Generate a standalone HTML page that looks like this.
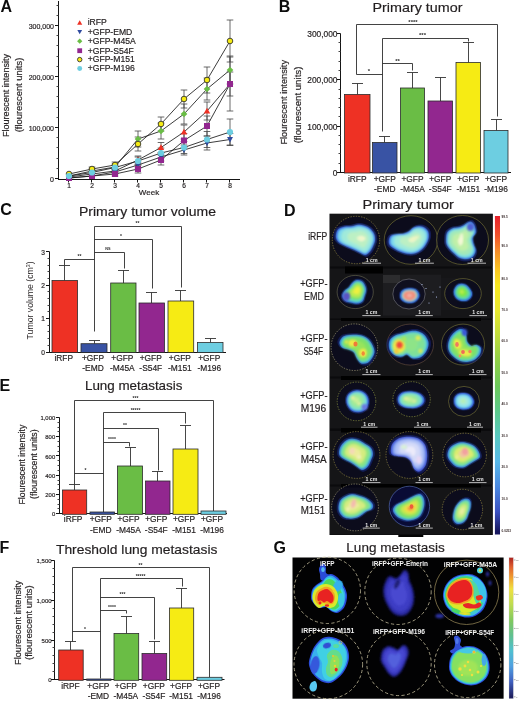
<!DOCTYPE html>
<html><head><meta charset="utf-8"><title>Figure</title>
<style>
html,body{margin:0;padding:0;background:#fff;}
body{width:520px;height:701px;overflow:hidden;font-family:"Liberation Sans",Arial,sans-serif;}
svg{display:block;position:absolute;left:0;top:0;}
svg text{font-family:"Liberation Sans",Arial,sans-serif;}
</style></head><body>
<svg width="520" height="701" viewBox="0 0 520 701">
<defs>
<filter id="b1" x="-30%" y="-30%" width="160%" height="160%"><feGaussianBlur stdDeviation="0.85"/></filter>
<filter id="b2" x="-30%" y="-30%" width="160%" height="160%"><feGaussianBlur stdDeviation="0.5"/></filter>
<filter id="b3" x="-30%" y="-30%" width="160%" height="160%"><feGaussianBlur stdDeviation="2.2"/></filter>
<linearGradient id="cbD" x1="0" y1="0" x2="0" y2="1">
<stop offset="0" stop-color="#e8202c"/><stop offset="0.06" stop-color="#f0502a"/><stop offset="0.108" stop-color="#f58a2a"/>
<stop offset="0.171" stop-color="#fcc820"/><stop offset="0.218" stop-color="#f8e820"/><stop offset="0.297" stop-color="#e8e830"/>
<stop offset="0.376" stop-color="#c0dc3c"/><stop offset="0.455" stop-color="#90d048"/><stop offset="0.534" stop-color="#6cc85a"/>
<stop offset="0.613" stop-color="#5cc88a"/><stop offset="0.692" stop-color="#58c8c0"/><stop offset="0.771" stop-color="#58b8e8"/>
<stop offset="0.85" stop-color="#4a88e0"/><stop offset="0.929" stop-color="#3a50c0"/><stop offset="0.99" stop-color="#181860"/>
</linearGradient>
<linearGradient id="cbG" x1="0" y1="0" x2="0" y2="1">
<stop offset="0.007" stop-color="#b02820"/><stop offset="0.066" stop-color="#e06030"/><stop offset="0.144" stop-color="#f0a030"/>
<stop offset="0.222" stop-color="#f0e040"/><stop offset="0.328" stop-color="#c0dc50"/><stop offset="0.448" stop-color="#80c860"/>
<stop offset="0.554" stop-color="#60c090"/><stop offset="0.66" stop-color="#50c0d0"/><stop offset="0.77" stop-color="#50a0e0"/>
<stop offset="0.878" stop-color="#4060c0"/><stop offset="0.985" stop-color="#202060"/>
</linearGradient>
</defs>
<rect width="520" height="701" fill="#ffffff"/>

<text x="0.4" y="11.9" font-size="16" text-anchor="start" font-weight="bold" fill="#0c0c0c">A</text>
<text x="278.8" y="11.9" font-size="16" text-anchor="start" font-weight="bold" fill="#0c0c0c">B</text>
<text x="0.2" y="215.3" font-size="16" text-anchor="start" font-weight="bold" fill="#0c0c0c">C</text>
<text x="284" y="215.5" font-size="16" text-anchor="start" font-weight="bold" fill="#0c0c0c">D</text>
<text x="-0.4" y="390.5" font-size="16" text-anchor="start" font-weight="bold" fill="#0c0c0c">E</text>
<text x="-0.4" y="552.8" font-size="16" text-anchor="start" font-weight="bold" fill="#0c0c0c">F</text>
<text x="273.5" y="552.5" font-size="16" text-anchor="start" font-weight="bold" fill="#0c0c0c">G</text>
<g id="panelA">
<line x1="58.5" y1="1" x2="58.5" y2="180" stroke="#151515" stroke-width="1.0"/>
<line x1="58" y1="179.5" x2="240" y2="179.5" stroke="#151515" stroke-width="1.0"/>
<line x1="55" y1="178.5" x2="58.5" y2="178.5" stroke="#151515" stroke-width="1.0"/>
<text x="54" y="181.7" font-size="7.0" text-anchor="end" font-weight="normal" fill="#231f20" stroke="#231f20" stroke-width="0.18">0</text>
<line x1="55" y1="127.5" x2="58.5" y2="127.5" stroke="#151515" stroke-width="1.0"/>
<text x="54" y="130.7" font-size="7.0" text-anchor="end" font-weight="normal" fill="#231f20" stroke="#231f20" stroke-width="0.18">100,000</text>
<line x1="55" y1="76.5" x2="58.5" y2="76.5" stroke="#151515" stroke-width="1.0"/>
<text x="54" y="79.7" font-size="7.0" text-anchor="end" font-weight="normal" fill="#231f20" stroke="#231f20" stroke-width="0.18">200,000</text>
<line x1="55" y1="25.5" x2="58.5" y2="25.5" stroke="#151515" stroke-width="1.0"/>
<text x="54" y="28.7" font-size="7.0" text-anchor="end" font-weight="normal" fill="#231f20" stroke="#231f20" stroke-width="0.18">300,000</text>
<line x1="56.5" y1="168.5" x2="58.5" y2="168.5" stroke="#444" stroke-width="1.0"/>
<line x1="56.5" y1="158.5" x2="58.5" y2="158.5" stroke="#444" stroke-width="1.0"/>
<line x1="56.5" y1="147.5" x2="58.5" y2="147.5" stroke="#444" stroke-width="1.0"/>
<line x1="56.5" y1="137.5" x2="58.5" y2="137.5" stroke="#444" stroke-width="1.0"/>
<line x1="56.5" y1="117.5" x2="58.5" y2="117.5" stroke="#444" stroke-width="1.0"/>
<line x1="56.5" y1="107.5" x2="58.5" y2="107.5" stroke="#444" stroke-width="1.0"/>
<line x1="56.5" y1="96.5" x2="58.5" y2="96.5" stroke="#444" stroke-width="1.0"/>
<line x1="56.5" y1="86.5" x2="58.5" y2="86.5" stroke="#444" stroke-width="1.0"/>
<line x1="56.5" y1="66.5" x2="58.5" y2="66.5" stroke="#444" stroke-width="1.0"/>
<line x1="56.5" y1="56.5" x2="58.5" y2="56.5" stroke="#444" stroke-width="1.0"/>
<line x1="56.5" y1="45.5" x2="58.5" y2="45.5" stroke="#444" stroke-width="1.0"/>
<line x1="56.5" y1="35.5" x2="58.5" y2="35.5" stroke="#444" stroke-width="1.0"/>
<line x1="56.5" y1="15.5" x2="58.5" y2="15.5" stroke="#444" stroke-width="1.0"/>
<line x1="56.5" y1="5.5" x2="58.5" y2="5.5" stroke="#444" stroke-width="1.0"/>
<line x1="68.5" y1="179.5" x2="68.5" y2="182.5" stroke="#151515" stroke-width="1.0"/>
<text x="69" y="187.5" font-size="6.6" text-anchor="middle" font-weight="normal" fill="#231f20" stroke="#231f20" stroke-width="0.18">1</text>
<line x1="91.5" y1="179.5" x2="91.5" y2="182.5" stroke="#151515" stroke-width="1.0"/>
<text x="92" y="187.5" font-size="6.6" text-anchor="middle" font-weight="normal" fill="#231f20" stroke="#231f20" stroke-width="0.18">2</text>
<line x1="114.5" y1="179.5" x2="114.5" y2="182.5" stroke="#151515" stroke-width="1.0"/>
<text x="115" y="187.5" font-size="6.6" text-anchor="middle" font-weight="normal" fill="#231f20" stroke="#231f20" stroke-width="0.18">3</text>
<line x1="137.5" y1="179.5" x2="137.5" y2="182.5" stroke="#151515" stroke-width="1.0"/>
<text x="138" y="187.5" font-size="6.6" text-anchor="middle" font-weight="normal" fill="#231f20" stroke="#231f20" stroke-width="0.18">4</text>
<line x1="160.5" y1="179.5" x2="160.5" y2="182.5" stroke="#151515" stroke-width="1.0"/>
<text x="161" y="187.5" font-size="6.6" text-anchor="middle" font-weight="normal" fill="#231f20" stroke="#231f20" stroke-width="0.18">5</text>
<line x1="183.5" y1="179.5" x2="183.5" y2="182.5" stroke="#151515" stroke-width="1.0"/>
<text x="184" y="187.5" font-size="6.6" text-anchor="middle" font-weight="normal" fill="#231f20" stroke="#231f20" stroke-width="0.18">6</text>
<line x1="206.5" y1="179.5" x2="206.5" y2="182.5" stroke="#151515" stroke-width="1.0"/>
<text x="207" y="187.5" font-size="6.6" text-anchor="middle" font-weight="normal" fill="#231f20" stroke="#231f20" stroke-width="0.18">7</text>
<line x1="229.5" y1="179.5" x2="229.5" y2="182.5" stroke="#151515" stroke-width="1.0"/>
<text x="230" y="187.5" font-size="6.6" text-anchor="middle" font-weight="normal" fill="#231f20" stroke="#231f20" stroke-width="0.18">8</text>
<text x="149" y="194.5" font-size="8" text-anchor="middle" font-weight="normal" fill="#231f20" stroke="#231f20" stroke-width="0.18">Week</text>
<text transform="translate(9,95.5) rotate(-90)" font-size="9" text-anchor="middle" fill="#231f20" stroke="#231f20" stroke-width="0.18" textLength="83" lengthAdjust="spacingAndGlyphs">Flourescent intensity</text>
<text transform="translate(21.5,95) rotate(-90)" font-size="9" text-anchor="middle" fill="#231f20" stroke="#231f20" stroke-width="0.18" textLength="74.5" lengthAdjust="spacingAndGlyphs">(flourescent units)</text>
<polyline points="69,177 92,174 115,171 138,160 161,147.5 184,132 207,111 230,84" fill="none" stroke="#1a1a1a" stroke-width="0.85"/>
<polyline points="69,178 92,176 115,172 138,165 161,157 184,150 207,143 230,139.5" fill="none" stroke="#1a1a1a" stroke-width="0.85"/>
<polyline points="69,176 92,171 115,167 138,139 161,131 184,114 207,89 230,70" fill="none" stroke="#1a1a1a" stroke-width="0.85"/>
<polyline points="69,178 92,176 115,174 138,169 161,160 184,140.5 207,126 230,84" fill="none" stroke="#1a1a1a" stroke-width="0.85"/>
<polyline points="69,174 92,169 115,165 138,144 161,124 184,99 207,80 230,41" fill="none" stroke="#1a1a1a" stroke-width="0.85"/>
<polyline points="69,176 92,172.5 115,167.5 138,161 161,153 184,147.5 207,139.5 230,132" fill="none" stroke="#1a1a1a" stroke-width="0.85"/>
<line x1="115" y1="169" x2="115" y2="173" stroke="#444" stroke-width="0.8"/>
<line x1="111.7" y1="169" x2="118.3" y2="169" stroke="#444" stroke-width="0.8"/>
<line x1="111.7" y1="173" x2="118.3" y2="173" stroke="#444" stroke-width="0.8"/>
<line x1="138" y1="156" x2="138" y2="164" stroke="#444" stroke-width="0.8"/>
<line x1="134.7" y1="156" x2="141.3" y2="156" stroke="#444" stroke-width="0.8"/>
<line x1="134.7" y1="164" x2="141.3" y2="164" stroke="#444" stroke-width="0.8"/>
<line x1="161" y1="142.5" x2="161" y2="152.5" stroke="#444" stroke-width="0.8"/>
<line x1="157.7" y1="142.5" x2="164.3" y2="142.5" stroke="#444" stroke-width="0.8"/>
<line x1="157.7" y1="152.5" x2="164.3" y2="152.5" stroke="#444" stroke-width="0.8"/>
<line x1="184" y1="125" x2="184" y2="139" stroke="#444" stroke-width="0.8"/>
<line x1="180.7" y1="125" x2="187.3" y2="125" stroke="#444" stroke-width="0.8"/>
<line x1="180.7" y1="139" x2="187.3" y2="139" stroke="#444" stroke-width="0.8"/>
<line x1="207" y1="102" x2="207" y2="120" stroke="#444" stroke-width="0.8"/>
<line x1="203.7" y1="102" x2="210.3" y2="102" stroke="#444" stroke-width="0.8"/>
<line x1="203.7" y1="120" x2="210.3" y2="120" stroke="#444" stroke-width="0.8"/>
<line x1="230" y1="72" x2="230" y2="96" stroke="#444" stroke-width="0.8"/>
<line x1="226.7" y1="72" x2="233.3" y2="72" stroke="#444" stroke-width="0.8"/>
<line x1="226.7" y1="96" x2="233.3" y2="96" stroke="#444" stroke-width="0.8"/>
<line x1="115" y1="170" x2="115" y2="174" stroke="#444" stroke-width="0.8"/>
<line x1="111.7" y1="170" x2="118.3" y2="170" stroke="#444" stroke-width="0.8"/>
<line x1="111.7" y1="174" x2="118.3" y2="174" stroke="#444" stroke-width="0.8"/>
<line x1="138" y1="162" x2="138" y2="168" stroke="#444" stroke-width="0.8"/>
<line x1="134.7" y1="162" x2="141.3" y2="162" stroke="#444" stroke-width="0.8"/>
<line x1="134.7" y1="168" x2="141.3" y2="168" stroke="#444" stroke-width="0.8"/>
<line x1="161" y1="153" x2="161" y2="161" stroke="#444" stroke-width="0.8"/>
<line x1="157.7" y1="153" x2="164.3" y2="153" stroke="#444" stroke-width="0.8"/>
<line x1="157.7" y1="161" x2="164.3" y2="161" stroke="#444" stroke-width="0.8"/>
<line x1="184" y1="145" x2="184" y2="155" stroke="#444" stroke-width="0.8"/>
<line x1="180.7" y1="145" x2="187.3" y2="145" stroke="#444" stroke-width="0.8"/>
<line x1="180.7" y1="155" x2="187.3" y2="155" stroke="#444" stroke-width="0.8"/>
<line x1="207" y1="136" x2="207" y2="150" stroke="#444" stroke-width="0.8"/>
<line x1="203.7" y1="136" x2="210.3" y2="136" stroke="#444" stroke-width="0.8"/>
<line x1="203.7" y1="150" x2="210.3" y2="150" stroke="#444" stroke-width="0.8"/>
<line x1="230" y1="133.5" x2="230" y2="145.5" stroke="#444" stroke-width="0.8"/>
<line x1="226.7" y1="133.5" x2="233.3" y2="133.5" stroke="#444" stroke-width="0.8"/>
<line x1="226.7" y1="145.5" x2="233.3" y2="145.5" stroke="#444" stroke-width="0.8"/>
<line x1="92" y1="169" x2="92" y2="173" stroke="#444" stroke-width="0.8"/>
<line x1="88.7" y1="169" x2="95.3" y2="169" stroke="#444" stroke-width="0.8"/>
<line x1="88.7" y1="173" x2="95.3" y2="173" stroke="#444" stroke-width="0.8"/>
<line x1="115" y1="164" x2="115" y2="170" stroke="#444" stroke-width="0.8"/>
<line x1="111.7" y1="164" x2="118.3" y2="164" stroke="#444" stroke-width="0.8"/>
<line x1="111.7" y1="170" x2="118.3" y2="170" stroke="#444" stroke-width="0.8"/>
<line x1="138" y1="131" x2="138" y2="147" stroke="#444" stroke-width="0.8"/>
<line x1="134.7" y1="131" x2="141.3" y2="131" stroke="#444" stroke-width="0.8"/>
<line x1="134.7" y1="147" x2="141.3" y2="147" stroke="#444" stroke-width="0.8"/>
<line x1="161" y1="123" x2="161" y2="139" stroke="#444" stroke-width="0.8"/>
<line x1="157.7" y1="123" x2="164.3" y2="123" stroke="#444" stroke-width="0.8"/>
<line x1="157.7" y1="139" x2="164.3" y2="139" stroke="#444" stroke-width="0.8"/>
<line x1="184" y1="104" x2="184" y2="124" stroke="#444" stroke-width="0.8"/>
<line x1="180.7" y1="104" x2="187.3" y2="104" stroke="#444" stroke-width="0.8"/>
<line x1="180.7" y1="124" x2="187.3" y2="124" stroke="#444" stroke-width="0.8"/>
<line x1="207" y1="78" x2="207" y2="100" stroke="#444" stroke-width="0.8"/>
<line x1="203.7" y1="78" x2="210.3" y2="78" stroke="#444" stroke-width="0.8"/>
<line x1="203.7" y1="100" x2="210.3" y2="100" stroke="#444" stroke-width="0.8"/>
<line x1="230" y1="56" x2="230" y2="84" stroke="#444" stroke-width="0.8"/>
<line x1="226.7" y1="56" x2="233.3" y2="56" stroke="#444" stroke-width="0.8"/>
<line x1="226.7" y1="84" x2="233.3" y2="84" stroke="#444" stroke-width="0.8"/>
<line x1="115" y1="172" x2="115" y2="176" stroke="#444" stroke-width="0.8"/>
<line x1="111.7" y1="172" x2="118.3" y2="172" stroke="#444" stroke-width="0.8"/>
<line x1="111.7" y1="176" x2="118.3" y2="176" stroke="#444" stroke-width="0.8"/>
<line x1="138" y1="165" x2="138" y2="173" stroke="#444" stroke-width="0.8"/>
<line x1="134.7" y1="165" x2="141.3" y2="165" stroke="#444" stroke-width="0.8"/>
<line x1="134.7" y1="173" x2="141.3" y2="173" stroke="#444" stroke-width="0.8"/>
<line x1="161" y1="155" x2="161" y2="165" stroke="#444" stroke-width="0.8"/>
<line x1="157.7" y1="155" x2="164.3" y2="155" stroke="#444" stroke-width="0.8"/>
<line x1="157.7" y1="165" x2="164.3" y2="165" stroke="#444" stroke-width="0.8"/>
<line x1="184" y1="133.5" x2="184" y2="147.5" stroke="#444" stroke-width="0.8"/>
<line x1="180.7" y1="133.5" x2="187.3" y2="133.5" stroke="#444" stroke-width="0.8"/>
<line x1="180.7" y1="147.5" x2="187.3" y2="147.5" stroke="#444" stroke-width="0.8"/>
<line x1="207" y1="116" x2="207" y2="136" stroke="#444" stroke-width="0.8"/>
<line x1="203.7" y1="116" x2="210.3" y2="116" stroke="#444" stroke-width="0.8"/>
<line x1="203.7" y1="136" x2="210.3" y2="136" stroke="#444" stroke-width="0.8"/>
<line x1="230" y1="57" x2="230" y2="111" stroke="#444" stroke-width="0.8"/>
<line x1="226.7" y1="57" x2="233.3" y2="57" stroke="#444" stroke-width="0.8"/>
<line x1="226.7" y1="111" x2="233.3" y2="111" stroke="#444" stroke-width="0.8"/>
<line x1="92" y1="167" x2="92" y2="171" stroke="#444" stroke-width="0.8"/>
<line x1="88.7" y1="167" x2="95.3" y2="167" stroke="#444" stroke-width="0.8"/>
<line x1="88.7" y1="171" x2="95.3" y2="171" stroke="#444" stroke-width="0.8"/>
<line x1="115" y1="162" x2="115" y2="168" stroke="#444" stroke-width="0.8"/>
<line x1="111.7" y1="162" x2="118.3" y2="162" stroke="#444" stroke-width="0.8"/>
<line x1="111.7" y1="168" x2="118.3" y2="168" stroke="#444" stroke-width="0.8"/>
<line x1="138" y1="137" x2="138" y2="151" stroke="#444" stroke-width="0.8"/>
<line x1="134.7" y1="137" x2="141.3" y2="137" stroke="#444" stroke-width="0.8"/>
<line x1="134.7" y1="151" x2="141.3" y2="151" stroke="#444" stroke-width="0.8"/>
<line x1="161" y1="117" x2="161" y2="131" stroke="#444" stroke-width="0.8"/>
<line x1="157.7" y1="117" x2="164.3" y2="117" stroke="#444" stroke-width="0.8"/>
<line x1="157.7" y1="131" x2="164.3" y2="131" stroke="#444" stroke-width="0.8"/>
<line x1="184" y1="90" x2="184" y2="108" stroke="#444" stroke-width="0.8"/>
<line x1="180.7" y1="90" x2="187.3" y2="90" stroke="#444" stroke-width="0.8"/>
<line x1="180.7" y1="108" x2="187.3" y2="108" stroke="#444" stroke-width="0.8"/>
<line x1="207" y1="67" x2="207" y2="93" stroke="#444" stroke-width="0.8"/>
<line x1="203.7" y1="67" x2="210.3" y2="67" stroke="#444" stroke-width="0.8"/>
<line x1="203.7" y1="93" x2="210.3" y2="93" stroke="#444" stroke-width="0.8"/>
<line x1="230" y1="20" x2="230" y2="62" stroke="#444" stroke-width="0.8"/>
<line x1="226.7" y1="20" x2="233.3" y2="20" stroke="#444" stroke-width="0.8"/>
<line x1="226.7" y1="62" x2="233.3" y2="62" stroke="#444" stroke-width="0.8"/>
<line x1="115" y1="165.5" x2="115" y2="169.5" stroke="#444" stroke-width="0.8"/>
<line x1="111.7" y1="165.5" x2="118.3" y2="165.5" stroke="#444" stroke-width="0.8"/>
<line x1="111.7" y1="169.5" x2="118.3" y2="169.5" stroke="#444" stroke-width="0.8"/>
<line x1="138" y1="157" x2="138" y2="165" stroke="#444" stroke-width="0.8"/>
<line x1="134.7" y1="157" x2="141.3" y2="157" stroke="#444" stroke-width="0.8"/>
<line x1="134.7" y1="165" x2="141.3" y2="165" stroke="#444" stroke-width="0.8"/>
<line x1="161" y1="148" x2="161" y2="158" stroke="#444" stroke-width="0.8"/>
<line x1="157.7" y1="148" x2="164.3" y2="148" stroke="#444" stroke-width="0.8"/>
<line x1="157.7" y1="158" x2="164.3" y2="158" stroke="#444" stroke-width="0.8"/>
<line x1="184" y1="141.5" x2="184" y2="153.5" stroke="#444" stroke-width="0.8"/>
<line x1="180.7" y1="141.5" x2="187.3" y2="141.5" stroke="#444" stroke-width="0.8"/>
<line x1="180.7" y1="153.5" x2="187.3" y2="153.5" stroke="#444" stroke-width="0.8"/>
<line x1="207" y1="131.5" x2="207" y2="147.5" stroke="#444" stroke-width="0.8"/>
<line x1="203.7" y1="131.5" x2="210.3" y2="131.5" stroke="#444" stroke-width="0.8"/>
<line x1="203.7" y1="147.5" x2="210.3" y2="147.5" stroke="#444" stroke-width="0.8"/>
<line x1="230" y1="119" x2="230" y2="145" stroke="#444" stroke-width="0.8"/>
<line x1="226.7" y1="119" x2="233.3" y2="119" stroke="#444" stroke-width="0.8"/>
<line x1="226.7" y1="145" x2="233.3" y2="145" stroke="#444" stroke-width="0.8"/>
<polygon points="69,173.8 72.2,179.56 65.8,179.56" fill="#ee3124"/>
<polygon points="92,170.8 95.2,176.56 88.8,176.56" fill="#ee3124"/>
<polygon points="115,167.8 118.2,173.56 111.8,173.56" fill="#ee3124"/>
<polygon points="138,156.8 141.2,162.56 134.8,162.56" fill="#ee3124"/>
<polygon points="161,144.3 164.2,150.06 157.8,150.06" fill="#ee3124"/>
<polygon points="184,128.8 187.2,134.56 180.8,134.56" fill="#ee3124"/>
<polygon points="207,107.8 210.2,113.56 203.8,113.56" fill="#ee3124"/>
<polygon points="230,80.8 233.2,86.56 226.8,86.56" fill="#ee3124"/>
<polygon points="66.0,175.6 72.0,175.6 69,181.0" fill="#2f4a9f"/>
<polygon points="89.0,173.6 95.0,173.6 92,179.0" fill="#2f4a9f"/>
<polygon points="112.0,169.6 118.0,169.6 115,175.0" fill="#2f4a9f"/>
<polygon points="135.0,162.6 141.0,162.6 138,168.0" fill="#2f4a9f"/>
<polygon points="158.0,154.6 164.0,154.6 161,160.0" fill="#2f4a9f"/>
<polygon points="181.0,147.6 187.0,147.6 184,153.0" fill="#2f4a9f"/>
<polygon points="204.0,140.6 210.0,140.6 207,146.0" fill="#2f4a9f"/>
<polygon points="227.0,137.1 233.0,137.1 230,142.5" fill="#2f4a9f"/>
<polygon points="69,172.7 72.3,176 69,179.3 65.7,176" fill="#6abd45"/>
<polygon points="92,167.7 95.3,171 92,174.3 88.7,171" fill="#6abd45"/>
<polygon points="115,163.7 118.3,167 115,170.3 111.7,167" fill="#6abd45"/>
<polygon points="138,135.7 141.3,139 138,142.3 134.7,139" fill="#6abd45"/>
<polygon points="161,127.7 164.3,131 161,134.3 157.7,131" fill="#6abd45"/>
<polygon points="184,110.7 187.3,114 184,117.3 180.7,114" fill="#6abd45"/>
<polygon points="207,85.7 210.3,89 207,92.3 203.7,89" fill="#6abd45"/>
<polygon points="230,66.7 233.3,70 230,73.3 226.7,70" fill="#6abd45"/>
<rect x="66.0" y="175.0" width="6.0" height="6.0" fill="#92278f"/>
<rect x="89.0" y="173.0" width="6.0" height="6.0" fill="#92278f"/>
<rect x="112.0" y="171.0" width="6.0" height="6.0" fill="#92278f"/>
<rect x="135.0" y="166.0" width="6.0" height="6.0" fill="#92278f"/>
<rect x="158.0" y="157.0" width="6.0" height="6.0" fill="#92278f"/>
<rect x="181.0" y="137.5" width="6.0" height="6.0" fill="#92278f"/>
<rect x="204.0" y="123.0" width="6.0" height="6.0" fill="#92278f"/>
<rect x="227.0" y="81.0" width="6.0" height="6.0" fill="#92278f"/>
<circle cx="69" cy="174" r="2.8" fill="#f6eb14" stroke="#222" stroke-width="0.8"/>
<circle cx="92" cy="169" r="2.8" fill="#f6eb14" stroke="#222" stroke-width="0.8"/>
<circle cx="115" cy="165" r="2.8" fill="#f6eb14" stroke="#222" stroke-width="0.8"/>
<circle cx="138" cy="144" r="2.8" fill="#f6eb14" stroke="#222" stroke-width="0.8"/>
<circle cx="161" cy="124" r="2.8" fill="#f6eb14" stroke="#222" stroke-width="0.8"/>
<circle cx="184" cy="99" r="2.8" fill="#f6eb14" stroke="#222" stroke-width="0.8"/>
<circle cx="207" cy="80" r="2.8" fill="#f6eb14" stroke="#222" stroke-width="0.8"/>
<circle cx="230" cy="41" r="2.8" fill="#f6eb14" stroke="#222" stroke-width="0.8"/>
<circle cx="69" cy="176" r="3.1" fill="#6dcee1"/>
<circle cx="92" cy="172.5" r="3.1" fill="#6dcee1"/>
<circle cx="115" cy="167.5" r="3.1" fill="#6dcee1"/>
<circle cx="138" cy="161" r="3.1" fill="#6dcee1"/>
<circle cx="161" cy="153" r="3.1" fill="#6dcee1"/>
<circle cx="184" cy="147.5" r="3.1" fill="#6dcee1"/>
<circle cx="207" cy="139.5" r="3.1" fill="#6dcee1"/>
<circle cx="230" cy="132" r="3.1" fill="#6dcee1"/>
<polygon points="79.7,20.14 82.26,24.748 77.14,24.748" fill="#ee3124"/>
<text x="87.7" y="25" font-size="8.6" text-anchor="start" font-weight="normal" fill="#231f20" stroke="#231f20" stroke-width="0.18">iRFP</text>
<polygon points="77.3,29.88 82.10000000000001,29.88 79.7,34.2" fill="#2f4a9f"/>
<text x="87.7" y="35" font-size="8.6" text-anchor="start" font-weight="normal" fill="#231f20" stroke="#231f20" stroke-width="0.18">+GFP-EMD</text>
<polygon points="79.7,38.56 82.34,41.2 79.7,43.84 77.06,41.2" fill="#6abd45"/>
<text x="87.7" y="43.5" font-size="8.6" text-anchor="start" font-weight="normal" fill="#231f20" stroke="#231f20" stroke-width="0.18">+GFP-M45A</text>
<rect x="77.3" y="48.300000000000004" width="4.800000000000001" height="4.800000000000001" fill="#92278f"/>
<text x="87.7" y="53.5" font-size="8.6" text-anchor="start" font-weight="normal" fill="#231f20" stroke="#231f20" stroke-width="0.18">+GFP-S54F</text>
<circle cx="79.7" cy="59.6" r="2.2399999999999998" fill="#f6eb14" stroke="#222" stroke-width="0.8"/>
<text x="87.7" y="62" font-size="8.6" text-anchor="start" font-weight="normal" fill="#231f20" stroke="#231f20" stroke-width="0.18">+GFP-M151</text>
<circle cx="79.7" cy="68.5" r="2.4800000000000004" fill="#6dcee1"/>
<text x="87.7" y="71.2" font-size="8.6" text-anchor="start" font-weight="normal" fill="#231f20" stroke="#231f20" stroke-width="0.18">+GFP-M196</text>
</g>
<g id="panelB">
<text x="417.5" y="12.3" font-size="13" text-anchor="middle" font-weight="normal" fill="#231f20" stroke="#231f20" stroke-width="0.18" textLength="90" lengthAdjust="spacingAndGlyphs">Primary tumor</text>
<polyline points="356.5,74.5 356.5,24.5 497.5,24.5 497.5,116.5" fill="none" stroke="#2e2e2e" stroke-width="0.9"/>
<polyline points="356.5,74.5 382.5,74.5" fill="none" stroke="#2e2e2e" stroke-width="0.9"/>
<polyline points="382.5,131.5 382.5,38.5 468.5,38.5 468.5,41.5" fill="none" stroke="#2e2e2e" stroke-width="0.9"/>
<polyline points="382.5,63.5 412.5,63.5 412.5,70.5" fill="none" stroke="#2e2e2e" stroke-width="0.9"/>
<line x1="340.5" y1="33.5" x2="340.5" y2="173.0" stroke="#151515" stroke-width="1.0"/>
<line x1="340.0" y1="172.5" x2="511" y2="172.5" stroke="#151515" stroke-width="1.0"/>
<line x1="337.0" y1="172.5" x2="340.5" y2="172.5" stroke="#151515" stroke-width="1.0"/>
<text x="337.5" y="176.024" font-size="8.4" text-anchor="end" font-weight="normal" fill="#231f20" stroke="#231f20" stroke-width="0.18">0</text>
<line x1="337.0" y1="126.5" x2="340.5" y2="126.5" stroke="#151515" stroke-width="1.0"/>
<text x="337.5" y="129.724" font-size="8.4" text-anchor="end" font-weight="normal" fill="#231f20" stroke="#231f20" stroke-width="0.18">100,000</text>
<line x1="337.0" y1="79.5" x2="340.5" y2="79.5" stroke="#151515" stroke-width="1.0"/>
<text x="337.5" y="83.424" font-size="8.4" text-anchor="end" font-weight="normal" fill="#231f20" stroke="#231f20" stroke-width="0.18">200,000</text>
<line x1="337.0" y1="33.5" x2="340.5" y2="33.5" stroke="#151515" stroke-width="1.0"/>
<text x="337.5" y="37.024" font-size="8.4" text-anchor="end" font-weight="normal" fill="#231f20" stroke="#231f20" stroke-width="0.18">300,000</text>
<line x1="338.5" y1="163.5" x2="340.5" y2="163.5" stroke="#444" stroke-width="1.0"/>
<line x1="338.5" y1="153.5" x2="340.5" y2="153.5" stroke="#444" stroke-width="1.0"/>
<line x1="338.5" y1="144.5" x2="340.5" y2="144.5" stroke="#444" stroke-width="1.0"/>
<line x1="338.5" y1="135.5" x2="340.5" y2="135.5" stroke="#444" stroke-width="1.0"/>
<line x1="338.5" y1="116.5" x2="340.5" y2="116.5" stroke="#444" stroke-width="1.0"/>
<line x1="338.5" y1="107.5" x2="340.5" y2="107.5" stroke="#444" stroke-width="1.0"/>
<line x1="338.5" y1="98.5" x2="340.5" y2="98.5" stroke="#444" stroke-width="1.0"/>
<line x1="338.5" y1="89.5" x2="340.5" y2="89.5" stroke="#444" stroke-width="1.0"/>
<line x1="338.5" y1="70.5" x2="340.5" y2="70.5" stroke="#444" stroke-width="1.0"/>
<line x1="338.5" y1="61.5" x2="340.5" y2="61.5" stroke="#444" stroke-width="1.0"/>
<line x1="338.5" y1="51.5" x2="340.5" y2="51.5" stroke="#444" stroke-width="1.0"/>
<line x1="338.5" y1="42.5" x2="340.5" y2="42.5" stroke="#444" stroke-width="1.0"/>
<line x1="357.5" y1="83.5" x2="357.5" y2="94.5" stroke="#333" stroke-width="0.9"/>
<line x1="352.0" y1="83.5" x2="363.0" y2="83.5" stroke="#333" stroke-width="0.9"/>
<rect x="344.5" y="94.5" width="25.5" height="78.5" fill="#ee3124" stroke="#2b2b2b" stroke-width="0.8"/>
<text x="357.25" y="182" font-size="8.4" text-anchor="middle" font-weight="normal" fill="#231f20" stroke="#231f20" stroke-width="0.18">iRFP</text>
<line x1="384.5" y1="136.5" x2="384.5" y2="142.5" stroke="#333" stroke-width="0.9"/>
<line x1="379.0" y1="136.5" x2="390.0" y2="136.5" stroke="#333" stroke-width="0.9"/>
<rect x="372.5" y="142.5" width="24.5" height="30.5" fill="#3953a4" stroke="#2b2b2b" stroke-width="0.8"/>
<text x="384.75" y="182" font-size="8.4" text-anchor="middle" font-weight="normal" fill="#231f20" stroke="#231f20" stroke-width="0.18">+GFP</text>
<text x="384.75" y="191.5" font-size="8.4" text-anchor="middle" font-weight="normal" fill="#231f20" stroke="#231f20" stroke-width="0.18">-EMD</text>
<line x1="412.5" y1="72.5" x2="412.5" y2="88" stroke="#333" stroke-width="0.9"/>
<line x1="407.0" y1="72.5" x2="418.0" y2="72.5" stroke="#333" stroke-width="0.9"/>
<rect x="400.5" y="88" width="24.0" height="85" fill="#6abd45" stroke="#2b2b2b" stroke-width="0.8"/>
<text x="412.5" y="182" font-size="8.4" text-anchor="middle" font-weight="normal" fill="#231f20" stroke="#231f20" stroke-width="0.18">+GFP</text>
<text x="412.5" y="191.5" font-size="8.4" text-anchor="middle" font-weight="normal" fill="#231f20" stroke="#231f20" stroke-width="0.18">-M45A</text>
<line x1="440.5" y1="77.5" x2="440.5" y2="101" stroke="#333" stroke-width="0.9"/>
<line x1="435.0" y1="77.5" x2="446.0" y2="77.5" stroke="#333" stroke-width="0.9"/>
<rect x="428" y="101" width="24.5" height="72" fill="#92278f" stroke="#2b2b2b" stroke-width="0.8"/>
<text x="440.25" y="182" font-size="8.4" text-anchor="middle" font-weight="normal" fill="#231f20" stroke="#231f20" stroke-width="0.18">+GFP</text>
<text x="440.25" y="191.5" font-size="8.4" text-anchor="middle" font-weight="normal" fill="#231f20" stroke="#231f20" stroke-width="0.18">-S54F</text>
<line x1="468.5" y1="42.5" x2="468.5" y2="62.5" stroke="#333" stroke-width="0.9"/>
<line x1="463.0" y1="42.5" x2="474.0" y2="42.5" stroke="#333" stroke-width="0.9"/>
<rect x="456" y="62.5" width="24.5" height="110.5" fill="#f6eb14" stroke="#2b2b2b" stroke-width="0.8"/>
<text x="468.25" y="182" font-size="8.4" text-anchor="middle" font-weight="normal" fill="#231f20" stroke="#231f20" stroke-width="0.18">+GFP</text>
<text x="468.25" y="191.5" font-size="8.4" text-anchor="middle" font-weight="normal" fill="#231f20" stroke="#231f20" stroke-width="0.18">-M151</text>
<line x1="496.5" y1="119.5" x2="496.5" y2="130.5" stroke="#333" stroke-width="0.9"/>
<line x1="491.0" y1="119.5" x2="502.0" y2="119.5" stroke="#333" stroke-width="0.9"/>
<rect x="484" y="130.5" width="24" height="42.5" fill="#6dcee1" stroke="#2b2b2b" stroke-width="0.8"/>
<text x="496.0" y="182" font-size="8.4" text-anchor="middle" font-weight="normal" fill="#231f20" stroke="#231f20" stroke-width="0.18">+GFP</text>
<text x="496.0" y="191.5" font-size="8.4" text-anchor="middle" font-weight="normal" fill="#231f20" stroke="#231f20" stroke-width="0.18">-M196</text>
<text x="413" y="24" font-size="6" text-anchor="middle" font-weight="bold" fill="#2a2a2a">****</text>
<text x="422.5" y="37" font-size="6" text-anchor="middle" font-weight="bold" fill="#2a2a2a">***</text>
<text x="397.5" y="62.5" font-size="6" text-anchor="middle" font-weight="bold" fill="#2a2a2a">**</text>
<text x="369" y="73" font-size="6" text-anchor="middle" font-weight="bold" fill="#2a2a2a">*</text>
<text transform="translate(287.1,102.3) rotate(-90)" font-size="9.2" text-anchor="middle" fill="#231f20" stroke="#231f20" stroke-width="0.18" textLength="84.6" lengthAdjust="spacingAndGlyphs">Flourescent intensity</text>
<text transform="translate(300.6,105) rotate(-90)" font-size="9.2" text-anchor="middle" fill="#231f20" stroke="#231f20" stroke-width="0.18" textLength="76.7" lengthAdjust="spacingAndGlyphs">(flourescent units)</text>
</g>
<g id="panelC">
<text x="147.5" y="215.5" font-size="13" text-anchor="middle" font-weight="normal" fill="#231f20" stroke="#231f20" stroke-width="0.18" textLength="137" lengthAdjust="spacingAndGlyphs">Primary tumor volume</text>
<polyline points="94.5,331.5 94.5,226.5 181.5,226.5 181.5,287.5" fill="none" stroke="#2e2e2e" stroke-width="0.9"/>
<polyline points="94.5,239.5 152.5,239.5 152.5,288.5" fill="none" stroke="#2e2e2e" stroke-width="0.9"/>
<polyline points="94.5,252.5 124.5,252.5 124.5,268.5" fill="none" stroke="#2e2e2e" stroke-width="0.9"/>
<polyline points="64.5,265.5 64.5,259.5 94.5,259.5" fill="none" stroke="#2e2e2e" stroke-width="0.9"/>
<line x1="49.5" y1="251.7" x2="49.5" y2="353.0" stroke="#151515" stroke-width="1.0"/>
<line x1="49.0" y1="352.5" x2="226" y2="352.5" stroke="#151515" stroke-width="1.0"/>
<line x1="46.0" y1="352.5" x2="49.5" y2="352.5" stroke="#151515" stroke-width="1.0"/>
<text x="45" y="354.876" font-size="6.6" text-anchor="end" font-weight="normal" fill="#231f20" stroke="#231f20" stroke-width="0.18">0</text>
<line x1="46.0" y1="318.5" x2="49.5" y2="318.5" stroke="#151515" stroke-width="1.0"/>
<text x="45" y="321.476" font-size="6.6" text-anchor="end" font-weight="normal" fill="#231f20" stroke="#231f20" stroke-width="0.18">1</text>
<line x1="46.0" y1="285.5" x2="49.5" y2="285.5" stroke="#151515" stroke-width="1.0"/>
<text x="45" y="287.976" font-size="6.6" text-anchor="end" font-weight="normal" fill="#231f20" stroke="#231f20" stroke-width="0.18">2</text>
<line x1="46.0" y1="251.5" x2="49.5" y2="251.5" stroke="#151515" stroke-width="1.0"/>
<text x="45" y="254.576" font-size="6.6" text-anchor="end" font-weight="normal" fill="#231f20" stroke="#231f20" stroke-width="0.18">3</text>
<line x1="47.5" y1="345.5" x2="49.5" y2="345.5" stroke="#444" stroke-width="1.0"/>
<line x1="47.5" y1="338.5" x2="49.5" y2="338.5" stroke="#444" stroke-width="1.0"/>
<line x1="47.5" y1="331.5" x2="49.5" y2="331.5" stroke="#444" stroke-width="1.0"/>
<line x1="47.5" y1="325.5" x2="49.5" y2="325.5" stroke="#444" stroke-width="1.0"/>
<line x1="47.5" y1="311.5" x2="49.5" y2="311.5" stroke="#444" stroke-width="1.0"/>
<line x1="47.5" y1="305.5" x2="49.5" y2="305.5" stroke="#444" stroke-width="1.0"/>
<line x1="47.5" y1="298.5" x2="49.5" y2="298.5" stroke="#444" stroke-width="1.0"/>
<line x1="47.5" y1="291.5" x2="49.5" y2="291.5" stroke="#444" stroke-width="1.0"/>
<line x1="47.5" y1="278.5" x2="49.5" y2="278.5" stroke="#444" stroke-width="1.0"/>
<line x1="47.5" y1="271.5" x2="49.5" y2="271.5" stroke="#444" stroke-width="1.0"/>
<line x1="47.5" y1="265.5" x2="49.5" y2="265.5" stroke="#444" stroke-width="1.0"/>
<line x1="47.5" y1="258.5" x2="49.5" y2="258.5" stroke="#444" stroke-width="1.0"/>
<line x1="64.5" y1="265.5" x2="64.5" y2="280.5" stroke="#333" stroke-width="0.9"/>
<line x1="59.0" y1="265.5" x2="70.0" y2="265.5" stroke="#333" stroke-width="0.9"/>
<rect x="52" y="280.5" width="25.5" height="72.0" fill="#ee3124" stroke="#2b2b2b" stroke-width="0.8"/>
<text x="63.75" y="360.5" font-size="8.4" text-anchor="middle" font-weight="normal" fill="#231f20" stroke="#231f20" stroke-width="0.18">iRFP</text>
<line x1="94.5" y1="340.5" x2="94.5" y2="343.7" stroke="#333" stroke-width="0.9"/>
<line x1="89.0" y1="340.5" x2="100.0" y2="340.5" stroke="#333" stroke-width="0.9"/>
<rect x="81" y="343.7" width="26" height="8.800000000000011" fill="#3953a4" stroke="#2b2b2b" stroke-width="0.8"/>
<text x="93.0" y="360.5" font-size="8.4" text-anchor="middle" font-weight="normal" fill="#231f20" stroke="#231f20" stroke-width="0.18">+GFP</text>
<text x="93.0" y="371" font-size="8.4" text-anchor="middle" font-weight="normal" fill="#231f20" stroke="#231f20" stroke-width="0.18">-EMD</text>
<line x1="123.5" y1="270.5" x2="123.5" y2="283" stroke="#333" stroke-width="0.9"/>
<line x1="118.0" y1="270.5" x2="129.0" y2="270.5" stroke="#333" stroke-width="0.9"/>
<rect x="110.7" y="283" width="25.299999999999997" height="69.5" fill="#6abd45" stroke="#2b2b2b" stroke-width="0.8"/>
<text x="122.35" y="360.5" font-size="8.4" text-anchor="middle" font-weight="normal" fill="#231f20" stroke="#231f20" stroke-width="0.18">+GFP</text>
<text x="122.35" y="371" font-size="8.4" text-anchor="middle" font-weight="normal" fill="#231f20" stroke="#231f20" stroke-width="0.18">-M45A</text>
<line x1="151.5" y1="292.5" x2="151.5" y2="303" stroke="#333" stroke-width="0.9"/>
<line x1="146.0" y1="292.5" x2="157.0" y2="292.5" stroke="#333" stroke-width="0.9"/>
<rect x="139" y="303" width="25.5" height="49.5" fill="#92278f" stroke="#2b2b2b" stroke-width="0.8"/>
<text x="150.75" y="360.5" font-size="8.4" text-anchor="middle" font-weight="normal" fill="#231f20" stroke="#231f20" stroke-width="0.18">+GFP</text>
<text x="150.75" y="371" font-size="8.4" text-anchor="middle" font-weight="normal" fill="#231f20" stroke="#231f20" stroke-width="0.18">-S54F</text>
<line x1="180.5" y1="290.5" x2="180.5" y2="301" stroke="#333" stroke-width="0.9"/>
<line x1="175.0" y1="290.5" x2="186.0" y2="290.5" stroke="#333" stroke-width="0.9"/>
<rect x="168" y="301" width="25.69999999999999" height="51.5" fill="#f6eb14" stroke="#2b2b2b" stroke-width="0.8"/>
<text x="179.85" y="360.5" font-size="8.4" text-anchor="middle" font-weight="normal" fill="#231f20" stroke="#231f20" stroke-width="0.18">+GFP</text>
<text x="179.85" y="371" font-size="8.4" text-anchor="middle" font-weight="normal" fill="#231f20" stroke="#231f20" stroke-width="0.18">-M151</text>
<line x1="210.5" y1="338.5" x2="210.5" y2="342.5" stroke="#333" stroke-width="0.9"/>
<line x1="205.0" y1="338.5" x2="216.0" y2="338.5" stroke="#333" stroke-width="0.9"/>
<rect x="197.5" y="342.5" width="25.5" height="10.0" fill="#6dcee1" stroke="#2b2b2b" stroke-width="0.8"/>
<text x="209.25" y="360.5" font-size="8.4" text-anchor="middle" font-weight="normal" fill="#231f20" stroke="#231f20" stroke-width="0.18">+GFP</text>
<text x="209.25" y="371" font-size="8.4" text-anchor="middle" font-weight="normal" fill="#231f20" stroke="#231f20" stroke-width="0.18">-M196</text>
<text x="137.5" y="225" font-size="5" text-anchor="middle" font-weight="bold" fill="#2a2a2a">**</text>
<text x="121" y="238" font-size="5" text-anchor="middle" font-weight="bold" fill="#2a2a2a">*</text>
<text x="108" y="250" font-size="3.8" text-anchor="middle" font-weight="bold" fill="#2a2a2a">NS</text>
<text x="79.5" y="258" font-size="5" text-anchor="middle" font-weight="bold" fill="#2a2a2a">**</text>
<text transform="translate(32.9,300.4) rotate(-90)" font-size="9.4" text-anchor="middle" fill="#231f20" textLength="78" lengthAdjust="spacingAndGlyphs">Tumor volume (cm<tspan font-size="5.6" dy="-3.2">3</tspan><tspan dy="3.2">)</tspan></text>
</g>
<g id="panelE">
<text x="133.7" y="390" font-size="13" text-anchor="middle" font-weight="normal" fill="#231f20" stroke="#231f20" stroke-width="0.18" textLength="97.5" lengthAdjust="spacingAndGlyphs">Lung metastasis</text>
<polyline points="74.5,484.5 74.5,400.5 213.5,400.5 213.5,511.5" fill="none" stroke="#2e2e2e" stroke-width="0.9"/>
<polyline points="103.5,512.5 103.5,412.5 185.5,412.5 185.5,423.5" fill="none" stroke="#2e2e2e" stroke-width="0.9"/>
<polyline points="103.5,428.5 158.5,428.5 158.5,470.5" fill="none" stroke="#2e2e2e" stroke-width="0.9"/>
<polyline points="103.5,442.5 129.5,442.5 129.5,446.5" fill="none" stroke="#2e2e2e" stroke-width="0.9"/>
<polyline points="74.5,473.5 103.5,473.5" fill="none" stroke="#2e2e2e" stroke-width="0.9"/>
<line x1="59.5" y1="417.4" x2="59.5" y2="514.0" stroke="#151515" stroke-width="1.0"/>
<line x1="59.0" y1="513.5" x2="227" y2="513.5" stroke="#151515" stroke-width="1.0"/>
<line x1="56.0" y1="513.5" x2="59.5" y2="513.5" stroke="#151515" stroke-width="1.0"/>
<text x="55.2" y="516.424" font-size="5.9" text-anchor="end" font-weight="normal" fill="#231f20" stroke="#231f20" stroke-width="0.18">0</text>
<line x1="56.0" y1="494.5" x2="59.5" y2="494.5" stroke="#151515" stroke-width="1.0"/>
<text x="55.2" y="497.144" font-size="5.9" text-anchor="end" font-weight="normal" fill="#231f20" stroke="#231f20" stroke-width="0.18">200</text>
<line x1="56.0" y1="475.5" x2="59.5" y2="475.5" stroke="#151515" stroke-width="1.0"/>
<text x="55.2" y="477.864" font-size="5.9" text-anchor="end" font-weight="normal" fill="#231f20" stroke="#231f20" stroke-width="0.18">400</text>
<line x1="56.0" y1="455.5" x2="59.5" y2="455.5" stroke="#151515" stroke-width="1.0"/>
<text x="55.2" y="458.58399999999995" font-size="5.9" text-anchor="end" font-weight="normal" fill="#231f20" stroke="#231f20" stroke-width="0.18">600</text>
<line x1="56.0" y1="436.5" x2="59.5" y2="436.5" stroke="#151515" stroke-width="1.0"/>
<text x="55.2" y="439.304" font-size="5.9" text-anchor="end" font-weight="normal" fill="#231f20" stroke="#231f20" stroke-width="0.18">800</text>
<line x1="56.0" y1="417.5" x2="59.5" y2="417.5" stroke="#151515" stroke-width="1.0"/>
<text x="55.2" y="420.024" font-size="5.9" text-anchor="end" font-weight="normal" fill="#231f20" stroke="#231f20" stroke-width="0.18">1,000</text>
<line x1="57.5" y1="508.5" x2="59.5" y2="508.5" stroke="#444" stroke-width="1.0"/>
<line x1="57.5" y1="504.5" x2="59.5" y2="504.5" stroke="#444" stroke-width="1.0"/>
<line x1="57.5" y1="499.5" x2="59.5" y2="499.5" stroke="#444" stroke-width="1.0"/>
<line x1="57.5" y1="489.5" x2="59.5" y2="489.5" stroke="#444" stroke-width="1.0"/>
<line x1="57.5" y1="484.5" x2="59.5" y2="484.5" stroke="#444" stroke-width="1.0"/>
<line x1="57.5" y1="480.5" x2="59.5" y2="480.5" stroke="#444" stroke-width="1.0"/>
<line x1="57.5" y1="470.5" x2="59.5" y2="470.5" stroke="#444" stroke-width="1.0"/>
<line x1="57.5" y1="465.5" x2="59.5" y2="465.5" stroke="#444" stroke-width="1.0"/>
<line x1="57.5" y1="460.5" x2="59.5" y2="460.5" stroke="#444" stroke-width="1.0"/>
<line x1="57.5" y1="451.5" x2="59.5" y2="451.5" stroke="#444" stroke-width="1.0"/>
<line x1="57.5" y1="446.5" x2="59.5" y2="446.5" stroke="#444" stroke-width="1.0"/>
<line x1="57.5" y1="441.5" x2="59.5" y2="441.5" stroke="#444" stroke-width="1.0"/>
<line x1="57.5" y1="431.5" x2="59.5" y2="431.5" stroke="#444" stroke-width="1.0"/>
<line x1="57.5" y1="427.5" x2="59.5" y2="427.5" stroke="#444" stroke-width="1.0"/>
<line x1="57.5" y1="422.5" x2="59.5" y2="422.5" stroke="#444" stroke-width="1.0"/>
<line x1="74.5" y1="484.5" x2="74.5" y2="490" stroke="#333" stroke-width="0.9"/>
<line x1="69.0" y1="484.5" x2="80.0" y2="484.5" stroke="#333" stroke-width="0.9"/>
<rect x="62.5" y="490" width="24.200000000000003" height="24.299999999999955" fill="#ee3124" stroke="#2b2b2b" stroke-width="0.8"/>
<text x="73.1" y="521.5" font-size="8.4" text-anchor="middle" font-weight="normal" fill="#231f20" stroke="#231f20" stroke-width="0.18">iRFP</text>
<rect x="90" y="512" width="24.5" height="2.2999999999999545" fill="#3953a4" stroke="#2b2b2b" stroke-width="0.8"/>
<text x="100.75" y="521.5" font-size="8.4" text-anchor="middle" font-weight="normal" fill="#231f20" stroke="#231f20" stroke-width="0.18">+GFP</text>
<text x="100.75" y="532.5" font-size="8.4" text-anchor="middle" font-weight="normal" fill="#231f20" stroke="#231f20" stroke-width="0.18">-EMD</text>
<line x1="130.5" y1="447.5" x2="130.5" y2="466" stroke="#333" stroke-width="0.9"/>
<line x1="125.0" y1="447.5" x2="136.0" y2="447.5" stroke="#333" stroke-width="0.9"/>
<rect x="117.5" y="466" width="25.0" height="48.299999999999955" fill="#6abd45" stroke="#2b2b2b" stroke-width="0.8"/>
<text x="128.5" y="521.5" font-size="8.4" text-anchor="middle" font-weight="normal" fill="#231f20" stroke="#231f20" stroke-width="0.18">+GFP</text>
<text x="128.5" y="532.5" font-size="8.4" text-anchor="middle" font-weight="normal" fill="#231f20" stroke="#231f20" stroke-width="0.18">-M45A</text>
<line x1="157.5" y1="471.5" x2="157.5" y2="481" stroke="#333" stroke-width="0.9"/>
<line x1="152.0" y1="471.5" x2="163.0" y2="471.5" stroke="#333" stroke-width="0.9"/>
<rect x="145.5" y="481" width="24.5" height="33.299999999999955" fill="#92278f" stroke="#2b2b2b" stroke-width="0.8"/>
<text x="156.25" y="521.5" font-size="8.4" text-anchor="middle" font-weight="normal" fill="#231f20" stroke="#231f20" stroke-width="0.18">+GFP</text>
<text x="156.25" y="532.5" font-size="8.4" text-anchor="middle" font-weight="normal" fill="#231f20" stroke="#231f20" stroke-width="0.18">-S54F</text>
<line x1="185.5" y1="425.5" x2="185.5" y2="449" stroke="#333" stroke-width="0.9"/>
<line x1="180.0" y1="425.5" x2="191.0" y2="425.5" stroke="#333" stroke-width="0.9"/>
<rect x="173" y="449" width="25" height="65.29999999999995" fill="#f6eb14" stroke="#2b2b2b" stroke-width="0.8"/>
<text x="184.0" y="521.5" font-size="8.4" text-anchor="middle" font-weight="normal" fill="#231f20" stroke="#231f20" stroke-width="0.18">+GFP</text>
<text x="184.0" y="532.5" font-size="8.4" text-anchor="middle" font-weight="normal" fill="#231f20" stroke="#231f20" stroke-width="0.18">-M151</text>
<rect x="201" y="511" width="25" height="3.2999999999999545" fill="#6dcee1" stroke="#2b2b2b" stroke-width="0.8"/>
<text x="212.0" y="521.5" font-size="8.4" text-anchor="middle" font-weight="normal" fill="#231f20" stroke="#231f20" stroke-width="0.18">+GFP</text>
<text x="212.0" y="532.5" font-size="8.4" text-anchor="middle" font-weight="normal" fill="#231f20" stroke="#231f20" stroke-width="0.18">-M196</text>
<text x="135.5" y="400" font-size="5" text-anchor="middle" font-weight="bold" fill="#2a2a2a">***</text>
<text x="135.5" y="411.5" font-size="5" text-anchor="middle" font-weight="bold" fill="#2a2a2a">*****</text>
<text x="125" y="427" font-size="5" text-anchor="middle" font-weight="bold" fill="#2a2a2a">**</text>
<text x="112" y="441" font-size="5" text-anchor="middle" font-weight="bold" fill="#2a2a2a">****</text>
<text x="85.5" y="472" font-size="5" text-anchor="middle" font-weight="bold" fill="#2a2a2a">*</text>
<text transform="translate(25.1,464.6) rotate(-90)" font-size="8.7" text-anchor="middle" fill="#231f20" stroke="#231f20" stroke-width="0.18" textLength="79.7" lengthAdjust="spacingAndGlyphs">Flourescent intensity</text>
<text transform="translate(36.6,464.2) rotate(-90)" font-size="8.7" text-anchor="middle" fill="#231f20" stroke="#231f20" stroke-width="0.18" textLength="69.5" lengthAdjust="spacingAndGlyphs">(flourescent units)</text>
</g>
<g id="panelF">
<text x="136.7" y="553.7" font-size="13" text-anchor="middle" font-weight="normal" fill="#231f20" stroke="#231f20" stroke-width="0.18" textLength="161.5" lengthAdjust="spacingAndGlyphs">Threshold lung metastasis</text>
<polyline points="72.5,641.5 72.5,567.5 209.5,567.5 209.5,677.5" fill="none" stroke="#2e2e2e" stroke-width="0.9"/>
<polyline points="100.5,678.5 100.5,578.5 182.5,578.5 182.5,586.5" fill="none" stroke="#2e2e2e" stroke-width="0.9"/>
<polyline points="100.5,597.5 154.5,597.5 154.5,639.5" fill="none" stroke="#2e2e2e" stroke-width="0.9"/>
<polyline points="100.5,610.5 126.5,610.5 126.5,613.5" fill="none" stroke="#2e2e2e" stroke-width="0.9"/>
<polyline points="72.5,631.5 100.5,631.5" fill="none" stroke="#2e2e2e" stroke-width="0.9"/>
<line x1="54.5" y1="560.4" x2="54.5" y2="680.0" stroke="#151515" stroke-width="1.0"/>
<line x1="54.0" y1="679.5" x2="224.5" y2="679.5" stroke="#151515" stroke-width="1.0"/>
<line x1="51.0" y1="679.5" x2="54.5" y2="679.5" stroke="#151515" stroke-width="1.0"/>
<text x="51.6" y="682.4599999999999" font-size="6.0" text-anchor="end" font-weight="normal" fill="#231f20" stroke="#231f20" stroke-width="0.18">0</text>
<line x1="51.0" y1="640.5" x2="54.5" y2="640.5" stroke="#151515" stroke-width="1.0"/>
<text x="51.6" y="642.66" font-size="6.0" text-anchor="end" font-weight="normal" fill="#231f20" stroke="#231f20" stroke-width="0.18">500</text>
<line x1="51.0" y1="600.5" x2="54.5" y2="600.5" stroke="#151515" stroke-width="1.0"/>
<text x="51.6" y="602.8599999999999" font-size="6.0" text-anchor="end" font-weight="normal" fill="#231f20" stroke="#231f20" stroke-width="0.18">1,000</text>
<line x1="51.0" y1="560.5" x2="54.5" y2="560.5" stroke="#151515" stroke-width="1.0"/>
<text x="51.6" y="563.06" font-size="6.0" text-anchor="end" font-weight="normal" fill="#231f20" stroke="#231f20" stroke-width="0.18">1,500</text>
<line x1="52.5" y1="671.5" x2="54.5" y2="671.5" stroke="#444" stroke-width="1.0"/>
<line x1="52.5" y1="663.5" x2="54.5" y2="663.5" stroke="#444" stroke-width="1.0"/>
<line x1="52.5" y1="655.5" x2="54.5" y2="655.5" stroke="#444" stroke-width="1.0"/>
<line x1="52.5" y1="647.5" x2="54.5" y2="647.5" stroke="#444" stroke-width="1.0"/>
<line x1="52.5" y1="632.5" x2="54.5" y2="632.5" stroke="#444" stroke-width="1.0"/>
<line x1="52.5" y1="624.5" x2="54.5" y2="624.5" stroke="#444" stroke-width="1.0"/>
<line x1="52.5" y1="616.5" x2="54.5" y2="616.5" stroke="#444" stroke-width="1.0"/>
<line x1="52.5" y1="608.5" x2="54.5" y2="608.5" stroke="#444" stroke-width="1.0"/>
<line x1="52.5" y1="592.5" x2="54.5" y2="592.5" stroke="#444" stroke-width="1.0"/>
<line x1="52.5" y1="584.5" x2="54.5" y2="584.5" stroke="#444" stroke-width="1.0"/>
<line x1="52.5" y1="576.5" x2="54.5" y2="576.5" stroke="#444" stroke-width="1.0"/>
<line x1="52.5" y1="568.5" x2="54.5" y2="568.5" stroke="#444" stroke-width="1.0"/>
<line x1="70.5" y1="641.5" x2="70.5" y2="650" stroke="#333" stroke-width="0.9"/>
<line x1="65.0" y1="641.5" x2="76.0" y2="641.5" stroke="#333" stroke-width="0.9"/>
<rect x="58.7" y="650" width="24.5" height="30.299999999999955" fill="#ee3124" stroke="#2b2b2b" stroke-width="0.8"/>
<text x="70.45" y="688.7" font-size="8.4" text-anchor="middle" font-weight="normal" fill="#231f20" stroke="#231f20" stroke-width="0.18">iRPF</text>
<rect x="86.7" y="679" width="24.299999999999997" height="1.2999999999999545" fill="#3953a4" stroke="#2b2b2b" stroke-width="0.8"/>
<text x="98.35" y="688.7" font-size="8.4" text-anchor="middle" font-weight="normal" fill="#231f20" stroke="#231f20" stroke-width="0.18">+GFP</text>
<text x="98.35" y="698.7" font-size="8.4" text-anchor="middle" font-weight="normal" fill="#231f20" stroke="#231f20" stroke-width="0.18">-EMD</text>
<line x1="126.5" y1="616.5" x2="126.5" y2="633.5" stroke="#333" stroke-width="0.9"/>
<line x1="121.0" y1="616.5" x2="132.0" y2="616.5" stroke="#333" stroke-width="0.9"/>
<rect x="114" y="633.5" width="24.69999999999999" height="46.799999999999955" fill="#6abd45" stroke="#2b2b2b" stroke-width="0.8"/>
<text x="125.85" y="688.7" font-size="8.4" text-anchor="middle" font-weight="normal" fill="#231f20" stroke="#231f20" stroke-width="0.18">+GFP</text>
<text x="125.85" y="698.7" font-size="8.4" text-anchor="middle" font-weight="normal" fill="#231f20" stroke="#231f20" stroke-width="0.18">-M45A</text>
<line x1="154.5" y1="641.5" x2="154.5" y2="653.5" stroke="#333" stroke-width="0.9"/>
<line x1="149.0" y1="641.5" x2="160.0" y2="641.5" stroke="#333" stroke-width="0.9"/>
<rect x="142" y="653.5" width="24.69999999999999" height="26.799999999999955" fill="#92278f" stroke="#2b2b2b" stroke-width="0.8"/>
<text x="153.85" y="688.7" font-size="8.4" text-anchor="middle" font-weight="normal" fill="#231f20" stroke="#231f20" stroke-width="0.18">+GFP</text>
<text x="153.85" y="698.7" font-size="8.4" text-anchor="middle" font-weight="normal" fill="#231f20" stroke="#231f20" stroke-width="0.18">-S54F</text>
<line x1="181.5" y1="588.5" x2="181.5" y2="608" stroke="#333" stroke-width="0.9"/>
<line x1="176.0" y1="588.5" x2="187.0" y2="588.5" stroke="#333" stroke-width="0.9"/>
<rect x="169.5" y="608" width="24.19999999999999" height="72.29999999999995" fill="#f6eb14" stroke="#2b2b2b" stroke-width="0.8"/>
<text x="181.1" y="688.7" font-size="8.4" text-anchor="middle" font-weight="normal" fill="#231f20" stroke="#231f20" stroke-width="0.18">+GFP</text>
<text x="181.1" y="698.7" font-size="8.4" text-anchor="middle" font-weight="normal" fill="#231f20" stroke="#231f20" stroke-width="0.18">-M151</text>
<rect x="197" y="677.3" width="25" height="3.0" fill="#6dcee1" stroke="#2b2b2b" stroke-width="0.8"/>
<text x="209.0" y="688.7" font-size="8.4" text-anchor="middle" font-weight="normal" fill="#231f20" stroke="#231f20" stroke-width="0.18">+GFP</text>
<text x="209.0" y="698.7" font-size="8.4" text-anchor="middle" font-weight="normal" fill="#231f20" stroke="#231f20" stroke-width="0.18">-M196</text>
<text x="140.5" y="567" font-size="5" text-anchor="middle" font-weight="bold" fill="#2a2a2a">**</text>
<text x="140.5" y="578" font-size="5" text-anchor="middle" font-weight="bold" fill="#2a2a2a">*****</text>
<text x="122.5" y="596.3" font-size="5" text-anchor="middle" font-weight="bold" fill="#2a2a2a">***</text>
<text x="112" y="609.3" font-size="5" text-anchor="middle" font-weight="bold" fill="#2a2a2a">****</text>
<text x="85" y="630.5" font-size="5" text-anchor="middle" font-weight="bold" fill="#2a2a2a">*</text>
<text transform="translate(20.6,622.8) rotate(-90)" font-size="9.2" text-anchor="middle" fill="#231f20" stroke="#231f20" stroke-width="0.18" textLength="84.4" lengthAdjust="spacingAndGlyphs">Flourescent intensity</text>
<text transform="translate(32,622.7) rotate(-90)" font-size="9.2" text-anchor="middle" fill="#231f20" stroke="#231f20" stroke-width="0.18" textLength="74.6" lengthAdjust="spacingAndGlyphs">(flourescent units)</text>
</g>
<g id="panelD">
<text x="408.2" y="209" font-size="13" text-anchor="middle" font-weight="normal" fill="#231f20" stroke="#231f20" stroke-width="0.18" textLength="91.5" lengthAdjust="spacingAndGlyphs">Primary tumor</text>
<text x="317.7" y="239.9" font-size="10" text-anchor="middle" font-weight="normal" fill="#231f20" stroke="#231f20" stroke-width="0.18" textLength="19" lengthAdjust="spacingAndGlyphs">iRFP</text>
<text x="313.9" y="287.3" font-size="10" text-anchor="middle" font-weight="normal" fill="#231f20" stroke="#231f20" stroke-width="0.18" textLength="27.3" lengthAdjust="spacingAndGlyphs">+GFP-</text>
<text x="314" y="300.4" font-size="10" text-anchor="middle" font-weight="normal" fill="#231f20" stroke="#231f20" stroke-width="0.18" textLength="20" lengthAdjust="spacingAndGlyphs">EMD</text>
<text x="313.9" y="342.3" font-size="10" text-anchor="middle" font-weight="normal" fill="#231f20" stroke="#231f20" stroke-width="0.18" textLength="27.3" lengthAdjust="spacingAndGlyphs">+GFP-</text>
<text x="313.2" y="354.6" font-size="10" text-anchor="middle" font-weight="normal" fill="#231f20" stroke="#231f20" stroke-width="0.18" textLength="19.6" lengthAdjust="spacingAndGlyphs">S54F</text>
<text x="313.9" y="399" font-size="10" text-anchor="middle" font-weight="normal" fill="#231f20" stroke="#231f20" stroke-width="0.18" textLength="27.3" lengthAdjust="spacingAndGlyphs">+GFP-</text>
<text x="313.4" y="412" font-size="10" text-anchor="middle" font-weight="normal" fill="#231f20" stroke="#231f20" stroke-width="0.18" textLength="25.4" lengthAdjust="spacingAndGlyphs">M196</text>
<text x="313.9" y="450.2" font-size="10" text-anchor="middle" font-weight="normal" fill="#231f20" stroke="#231f20" stroke-width="0.18" textLength="27.3" lengthAdjust="spacingAndGlyphs">+GFP-</text>
<text x="313.7" y="462.6" font-size="10" text-anchor="middle" font-weight="normal" fill="#231f20" stroke="#231f20" stroke-width="0.18" textLength="26" lengthAdjust="spacingAndGlyphs">M45A</text>
<text x="313.9" y="501.8" font-size="10" text-anchor="middle" font-weight="normal" fill="#231f20" stroke="#231f20" stroke-width="0.18" textLength="27.3" lengthAdjust="spacingAndGlyphs">+GFP-</text>
<text x="312.9" y="514.2" font-size="10" text-anchor="middle" font-weight="normal" fill="#231f20" stroke="#231f20" stroke-width="0.18" textLength="24.4" lengthAdjust="spacingAndGlyphs">M151</text>
<rect x="329.5" y="213.7" width="163.3" height="321.3" fill="#0b0b0d"/>
<rect x="398.3" y="530" width="25" height="7" fill="#050505"/>
<rect x="330.0" y="214" width="162.3" height="52.5" fill="#151517"/>
<rect x="330.0" y="268.5" width="162.3" height="50.0" fill="#151517"/>
<rect x="330.0" y="320" width="162.3" height="56.5" fill="#151517"/>
<rect x="330.0" y="378.5" width="162.3" height="50.0" fill="#151517"/>
<rect x="330.0" y="431" width="162.3" height="53.5" fill="#151517"/>
<rect x="330.0" y="486.5" width="162.3" height="48.0" fill="#151517"/>
<rect x="383" y="274.6" width="58" height="41" fill="#1d1d20"/>
<rect x="383" y="275" width="17" height="8" fill="#2c2c2e"/>
<rect x="441" y="278" width="16" height="32" fill="#17171a"/>
<rect x="345" y="266.5" width="38" height="7" fill="#010101"/>
<rect x="341" y="376" width="140" height="4" fill="#010101"/>
<rect x="341" y="428" width="140" height="4.5" fill="#010101"/>
<rect x="341" y="484" width="140" height="3.5" fill="#010101"/>
<rect x="341" y="318" width="140" height="3" fill="#010101"/>
<ellipse cx="356" cy="240" rx="23.7" ry="23.7" fill="#07081f" fill-opacity="0.65" stroke="#a89a4c" stroke-width="0.6" stroke-dasharray="1.4 1.3"/>
<ellipse cx="411" cy="240" rx="26.8" ry="24.3" fill="#07081f" fill-opacity="0.65" stroke="#7c7838" stroke-width="0.6"/>
<ellipse cx="462.5" cy="240" rx="26" ry="24.5" fill="#07081f" fill-opacity="0.65" stroke="#7c7838" stroke-width="0.6"/>
<g filter="url(#b2)">
<path d="M333.4,235.5C333.6,233.5 334.2,230.1 335.8,228.4C337.3,226.7 340.3,226.0 342.9,225.4C345.5,224.8 348.6,225.2 351.2,224.8C353.8,224.4 355.9,223.1 358.3,223.0C360.7,222.9 363.3,223.5 365.4,224.2C367.6,224.9 369.6,225.7 371.4,227.2C373.2,228.7 375.1,231.0 376.1,233.1C377.1,235.3 377.5,237.9 377.3,240.3C377.1,242.6 375.9,245.2 374.9,247.4C374.0,249.6 372.8,251.7 371.4,253.3C370.0,254.9 368.4,256.7 366.6,256.9C364.8,257.1 362.9,255.5 360.7,254.5C358.5,253.5 356.1,252.1 353.6,250.9C351.0,249.8 347.8,248.6 345.3,247.4C342.7,246.2 339.9,245.0 338.1,243.8C336.4,242.6 335.4,241.6 334.6,240.3C333.8,238.9 333.2,237.5 333.4,235.5Z" fill="#14207a" opacity="0.55"/>
<path d="M335.8,235.8C336.0,234.1 336.5,231.0 338.0,229.5C339.4,228.0 342.0,227.4 344.3,226.8C346.6,226.3 349.4,226.7 351.7,226.3C354.0,225.9 356.0,224.8 358.1,224.7C360.2,224.6 362.5,225.2 364.5,225.8C366.4,226.4 368.2,227.1 369.8,228.4C371.4,229.7 373.1,231.8 374.0,233.7C374.9,235.7 375.2,238.0 375.1,240.1C374.9,242.2 373.8,244.5 372.9,246.4C372.1,248.4 371.0,250.3 369.8,251.7C368.5,253.2 367.1,254.7 365.5,254.9C363.9,255.1 362.2,253.7 360.2,252.8C358.3,251.9 356.2,250.7 353.9,249.6C351.6,248.6 348.7,247.5 346.4,246.4C344.1,245.4 341.7,244.3 340.1,243.3C338.5,242.2 337.6,241.3 336.9,240.1C336.2,238.8 335.7,237.6 335.8,235.8Z" fill="#2238c0"/>
</g>
<g filter="url(#b1)">
<path d="M336.2,235.9C336.3,234.1 336.9,231.1 338.3,229.6C339.6,228.1 342.3,227.5 344.5,227.0C346.8,226.5 349.6,226.8 351.9,226.5C354.1,226.1 356.0,225.0 358.1,224.9C360.2,224.8 362.5,225.3 364.4,225.9C366.3,226.5 368.1,227.2 369.7,228.5C371.2,229.9 373.0,231.9 373.8,233.8C374.7,235.7 375.1,238.0 374.9,240.1C374.7,242.2 373.7,244.4 372.8,246.3C371.9,248.3 370.9,250.2 369.7,251.6C368.4,253.0 367.0,254.5 365.5,254.7C363.9,254.9 362.2,253.5 360.2,252.6C358.3,251.8 356.2,250.5 354.0,249.5C351.7,248.4 348.9,247.4 346.6,246.3C344.4,245.3 341.9,244.3 340.3,243.2C338.8,242.2 337.9,241.3 337.2,240.1C336.5,238.8 336.0,237.6 336.2,235.9Z" fill="#4a8eea"/>
<path d="M337.7,236.0C337.9,234.4 338.4,231.6 339.7,230.2C341.0,228.8 343.5,228.2 345.6,227.7C347.7,227.2 350.3,227.6 352.4,227.2C354.6,226.9 356.4,225.8 358.3,225.8C360.3,225.7 362.4,226.2 364.2,226.7C366.0,227.3 367.6,228.0 369.1,229.2C370.6,230.4 372.2,232.3 373.0,234.1C373.8,235.9 374.2,238.0 374.0,240.0C373.8,241.9 372.9,244.0 372.0,245.8C371.2,247.6 370.2,249.4 369.1,250.7C368.0,252.0 366.6,253.5 365.2,253.7C363.7,253.8 362.1,252.5 360.3,251.7C358.5,250.9 356.5,249.8 354.4,248.8C352.3,247.8 349.7,246.8 347.5,245.8C345.4,244.9 343.1,243.9 341.7,242.9C340.2,241.9 339.4,241.1 338.7,240.0C338.1,238.8 337.6,237.7 337.7,236.0Z" fill="#7cd8ee"/>
<path d="M341.3,236.4C341.4,235.0 341.9,232.6 343.0,231.4C344.1,230.3 346.1,229.8 347.9,229.4C349.7,229.0 352.0,229.2 353.8,229.0C355.6,228.7 357.1,227.8 358.7,227.7C360.4,227.6 362.2,228.1 363.7,228.5C365.2,229.0 366.6,229.6 367.9,230.6C369.1,231.6 370.5,233.2 371.2,234.8C371.9,236.3 372.1,238.1 372.0,239.7C371.9,241.4 371.0,243.2 370.3,244.7C369.7,246.2 368.8,247.8 367.9,248.9C366.9,250.0 365.8,251.2 364.5,251.4C363.3,251.5 361.9,250.4 360.4,249.7C358.9,249.0 357.2,248.0 355.4,247.2C353.6,246.4 351.4,245.5 349.6,244.7C347.8,243.9 345.9,243.1 344.6,242.2C343.4,241.4 342.7,240.7 342.1,239.7C341.6,238.8 341.2,237.8 341.3,236.4Z" fill="#a0eada"/>
<path d="M347.4,237.1C347.5,236.1 347.8,234.4 348.5,233.6C349.3,232.8 350.7,232.5 352.0,232.2C353.2,231.9 354.7,232.1 356.0,231.9C357.2,231.7 358.3,231.1 359.4,231.0C360.6,231.0 361.8,231.3 362.9,231.6C363.9,231.9 364.9,232.3 365.7,233.0C366.6,233.8 367.6,234.9 368.0,235.9C368.5,237.0 368.7,238.2 368.6,239.4C368.5,240.5 367.9,241.7 367.5,242.8C367.0,243.8 366.4,244.9 365.7,245.7C365.1,246.4 364.3,247.3 363.4,247.4C362.6,247.5 361.6,246.7 360.6,246.2C359.5,245.8 358.4,245.1 357.1,244.5C355.9,243.9 354.4,243.4 353.1,242.8C351.9,242.2 350.5,241.6 349.7,241.1C348.8,240.5 348.3,240.0 348.0,239.4C347.6,238.7 347.3,238.0 347.4,237.1Z" fill="#bcf0c4"/>
<path d="M356.5,238.0C356.5,237.7 356.6,237.1 356.9,236.9C357.1,236.6 357.6,236.5 358.0,236.4C358.4,236.3 358.9,236.4 359.3,236.3C359.7,236.2 360.1,236.0 360.5,236.0C360.9,236.0 361.3,236.1 361.6,236.2C362.0,236.3 362.3,236.4 362.6,236.7C362.9,236.9 363.2,237.3 363.3,237.6C363.5,238.0 363.6,238.4 363.5,238.8C363.5,239.2 363.3,239.6 363.1,239.9C363.0,240.3 362.8,240.6 362.6,240.9C362.4,241.1 362.1,241.4 361.8,241.5C361.5,241.5 361.2,241.2 360.9,241.1C360.5,240.9 360.1,240.7 359.7,240.5C359.3,240.3 358.8,240.1 358.4,239.9C358.0,239.7 357.5,239.5 357.2,239.4C356.9,239.2 356.8,239.0 356.7,238.8C356.5,238.6 356.4,238.3 356.5,238.0Z" fill="#e4f5cc"/>
</g>
<ellipse cx="362" cy="238.5" rx="3.5" ry="2.2" fill="#f0f6cc" filter="url(#b1)" transform="rotate(0 362 238.5)"/>
<g filter="url(#b2)">
<path d="M386.4,241.3C386.6,239.5 387.2,236.6 388.8,235.3C390.4,234.0 393.5,233.9 395.9,233.5C398.3,233.1 400.8,233.4 403.0,232.9C405.2,232.5 407.2,231.7 409.0,230.6C410.7,229.5 411.9,227.4 413.7,226.4C415.5,225.4 417.7,224.7 419.6,224.6C421.6,224.5 423.8,224.8 425.6,225.8C427.4,226.8 429.4,228.6 430.3,230.6C431.2,232.6 431.3,235.3 430.9,237.7C430.5,240.1 429.2,242.6 427.9,244.8C426.7,247.0 425.2,249.1 423.2,250.8C421.2,252.4 418.6,254.1 416.1,254.9C413.5,255.7 410.5,255.8 407.8,255.5C405.0,255.2 402.0,254.1 399.5,253.1C396.9,252.1 394.3,250.8 392.3,249.6C390.4,248.4 388.6,247.4 387.6,246.0C386.6,244.6 386.2,243.0 386.4,241.3Z" fill="#14207a" opacity="0.55"/>
<path d="M388.8,241.1C389.0,239.5 389.6,236.9 391.0,235.8C392.4,234.6 395.2,234.5 397.3,234.2C399.4,233.8 401.7,234.1 403.7,233.7C405.6,233.2 407.4,232.5 409.0,231.5C410.6,230.6 411.6,228.7 413.2,227.8C414.8,226.9 416.8,226.3 418.5,226.2C420.3,226.2 422.2,226.4 423.8,227.3C425.4,228.2 427.3,229.8 428.1,231.5C428.9,233.3 428.9,235.8 428.6,237.9C428.2,240.0 427.1,242.3 425.9,244.3C424.8,246.2 423.5,248.1 421.7,249.6C419.9,251.1 417.6,252.6 415.3,253.3C413.0,254.0 410.4,254.1 407.9,253.8C405.5,253.5 402.8,252.6 400.5,251.7C398.2,250.8 395.9,249.6 394.1,248.5C392.4,247.4 390.8,246.6 389.9,245.3C389.0,244.1 388.7,242.7 388.8,241.1Z" fill="#2238c0"/>
</g>
<g filter="url(#b1)">
<path d="M389.1,241.1C389.3,239.5 389.8,237.0 391.2,235.8C392.6,234.7 395.4,234.6 397.5,234.3C399.6,233.9 401.9,234.2 403.8,233.7C405.7,233.3 407.5,232.6 409.0,231.6C410.6,230.7 411.7,228.9 413.2,228.0C414.8,227.1 416.7,226.5 418.5,226.4C420.2,226.3 422.1,226.6 423.7,227.5C425.3,228.3 427.1,229.9 427.9,231.6C428.7,233.4 428.7,235.8 428.4,237.9C428.1,240.0 426.9,242.3 425.8,244.2C424.6,246.1 423.3,248.0 421.6,249.4C419.9,250.9 417.6,252.4 415.3,253.1C413.0,253.8 410.4,253.9 408.0,253.6C405.5,253.4 402.9,252.4 400.7,251.5C398.4,250.7 396.1,249.4 394.4,248.4C392.6,247.3 391.1,246.5 390.2,245.3C389.3,244.0 389.0,242.6 389.1,241.1Z" fill="#4a8eea"/>
<path d="M390.7,241.0C390.8,239.5 391.3,237.2 392.6,236.1C393.9,235.0 396.6,235.0 398.5,234.6C400.5,234.3 402.6,234.6 404.4,234.1C406.2,233.7 407.8,233.1 409.3,232.2C410.8,231.3 411.7,229.6 413.2,228.8C414.7,227.9 416.5,227.4 418.1,227.3C419.7,227.2 421.5,227.4 423.0,228.3C424.5,229.1 426.2,230.6 426.9,232.2C427.7,233.8 427.7,236.1 427.4,238.1C427.1,240.0 426.0,242.1 425.0,243.9C423.9,245.7 422.7,247.5 421.0,248.8C419.4,250.2 417.3,251.6 415.2,252.3C413.0,252.9 410.6,253.0 408.3,252.8C406.0,252.5 403.6,251.6 401.5,250.8C399.3,250.0 397.2,248.8 395.6,247.9C393.9,246.9 392.5,246.1 391.7,244.9C390.8,243.8 390.5,242.5 390.7,241.0Z" fill="#7cd8ee"/>
<path d="M394.1,240.8C394.2,239.6 394.6,237.6 395.8,236.7C396.9,235.8 399.1,235.7 400.7,235.5C402.4,235.2 404.2,235.4 405.7,235.0C407.2,234.7 408.6,234.1 409.9,233.4C411.1,232.6 411.9,231.2 413.2,230.5C414.4,229.8 415.9,229.3 417.3,229.2C418.7,229.2 420.2,229.4 421.5,230.1C422.7,230.8 424.2,232.0 424.8,233.4C425.4,234.8 425.5,236.7 425.2,238.4C424.9,240.0 424.0,241.8 423.1,243.3C422.2,244.9 421.2,246.3 419.8,247.5C418.4,248.7 416.6,249.8 414.8,250.4C413.0,250.9 411.0,251.0 409.0,250.8C407.1,250.6 405.0,249.8 403.2,249.1C401.4,248.5 399.6,247.5 398.2,246.7C396.9,245.8 395.6,245.1 394.9,244.2C394.2,243.2 394.0,242.1 394.1,240.8Z" fill="#a0eada"/>
<path d="M399.9,240.6C400.0,239.7 400.3,238.3 401.1,237.7C401.8,237.1 403.4,237.0 404.5,236.9C405.7,236.7 406.9,236.8 408.0,236.6C409.0,236.3 410.0,236.0 410.8,235.4C411.7,234.9 412.3,233.9 413.1,233.4C414.0,232.9 415.0,232.6 416.0,232.6C416.9,232.5 418.0,232.7 418.9,233.1C419.7,233.6 420.7,234.5 421.1,235.4C421.6,236.4 421.6,237.7 421.4,238.9C421.2,240.0 420.6,241.3 420.0,242.3C419.4,243.4 418.7,244.4 417.7,245.2C416.8,246.0 415.5,246.8 414.3,247.2C413.0,247.6 411.6,247.6 410.3,247.5C408.9,247.3 407.5,246.8 406.2,246.3C405.0,245.8 403.8,245.2 402.8,244.6C401.8,244.0 401.0,243.5 400.5,242.9C400.0,242.2 399.8,241.4 399.9,240.6Z" fill="#bcf0c4"/>
<path d="M408.7,240.2C408.7,239.9 408.8,239.4 409.0,239.2C409.3,239.0 409.8,239.0 410.2,239.0C410.6,238.9 411.0,238.9 411.3,238.9C411.7,238.8 412.0,238.7 412.3,238.5C412.6,238.3 412.8,238.0 413.0,237.8C413.3,237.7 413.7,237.5 414.0,237.5C414.3,237.5 414.7,237.6 414.9,237.7C415.2,237.9 415.6,238.2 415.7,238.5C415.9,238.8 415.9,239.2 415.8,239.6C415.7,240.0 415.5,240.4 415.3,240.8C415.1,241.1 414.9,241.5 414.6,241.7C414.2,242.0 413.8,242.3 413.4,242.4C413.0,242.5 412.5,242.5 412.1,242.5C411.6,242.4 411.2,242.3 410.8,242.1C410.3,241.9 409.9,241.7 409.6,241.5C409.3,241.3 409.0,241.2 408.8,241.0C408.7,240.7 408.6,240.5 408.7,240.2Z" fill="#e4f5cc"/>
</g>
<ellipse cx="414" cy="238.5" rx="5.5" ry="1.8" fill="#eef5c2" filter="url(#b1)" transform="rotate(-22 414 238.5)"/>
<g filter="url(#b2)">
<path d="M444.1,240.1C444.2,237.9 444.1,234.0 445.2,231.8C446.4,229.6 449.0,228.0 451.2,227.0C453.4,226.0 456.1,226.4 458.3,225.8C460.5,225.3 462.7,224.3 464.2,223.5C465.8,222.7 466.4,221.7 467.8,221.1C469.2,220.5 471.2,219.3 472.6,219.9C473.9,220.5 475.3,222.7 476.1,224.7C476.9,226.6 477.7,229.6 477.3,231.8C476.9,234.0 474.1,235.5 473.7,237.7C473.3,239.9 474.3,242.5 474.9,244.8C475.5,247.2 477.5,249.6 477.3,252.0C477.1,254.3 475.5,257.5 473.7,259.1C472.0,260.7 469.0,261.3 466.6,261.5C464.2,261.7 461.7,261.3 459.5,260.3C457.3,259.3 455.5,257.3 453.6,255.5C451.6,253.7 449.1,251.4 447.6,249.6C446.1,247.8 445.2,246.4 444.7,244.8C444.1,243.3 444.0,242.3 444.1,240.1Z" fill="#14207a" opacity="0.55"/>
<path d="M446.1,240.0C446.1,238.1 446.1,234.6 447.1,232.6C448.2,230.7 450.5,229.3 452.4,228.4C454.4,227.5 456.8,227.8 458.8,227.3C460.7,226.8 462.7,225.9 464.1,225.2C465.5,224.5 466.0,223.6 467.3,223.1C468.5,222.5 470.3,221.5 471.5,222.0C472.7,222.5 474.0,224.5 474.7,226.2C475.4,228.0 476.1,230.7 475.7,232.6C475.4,234.6 472.9,236.0 472.6,237.9C472.2,239.9 473.1,242.2 473.6,244.3C474.1,246.4 475.9,248.5 475.7,250.6C475.6,252.8 474.1,255.6 472.6,257.0C471.0,258.4 468.3,258.9 466.2,259.1C464.1,259.3 461.8,258.9 459.8,258.1C457.9,257.2 456.3,255.4 454.5,253.8C452.8,252.2 450.6,250.1 449.2,248.5C447.9,246.9 447.1,245.7 446.6,244.3C446.1,242.9 446.0,242.0 446.1,240.0Z" fill="#2238c0"/>
</g>
<g filter="url(#b1)">
<path d="M446.2,240.0C446.3,238.1 446.2,234.6 447.3,232.7C448.3,230.8 450.6,229.4 452.5,228.5C454.4,227.7 456.9,228.0 458.8,227.5C460.7,227.0 462.6,226.1 464.0,225.4C465.4,224.7 465.9,223.8 467.2,223.3C468.4,222.8 470.1,221.7 471.4,222.2C472.6,222.8 473.8,224.7 474.5,226.4C475.2,228.2 475.9,230.8 475.5,232.7C475.2,234.6 472.8,236.0 472.4,237.9C472.1,239.9 472.9,242.1 473.4,244.2C474.0,246.3 475.7,248.4 475.5,250.5C475.4,252.6 474.0,255.4 472.4,256.8C470.8,258.2 468.2,258.7 466.1,258.9C464.0,259.1 461.8,258.7 459.8,257.8C457.9,257.0 456.4,255.2 454.6,253.7C452.9,252.1 450.7,250.0 449.4,248.4C448.1,246.8 447.3,245.6 446.8,244.2C446.2,242.8 446.1,242.0 446.2,240.0Z" fill="#4a9eea"/>
<path d="M447.1,240.1C447.2,238.3 447.1,235.0 448.1,233.2C449.1,231.4 451.2,230.1 453.0,229.3C454.8,228.5 457.1,228.8 458.9,228.3C460.7,227.9 462.5,227.0 463.8,226.4C465.1,225.7 465.6,224.9 466.7,224.4C467.9,223.9 469.5,223.0 470.6,223.4C471.8,223.9 472.9,225.7 473.6,227.4C474.2,229.0 474.9,231.4 474.5,233.2C474.2,235.0 471.9,236.3 471.6,238.1C471.3,239.9 472.1,242.1 472.6,244.0C473.1,246.0 474.7,247.9 474.5,249.9C474.4,251.9 473.1,254.5 471.6,255.8C470.1,257.1 467.7,257.6 465.7,257.7C463.8,257.9 461.6,257.6 459.9,256.8C458.1,255.9 456.6,254.3 455.0,252.8C453.3,251.4 451.3,249.4 450.1,247.9C448.8,246.5 448.1,245.3 447.6,244.0C447.1,242.7 447.0,241.9 447.1,240.1Z" fill="#7ce0e4"/>
<path d="M449.1,240.2C449.2,238.7 449.1,236.0 449.9,234.4C450.7,232.9 452.5,231.8 454.1,231.1C455.6,230.4 457.5,230.7 459.0,230.3C460.6,229.9 462.1,229.2 463.2,228.6C464.3,228.1 464.7,227.4 465.7,227.0C466.6,226.6 468.0,225.7 469.0,226.1C470.0,226.6 470.9,228.1 471.5,229.5C472.0,230.8 472.6,232.9 472.3,234.4C472.0,236.0 470.1,237.1 469.8,238.6C469.6,240.1 470.2,241.9 470.7,243.6C471.1,245.2 472.5,246.9 472.3,248.5C472.2,250.2 471.1,252.4 469.8,253.5C468.6,254.6 466.5,255.0 464.9,255.2C463.2,255.3 461.4,255.0 459.9,254.3C458.4,253.7 457.1,252.3 455.7,251.0C454.3,249.8 452.6,248.1 451.6,246.9C450.5,245.6 449.9,244.7 449.5,243.6C449.1,242.5 449.0,241.8 449.1,240.2Z" fill="#a4eab8"/>
<path d="M452.5,240.5C452.5,239.4 452.5,237.5 453.0,236.5C453.6,235.4 454.8,234.6 455.9,234.2C456.9,233.7 458.3,233.9 459.3,233.6C460.4,233.3 461.4,232.8 462.2,232.4C463.0,232.1 463.3,231.6 463.9,231.3C464.6,231.0 465.6,230.4 466.2,230.7C466.9,231.0 467.6,232.1 467.9,233.0C468.3,234.0 468.7,235.4 468.5,236.5C468.3,237.5 467.0,238.3 466.8,239.3C466.6,240.4 467.1,241.6 467.4,242.8C467.7,243.9 468.6,245.1 468.5,246.2C468.4,247.4 467.7,248.9 466.8,249.6C465.9,250.4 464.5,250.7 463.4,250.8C462.2,250.9 461.0,250.7 459.9,250.2C458.9,249.7 458.0,248.8 457.0,247.9C456.1,247.1 454.9,245.9 454.2,245.1C453.5,244.2 453.0,243.5 452.7,242.8C452.5,242.0 452.4,241.5 452.5,240.5Z" fill="#c0f0a8"/>
<path d="M457.5,240.8C457.5,240.5 457.5,239.8 457.7,239.5C457.9,239.1 458.3,238.9 458.6,238.7C459.0,238.6 459.4,238.6 459.8,238.5C460.1,238.4 460.5,238.3 460.7,238.2C461.0,238.0 461.1,237.9 461.3,237.8C461.5,237.7 461.8,237.5 462.1,237.6C462.3,237.7 462.5,238.0 462.6,238.3C462.8,238.7 462.9,239.1 462.8,239.5C462.8,239.8 462.3,240.1 462.3,240.4C462.2,240.8 462.4,241.2 462.5,241.6C462.5,242.0 462.9,242.4 462.8,242.7C462.8,243.1 462.5,243.6 462.3,243.9C462.0,244.1 461.5,244.2 461.1,244.3C460.7,244.3 460.3,244.2 460.0,244.1C459.6,243.9 459.3,243.6 459.0,243.3C458.7,243.0 458.3,242.6 458.1,242.4C457.8,242.1 457.7,241.8 457.6,241.6C457.5,241.3 457.5,241.2 457.5,240.8Z" fill="#e4f5c0"/>
</g>
<ellipse cx="461" cy="239.5" rx="1.8" ry="6.5" fill="#f6f8dc" filter="url(#b1)" transform="rotate(8 461 239.5)"/>
<ellipse cx="470.5" cy="227" rx="3.6" ry="4" fill="#5060d4" filter="url(#b1)" transform="rotate(0 470.5 227)"/>
<line x1="362.3" y1="263.2" x2="381" y2="263.2" stroke="#e0e0e0" stroke-width="0.8"/>
<text x="371.65" y="261.8" font-size="5.2" text-anchor="middle" font-weight="bold" fill="#e6e6e6">1 cm</text>
<line x1="415" y1="263.2" x2="433.9" y2="263.2" stroke="#e0e0e0" stroke-width="0.8"/>
<text x="424.45" y="261.8" font-size="5.2" text-anchor="middle" font-weight="bold" fill="#e6e6e6">1 cm</text>
<line x1="467.5" y1="263.2" x2="486" y2="263.2" stroke="#e0e0e0" stroke-width="0.8"/>
<text x="476.75" y="261.8" font-size="5.2" text-anchor="middle" font-weight="bold" fill="#e6e6e6">1 cm</text>
<ellipse cx="355.2" cy="292" rx="18.1" ry="16.6" fill="#07081f" fill-opacity="0.65" stroke="#6c6c50" stroke-width="0.6"/>
<ellipse cx="409" cy="294" rx="16.2" ry="15" fill="#07081f" fill-opacity="0.65" stroke="#7a7a80" stroke-width="0.6"/>
<ellipse cx="463" cy="293.6" rx="18.3" ry="15" fill="#07081f" fill-opacity="0.65" stroke="#7c7838" stroke-width="0.6"/>
<g filter="url(#b2)">
<path d="M340.7,296.7C340.5,294.8 341.9,292.4 343.1,290.8C344.3,289.2 346.5,288.6 347.9,287.2C349.3,285.8 350.0,283.8 351.4,282.5C352.8,281.1 354.4,279.4 356.2,278.9C358.0,278.4 360.5,278.7 362.1,279.5C363.7,280.3 364.8,282.0 365.7,283.6C366.6,285.3 367.5,287.4 367.5,289.6C367.5,291.8 366.4,294.5 365.7,296.7C365.0,298.9 364.7,301.3 363.3,302.6C361.9,304.0 359.5,304.8 357.4,305.0C355.2,305.2 352.4,304.3 350.2,303.8C348.1,303.3 345.9,303.2 344.3,302.0C342.7,300.9 340.9,298.6 340.7,296.7Z" fill="#14207a" opacity="0.55"/>
<path d="M342.3,296.2C342.1,294.5 343.3,292.3 344.4,290.9C345.5,289.5 347.4,289.0 348.6,287.7C349.9,286.5 350.6,284.7 351.8,283.5C353.1,282.3 354.5,280.8 356.1,280.3C357.6,279.9 359.9,280.1 361.4,280.9C362.8,281.6 363.7,283.1 364.5,284.6C365.3,286.1 366.1,287.9 366.1,289.9C366.1,291.8 365.2,294.3 364.5,296.2C363.9,298.2 363.7,300.3 362.4,301.5C361.2,302.8 359.1,303.5 357.1,303.6C355.2,303.8 352.7,303.0 350.8,302.6C348.8,302.1 346.9,302.1 345.5,301.0C344.0,299.9 342.5,297.9 342.3,296.2Z" fill="#2a3cc0"/>
</g>
<g filter="url(#b1)">
<path d="M342.7,296.1C342.5,294.4 343.7,292.3 344.8,290.9C345.8,289.5 347.7,289.0 348.9,287.8C350.1,286.6 350.8,284.9 352.0,283.7C353.2,282.5 354.6,281.0 356.1,280.6C357.6,280.2 359.9,280.4 361.2,281.1C362.6,281.8 363.6,283.3 364.3,284.7C365.1,286.2 365.9,288.0 365.9,289.9C365.9,291.8 364.9,294.2 364.3,296.1C363.7,297.9 363.5,300.0 362.3,301.2C361.1,302.4 359.0,303.1 357.1,303.3C355.2,303.4 352.8,302.7 350.9,302.2C349.1,301.8 347.2,301.7 345.8,300.7C344.4,299.7 342.9,297.7 342.7,296.1Z" fill="#3fa8e6"/>
<path d="M344.0,295.5C343.8,294.0 344.9,292.1 345.9,290.8C346.8,289.6 348.5,289.1 349.6,288.0C350.7,286.9 351.4,285.3 352.5,284.2C353.6,283.1 354.8,281.8 356.2,281.4C357.6,281.0 359.7,281.3 360.9,281.9C362.2,282.5 363.0,283.8 363.7,285.2C364.5,286.5 365.2,288.2 365.2,289.9C365.2,291.6 364.3,293.8 363.7,295.5C363.2,297.3 363.0,299.1 361.9,300.2C360.8,301.3 358.9,302.0 357.2,302.1C355.4,302.3 353.2,301.6 351.5,301.2C349.8,300.8 348.1,300.7 346.8,299.8C345.6,298.8 344.1,297.0 344.0,295.5Z" fill="#5cd8c8"/>
<path d="M346.1,294.7C346.0,293.4 346.9,291.7 347.7,290.7C348.5,289.6 349.9,289.2 350.9,288.3C351.8,287.4 352.3,286.1 353.2,285.1C354.2,284.2 355.2,283.1 356.4,282.8C357.6,282.4 359.3,282.6 360.4,283.2C361.4,283.7 362.2,284.8 362.8,285.9C363.4,287.1 364.0,288.4 364.0,289.9C364.0,291.4 363.2,293.2 362.8,294.7C362.3,296.1 362.1,297.7 361.2,298.6C360.3,299.5 358.7,300.1 357.2,300.2C355.8,300.3 353.9,299.7 352.5,299.4C351.0,299.1 349.5,299.0 348.5,298.2C347.4,297.4 346.2,295.9 346.1,294.7Z" fill="#76e070"/>
<path d="M349.1,293.4C349.0,292.5 349.7,291.3 350.3,290.5C350.9,289.7 351.9,289.4 352.6,288.8C353.3,288.1 353.7,287.1 354.4,286.4C355.0,285.7 355.8,284.9 356.7,284.7C357.6,284.4 358.8,284.6 359.6,285.0C360.4,285.3 360.9,286.2 361.4,287.0C361.8,287.8 362.3,288.9 362.3,289.9C362.3,291.0 361.7,292.4 361.4,293.4C361.0,294.5 360.9,295.7 360.2,296.4C359.5,297.0 358.4,297.4 357.3,297.5C356.2,297.6 354.9,297.2 353.8,296.9C352.7,296.7 351.6,296.7 350.9,296.1C350.1,295.5 349.2,294.4 349.1,293.4Z" fill="#b8ea50"/>
<path d="M352.9,291.9C352.9,291.4 353.3,290.7 353.6,290.3C353.9,289.9 354.5,289.7 354.8,289.3C355.2,289.0 355.4,288.4 355.8,288.1C356.2,287.7 356.6,287.2 357.1,287.1C357.5,287.0 358.2,287.0 358.7,287.3C359.1,287.5 359.4,287.9 359.6,288.4C359.8,288.8 360.1,289.4 360.1,290.0C360.1,290.5 359.8,291.3 359.6,291.9C359.4,292.5 359.3,293.1 359.0,293.5C358.6,293.8 358.0,294.0 357.4,294.1C356.8,294.1 356.1,293.9 355.5,293.8C354.9,293.6 354.3,293.6 353.9,293.3C353.5,293.0 353.0,292.4 352.9,291.9Z" fill="#eef040"/>
</g>
<ellipse cx="346.5" cy="296.5" rx="3.6" ry="4.2" fill="#5a52c6" filter="url(#b1)" transform="rotate(0 346.5 296.5)"/>
<g filter="url(#b2)">
<path d="M398.8,296.1C398.8,294.7 399.1,292.6 400.0,291.3C400.9,290.0 402.5,289.0 404.2,288.3C405.8,287.7 408.1,287.3 410.1,287.3C412.1,287.3 414.4,287.6 416.0,288.3C417.6,289.1 418.8,290.6 419.6,291.9C420.3,293.2 420.7,294.7 420.5,296.1C420.3,297.4 419.4,299.0 418.4,300.2C417.4,301.4 415.8,302.6 414.2,303.2C412.7,303.8 410.7,304.0 408.9,303.9C407.1,303.8 405.0,303.3 403.6,302.6C402.1,301.9 400.8,300.7 400.0,299.6C399.2,298.5 398.8,297.4 398.8,296.1Z" fill="#14207a" opacity="0.55"/>
<path d="M400.0,296.0C400.0,294.8 400.2,292.9 401.0,291.8C401.8,290.6 403.2,289.7 404.7,289.1C406.2,288.5 408.3,288.2 410.0,288.2C411.8,288.2 413.9,288.4 415.3,289.1C416.7,289.8 417.8,291.2 418.5,292.3C419.2,293.5 419.5,294.8 419.4,296.0C419.2,297.3 418.4,298.7 417.4,299.7C416.5,300.8 415.2,301.8 413.7,302.4C412.3,302.9 410.6,303.1 409.0,303.0C407.4,302.9 405.5,302.5 404.2,301.8C402.9,301.2 401.7,300.2 401.0,299.2C400.3,298.2 400.0,297.3 400.0,296.0Z" fill="#2238b8"/>
</g>
<g filter="url(#b1)">
<path d="M400.6,296.0C400.6,294.8 400.9,293.1 401.6,292.0C402.4,291.0 403.7,290.1 405.1,289.6C406.5,289.0 408.3,288.7 410.0,288.7C411.6,288.7 413.6,288.9 414.9,289.6C416.2,290.2 417.3,291.5 417.9,292.5C418.5,293.6 418.8,294.8 418.7,296.0C418.5,297.1 417.8,298.4 416.9,299.4C416.0,300.4 414.8,301.4 413.4,301.9C412.1,302.4 410.5,302.6 409.0,302.5C407.5,302.4 405.8,302.0 404.6,301.4C403.3,300.8 402.3,299.8 401.6,298.9C401.0,298.0 400.6,297.1 400.6,296.0Z" fill="#3f9ee6"/>
<path d="M401.5,295.9C401.5,294.9 401.7,293.3 402.4,292.4C403.0,291.4 404.2,290.7 405.5,290.1C406.8,289.6 408.5,289.3 409.9,289.3C411.4,289.3 413.2,289.6 414.4,290.1C415.6,290.7 416.5,291.9 417.1,292.8C417.6,293.8 417.9,294.9 417.8,295.9C417.6,297.0 417.0,298.2 416.2,299.1C415.4,299.9 414.2,300.8 413.1,301.3C411.9,301.7 410.4,301.9 409.1,301.8C407.7,301.7 406.2,301.4 405.0,300.8C403.9,300.3 403.0,299.4 402.4,298.6C401.8,297.8 401.5,297.0 401.5,295.9Z" fill="#6cd8d0"/>
<path d="M402.8,295.9C402.8,295.0 403.0,293.7 403.6,292.9C404.1,292.1 405.1,291.5 406.2,291.0C407.2,290.6 408.6,290.4 409.9,290.4C411.1,290.4 412.6,290.6 413.6,291.0C414.6,291.5 415.3,292.5 415.8,293.3C416.3,294.1 416.5,295.0 416.4,295.9C416.3,296.7 415.7,297.7 415.1,298.5C414.4,299.2 413.5,299.9 412.5,300.3C411.5,300.7 410.2,300.8 409.1,300.8C408.0,300.7 406.7,300.4 405.8,299.9C404.9,299.5 404.1,298.8 403.6,298.1C403.1,297.4 402.8,296.7 402.8,295.9Z" fill="#f0a088"/>
<path d="M404.5,295.8C404.5,295.1 404.7,294.2 405.1,293.6C405.5,293.0 406.2,292.5 407.0,292.2C407.8,291.9 408.9,291.7 409.8,291.7C410.7,291.7 411.8,291.8 412.5,292.2C413.3,292.5 413.8,293.2 414.2,293.8C414.5,294.4 414.7,295.1 414.6,295.8C414.5,296.4 414.1,297.1 413.6,297.7C413.1,298.2 412.4,298.8 411.7,299.1C411.0,299.4 410.1,299.5 409.2,299.4C408.4,299.4 407.4,299.1 406.7,298.8C406.1,298.5 405.5,297.9 405.1,297.4C404.7,296.9 404.5,296.4 404.5,295.8Z" fill="#f08a78"/>
<path d="M406.8,295.6C406.8,295.3 406.9,294.8 407.1,294.5C407.3,294.1 407.7,293.9 408.2,293.7C408.6,293.5 409.2,293.4 409.6,293.4C410.1,293.4 410.7,293.5 411.1,293.7C411.5,293.9 411.8,294.3 412.0,294.6C412.2,294.9 412.3,295.3 412.3,295.6C412.2,296.0 412.0,296.4 411.7,296.7C411.5,297.0 411.1,297.3 410.7,297.4C410.3,297.6 409.8,297.6 409.4,297.6C408.9,297.6 408.4,297.5 408.0,297.3C407.6,297.1 407.3,296.8 407.1,296.5C406.9,296.3 406.8,296.0 406.8,295.6Z" fill="#f4aca0"/>
</g>
<g filter="url(#b2)">
<path d="M452.8,291.9C452.8,290.3 453.4,288.6 454.2,287.2C455.0,285.8 456.5,284.3 457.7,283.6C459.0,282.9 460.4,282.7 461.9,282.8C463.4,282.9 465.3,283.4 466.7,284.2C468.0,285.0 469.1,286.3 470.2,287.8C471.3,289.3 472.9,291.4 473.2,293.1C473.5,294.8 472.9,296.5 472.0,297.9C471.1,299.2 469.4,300.7 467.8,301.4C466.3,302.1 464.3,302.2 462.5,302.0C460.7,301.8 458.6,301.1 457.2,300.2C455.7,299.3 454.7,298.1 454.0,296.7C453.2,295.3 452.7,293.5 452.8,291.9Z" fill="#14207a" opacity="0.55"/>
<path d="M453.8,292.0C453.8,290.6 454.3,289.0 455.1,287.7C455.8,286.5 457.1,285.2 458.3,284.6C459.4,283.9 460.6,283.7 462.0,283.8C463.3,283.9 465.0,284.3 466.2,285.1C467.4,285.8 468.4,286.9 469.4,288.3C470.4,289.6 471.8,291.5 472.0,293.0C472.3,294.5 471.8,296.0 471.0,297.3C470.2,298.5 468.7,299.8 467.3,300.5C465.9,301.1 464.1,301.2 462.5,301.0C460.9,300.8 459.0,300.2 457.7,299.4C456.5,298.6 455.5,297.5 454.9,296.2C454.2,295.0 453.8,293.4 453.8,292.0Z" fill="#2a44c8"/>
</g>
<g filter="url(#b1)">
<path d="M454.2,292.0C454.2,290.6 454.7,289.1 455.4,287.9C456.1,286.7 457.3,285.5 458.4,284.9C459.5,284.3 460.7,284.1 461.9,284.2C463.2,284.3 464.8,284.7 466.0,285.4C467.2,286.1 468.1,287.2 469.0,288.4C469.9,289.7 471.3,291.5 471.5,293.0C471.8,294.4 471.3,295.8 470.5,297.0C469.8,298.2 468.3,299.4 467.0,300.0C465.7,300.6 464.0,300.7 462.5,300.5C460.9,300.4 459.1,299.8 457.9,299.0C456.7,298.3 455.8,297.2 455.2,296.0C454.6,294.8 454.1,293.3 454.2,292.0Z" fill="#3fa8e6"/>
<path d="M455.2,291.9C455.3,290.7 455.7,289.4 456.3,288.4C456.9,287.4 457.9,286.4 458.9,285.9C459.8,285.3 460.8,285.2 461.9,285.3C463.0,285.3 464.3,285.7 465.3,286.3C466.3,286.9 467.1,287.8 467.9,288.9C468.7,289.9 469.8,291.5 470.1,292.7C470.3,294.0 469.8,295.2 469.2,296.2C468.6,297.2 467.3,298.3 466.2,298.8C465.0,299.3 463.6,299.4 462.3,299.2C461.0,299.1 459.5,298.6 458.4,297.9C457.4,297.3 456.6,296.3 456.1,295.3C455.6,294.3 455.2,293.0 455.2,291.9Z" fill="#5cd8a0"/>
<path d="M457.1,291.8C457.1,291.0 457.4,290.0 457.8,289.3C458.2,288.6 459.0,287.9 459.6,287.5C460.3,287.1 461.0,287.0 461.8,287.1C462.5,287.1 463.5,287.4 464.2,287.8C464.9,288.2 465.5,288.9 466.1,289.6C466.6,290.4 467.4,291.5 467.6,292.4C467.7,293.3 467.4,294.1 467.0,294.8C466.5,295.6 465.7,296.3 464.8,296.7C464.0,297.0 463.0,297.1 462.1,297.0C461.2,296.9 460.1,296.5 459.3,296.1C458.6,295.6 458.0,294.9 457.7,294.2C457.3,293.5 457.0,292.6 457.1,291.8Z" fill="#7ee64a"/>
<path d="M459.6,291.6C459.6,291.3 459.7,290.9 459.9,290.6C460.1,290.2 460.4,289.9 460.7,289.8C461.0,289.6 461.3,289.6 461.6,289.6C461.9,289.6 462.4,289.7 462.7,289.9C463.0,290.1 463.2,290.4 463.5,290.7C463.7,291.0 464.1,291.5 464.1,291.9C464.2,292.3 464.1,292.6 463.9,292.9C463.7,293.3 463.3,293.6 462.9,293.7C462.6,293.9 462.1,293.9 461.7,293.9C461.4,293.8 460.9,293.7 460.6,293.5C460.2,293.3 460.0,293.0 459.8,292.7C459.7,292.4 459.6,292.0 459.6,291.6Z" fill="#b8ec48"/>
</g>
<circle cx="422" cy="284.5" r="0.55" fill="#c0d0ff"/>
<circle cx="426" cy="288.5" r="0.55" fill="#c0d0ff"/>
<circle cx="433" cy="292" r="0.55" fill="#c0d0ff"/>
<circle cx="436.5" cy="297" r="0.55" fill="#c0d0ff"/>
<circle cx="429" cy="303" r="0.55" fill="#c0d0ff"/>
<circle cx="440" cy="287" r="0.55" fill="#c0d0ff"/>
<line x1="362.3" y1="315.6" x2="380.5" y2="315.6" stroke="#e0e0e0" stroke-width="0.8"/>
<text x="371.4" y="314.20000000000005" font-size="5.2" text-anchor="middle" font-weight="bold" fill="#e6e6e6">1 cm</text>
<line x1="415.5" y1="315.6" x2="432.8" y2="315.6" stroke="#e0e0e0" stroke-width="0.8"/>
<text x="424.15" y="314.20000000000005" font-size="5.2" text-anchor="middle" font-weight="bold" fill="#e6e6e6">1 cm</text>
<line x1="469.4" y1="315.6" x2="487" y2="315.6" stroke="#e0e0e0" stroke-width="0.8"/>
<text x="478.2" y="314.20000000000005" font-size="5.2" text-anchor="middle" font-weight="bold" fill="#e6e6e6">1 cm</text>
<ellipse cx="354.4" cy="347.2" rx="23.3" ry="23.3" fill="#07081f" fill-opacity="0.65" stroke="#b8b088" stroke-width="0.6" stroke-dasharray="1.4 1.3"/>
<ellipse cx="410.2" cy="344.6" rx="23.3" ry="20.5" fill="#07081f" fill-opacity="0.65" stroke="#6a5040" stroke-width="0.6"/>
<ellipse cx="463" cy="344.6" rx="21.5" ry="20.5" fill="#07081f" fill-opacity="0.65" stroke="#7c7838" stroke-width="0.6"/>
<g filter="url(#b2)">
<path d="M337.3,342.1C337.3,340.2 338.8,337.6 340.3,336.2C341.8,334.8 343.8,334.3 346.2,333.8C348.6,333.3 351.7,333.1 354.5,333.2C357.3,333.3 360.3,333.5 362.8,334.4C365.4,335.3 368.0,336.7 369.9,338.5C371.9,340.4 373.6,343.3 374.7,345.7C375.8,348.0 376.7,350.4 376.5,352.8C376.3,355.2 374.8,357.9 373.5,359.9C372.2,361.9 370.7,363.8 368.8,364.7C366.8,365.6 363.6,366.0 361.6,365.3C359.7,364.5 358.3,362.0 356.9,359.9C355.5,357.8 354.9,354.5 353.3,352.8C351.7,351.1 349.6,350.7 347.4,349.8C345.2,348.9 341.9,348.7 340.3,347.5C338.6,346.2 337.3,344.0 337.3,342.1Z" fill="#14207a" opacity="0.55"/>
<path d="M339.5,342.7C339.5,341.0 340.8,338.7 342.1,337.4C343.4,336.2 345.3,335.7 347.4,335.3C349.5,334.9 352.4,334.7 354.8,334.8C357.3,334.9 360.0,335.0 362.3,335.8C364.6,336.6 366.9,337.9 368.6,339.5C370.4,341.2 371.9,343.8 372.9,345.9C373.8,348.0 374.6,350.1 374.5,352.3C374.3,354.4 373.0,356.8 371.8,358.6C370.7,360.4 369.3,362.1 367.6,362.9C365.8,363.6 363.0,364.1 361.2,363.4C359.4,362.7 358.2,360.5 357.0,358.6C355.7,356.8 355.2,353.8 353.8,352.3C352.4,350.8 350.4,350.4 348.5,349.6C346.5,348.8 343.6,348.6 342.1,347.5C340.6,346.3 339.5,344.4 339.5,342.7Z" fill="#2a58d0"/>
</g>
<g filter="url(#b1)">
<path d="M340.2,342.9C340.2,341.3 341.5,339.0 342.8,337.8C344.0,336.6 345.8,336.2 347.8,335.8C349.9,335.3 352.6,335.2 355.0,335.3C357.3,335.3 359.9,335.5 362.1,336.3C364.3,337.0 366.5,338.2 368.2,339.8C369.9,341.4 371.3,343.9 372.3,345.9C373.2,348.0 374.0,350.0 373.8,352.0C373.6,354.1 372.4,356.5 371.3,358.1C370.1,359.8 368.9,361.5 367.2,362.2C365.5,363.0 362.8,363.4 361.1,362.7C359.4,362.1 358.2,359.9 357.0,358.1C355.8,356.4 355.3,353.5 354.0,352.0C352.6,350.6 350.7,350.3 348.9,349.5C347.0,348.7 344.2,348.6 342.8,347.5C341.3,346.4 340.2,344.5 340.2,342.9Z" fill="#4cc8e6"/>
<path d="M341.3,343.1C341.3,341.6 342.5,339.5 343.7,338.4C344.9,337.3 346.6,336.9 348.5,336.5C350.4,336.1 352.9,335.9 355.2,336.0C357.4,336.1 359.8,336.2 361.8,336.9C363.9,337.7 366.0,338.8 367.6,340.3C369.2,341.8 370.5,344.1 371.4,346.0C372.3,347.9 373.0,349.8 372.8,351.7C372.6,353.6 371.5,355.9 370.4,357.5C369.4,359.0 368.2,360.6 366.6,361.3C365.0,362.0 362.5,362.4 360.9,361.7C359.3,361.1 358.2,359.1 357.1,357.5C356.0,355.8 355.5,353.1 354.2,351.7C352.9,350.4 351.2,350.1 349.4,349.3C347.7,348.6 345.1,348.5 343.7,347.4C342.4,346.4 341.3,344.7 341.3,343.1Z" fill="#66dca0"/>
<path d="M343.2,343.6C343.2,342.2 344.2,340.3 345.3,339.3C346.4,338.3 347.8,338.0 349.5,337.6C351.2,337.3 353.5,337.1 355.5,337.2C357.5,337.3 359.6,337.4 361.4,338.1C363.2,338.7 365.1,339.7 366.5,341.0C367.9,342.4 369.1,344.4 369.9,346.1C370.7,347.8 371.3,349.5 371.2,351.2C371.0,352.9 370.0,354.9 369.0,356.3C368.1,357.7 367.1,359.0 365.7,359.7C364.2,360.3 362.0,360.7 360.6,360.1C359.1,359.5 358.2,357.8 357.2,356.3C356.2,354.8 355.8,352.4 354.6,351.2C353.5,350.0 351.9,349.7 350.4,349.1C348.8,348.4 346.5,348.3 345.3,347.4C344.1,346.5 343.2,344.9 343.2,343.6Z" fill="#7ee068"/>
<path d="M348.7,344.9C348.7,344.0 349.4,342.8 350.1,342.2C350.7,341.6 351.7,341.4 352.7,341.1C353.8,340.9 355.2,340.8 356.4,340.9C357.7,340.9 359.0,341.0 360.1,341.4C361.3,341.8 362.4,342.4 363.3,343.3C364.2,344.1 364.9,345.4 365.4,346.4C365.9,347.5 366.3,348.6 366.2,349.6C366.1,350.7 365.5,351.9 364.9,352.8C364.3,353.7 363.7,354.5 362.8,354.9C361.9,355.3 360.5,355.5 359.6,355.2C358.7,354.8 358.1,353.7 357.5,352.8C356.9,351.9 356.6,350.4 355.9,349.6C355.2,348.9 354.2,348.7 353.2,348.3C352.3,347.9 350.8,347.8 350.1,347.2C349.3,346.7 348.7,345.7 348.7,344.9Z" fill="#98e45c"/>
</g>
<ellipse cx="352.5" cy="343" rx="4.2" ry="3.4" fill="#eeea48" filter="url(#b1)" transform="rotate(0 352.5 343)"/>
<ellipse cx="363" cy="353" rx="3.8" ry="4.2" fill="#eeea48" filter="url(#b1)" transform="rotate(0 363 353)"/>
<ellipse cx="355.5" cy="344" rx="2.1" ry="2.6" fill="#f07a38" filter="url(#b2)" transform="rotate(0 355.5 344)"/>
<ellipse cx="363.2" cy="353.5" rx="1.7" ry="2.2" fill="#f08a38" filter="url(#b2)" transform="rotate(0 363.2 353.5)"/>
<ellipse cx="346.5" cy="342" rx="2" ry="2" fill="#d8e850" filter="url(#b1)" transform="rotate(0 346.5 342)"/>
<g filter="url(#b2)">
<path d="M386.5,346.1C386.4,343.9 386.5,341.0 387.7,339.0C388.9,337.0 391.3,335.4 393.7,334.2C396.0,333.1 399.2,332.7 402.0,331.9C404.7,331.1 407.5,329.9 410.3,329.5C413.1,329.1 416.0,328.9 418.6,329.5C421.2,330.1 423.7,331.3 425.7,333.1C427.7,334.8 429.7,337.8 430.5,340.2C431.3,342.5 431.1,344.9 430.5,347.3C429.9,349.7 428.5,352.4 426.9,354.4C425.3,356.4 423.3,358.3 421.0,359.2C418.6,360.1 415.0,360.4 412.7,359.8C410.3,359.2 408.7,355.9 406.7,355.6C404.7,355.3 403.0,357.8 400.8,358.0C398.6,358.2 395.7,357.8 393.7,356.8C391.6,355.8 389.5,353.8 388.3,352.0C387.1,350.3 386.6,348.3 386.5,346.1Z" fill="#14207a" opacity="0.55"/>
<path d="M388.9,346.0C388.8,344.1 388.9,341.4 390.0,339.7C391.0,337.9 393.1,336.5 395.3,335.4C397.4,334.4 400.2,334.0 402.7,333.3C405.1,332.6 407.6,331.5 410.1,331.2C412.6,330.8 415.2,330.7 417.5,331.2C419.8,331.7 422.1,332.8 423.9,334.4C425.6,336.0 427.4,338.6 428.1,340.7C428.8,342.9 428.6,345.0 428.1,347.1C427.6,349.2 426.3,351.7 424.9,353.5C423.5,355.2 421.8,356.9 419.6,357.7C417.5,358.5 414.3,358.8 412.2,358.2C410.1,357.7 408.7,354.8 406.9,354.5C405.1,354.3 403.6,356.5 401.6,356.6C399.7,356.8 397.1,356.5 395.3,355.6C393.4,354.7 391.5,352.9 390.5,351.3C389.4,349.7 389.0,348.0 388.9,346.0Z" fill="#2a58d0"/>
</g>
<g filter="url(#b1)">
<path d="M389.7,346.0C389.6,344.1 389.7,341.6 390.7,339.9C391.7,338.2 393.8,336.8 395.8,335.8C397.8,334.8 400.6,334.5 402.9,333.8C405.3,333.1 407.7,332.1 410.0,331.7C412.4,331.4 415.0,331.2 417.2,331.7C419.4,332.3 421.6,333.3 423.3,334.8C425.0,336.3 426.7,338.9 427.3,340.9C428.0,342.9 427.9,345.0 427.3,347.0C426.8,349.0 425.7,351.4 424.3,353.1C422.9,354.8 421.2,356.4 419.2,357.2C417.2,358.0 414.1,358.2 412.1,357.7C410.0,357.2 408.7,354.4 407.0,354.1C405.3,353.9 403.8,356.0 401.9,356.2C400.0,356.3 397.6,356.0 395.8,355.2C394.0,354.3 392.2,352.6 391.2,351.1C390.2,349.6 389.8,347.9 389.7,346.0Z" fill="#4cc8e6"/>
<path d="M390.9,345.9C390.8,344.2 390.9,341.8 391.9,340.2C392.8,338.6 394.7,337.3 396.6,336.4C398.5,335.4 401.1,335.1 403.3,334.5C405.5,333.8 407.8,332.9 410.0,332.6C412.2,332.3 414.6,332.1 416.7,332.6C418.7,333.1 420.8,334.0 422.4,335.4C424.0,336.9 425.6,339.3 426.2,341.2C426.8,343.1 426.7,345.0 426.2,346.9C425.7,348.8 424.6,351.0 423.3,352.6C422.1,354.2 420.5,355.7 418.6,356.4C416.7,357.1 413.8,357.4 411.9,356.9C410.0,356.4 408.7,353.8 407.1,353.6C405.5,353.3 404.1,355.3 402.4,355.5C400.6,355.6 398.3,355.3 396.6,354.5C395.0,353.7 393.3,352.1 392.3,350.7C391.4,349.3 391.0,347.7 390.9,345.9Z" fill="#6cdcc0"/>
<path d="M392.9,345.8C392.8,344.3 392.9,342.2 393.8,340.7C394.6,339.3 396.3,338.2 398.0,337.3C399.7,336.5 402.0,336.2 403.9,335.7C405.9,335.1 407.9,334.2 409.9,334.0C411.9,333.7 414.0,333.5 415.8,334.0C417.6,334.4 419.5,335.2 420.9,336.5C422.3,337.8 423.7,339.9 424.3,341.6C424.9,343.3 424.7,345.0 424.3,346.7C423.9,348.4 422.9,350.4 421.7,351.8C420.6,353.2 419.2,354.5 417.5,355.2C415.8,355.8 413.3,356.0 411.6,355.6C409.9,355.2 408.7,352.8 407.3,352.6C405.9,352.4 404.6,354.2 403.1,354.3C401.5,354.4 399.5,354.2 398.0,353.5C396.5,352.8 395.0,351.3 394.2,350.1C393.3,348.8 393.0,347.4 392.9,345.8Z" fill="#80e098"/>
<path d="M400.0,345.5C399.9,344.6 400.0,343.4 400.4,342.6C400.9,341.8 401.9,341.2 402.8,340.7C403.8,340.2 405.0,340.1 406.2,339.7C407.3,339.4 408.4,338.9 409.5,338.8C410.6,338.6 411.8,338.5 412.8,338.8C413.9,339.0 414.9,339.5 415.7,340.2C416.5,340.9 417.3,342.1 417.6,343.1C417.9,344.0 417.8,345.0 417.6,345.9C417.4,346.9 416.8,348.0 416.2,348.8C415.5,349.6 414.7,350.4 413.8,350.7C412.8,351.1 411.4,351.2 410.4,351.0C409.5,350.7 408.9,349.4 408.1,349.3C407.3,349.2 406.5,350.2 405.7,350.2C404.8,350.3 403.6,350.2 402.8,349.8C402.0,349.4 401.1,348.6 400.7,347.9C400.2,347.1 400.0,346.3 400.0,345.5Z" fill="#8ee488"/>
</g>
<ellipse cx="399" cy="346" rx="6.2" ry="7" fill="#eeea48" filter="url(#b1)" transform="rotate(0 399 346)"/>
<ellipse cx="399.5" cy="345" rx="3.2" ry="3.6" fill="#ee4a3a" filter="url(#b1)" transform="rotate(0 399.5 345)"/>
<ellipse cx="396.5" cy="351.5" rx="2.5" ry="2.5" fill="#f0c840" filter="url(#b1)" transform="rotate(0 396.5 351.5)"/>
<ellipse cx="418" cy="338" rx="2.6" ry="2.6" fill="#dcec58" filter="url(#b1)" transform="rotate(0 418 338)"/>
<ellipse cx="420.5" cy="351" rx="2.2" ry="2.2" fill="#d4ea58" filter="url(#b1)" transform="rotate(0 420.5 351)"/>
<ellipse cx="404" cy="339" rx="2.5" ry="2.5" fill="#a8e860" filter="url(#b1)" transform="rotate(0 404 339)"/>
<g filter="url(#b2)">
<path d="M446.2,344.8C446.4,342.3 447.4,338.9 448.6,336.5C449.8,334.1 451.5,332.2 453.3,330.6C455.1,329.0 457.5,327.4 459.3,327.0C461.0,326.6 462.8,327.0 464.0,328.2C465.2,329.4 465.8,332.0 466.4,334.1C467.0,336.3 466.6,339.3 467.6,341.3C468.6,343.2 470.5,345.4 472.3,346.0C474.1,346.6 476.5,344.4 478.3,344.8C480.0,345.2 482.4,346.6 483.0,348.4C483.6,350.2 483.0,353.3 481.8,355.5C480.6,357.7 478.3,360.1 475.9,361.4C473.5,362.8 470.3,363.6 467.6,363.8C464.8,364.0 461.8,363.6 459.3,362.6C456.7,361.6 454.1,359.7 452.1,357.9C450.2,356.1 448.4,354.1 447.4,351.9C446.4,349.8 446.0,347.4 446.2,344.8Z" fill="#14207a" opacity="0.55"/>
<path d="M448.1,344.9C448.3,342.6 449.2,339.6 450.2,337.5C451.3,335.4 452.9,333.6 454.5,332.2C456.1,330.8 458.2,329.4 459.8,329.0C461.4,328.7 462.9,329.0 464.0,330.1C465.1,331.2 465.6,333.5 466.1,335.4C466.7,337.3 466.3,340.0 467.2,341.8C468.1,343.5 469.8,345.5 471.4,346.0C473.0,346.5 475.1,344.6 476.7,344.9C478.3,345.3 480.4,346.5 481.0,348.1C481.5,349.7 481.0,352.5 479.9,354.5C478.8,356.4 476.7,358.5 474.6,359.8C472.5,361.0 469.7,361.7 467.2,361.9C464.7,362.1 462.1,361.7 459.8,360.8C457.5,360.0 455.2,358.2 453.4,356.6C451.6,355.0 450.0,353.2 449.2,351.3C448.3,349.4 447.9,347.2 448.1,344.9Z" fill="#2a58d0"/>
</g>
<g filter="url(#b1)">
<path d="M448.6,345.1C448.8,342.9 449.6,340.0 450.7,338.0C451.7,335.9 453.2,334.3 454.7,332.9C456.3,331.5 458.3,330.2 459.8,329.8C461.3,329.5 462.9,329.8 463.9,330.9C464.9,331.9 465.4,334.1 465.9,335.9C466.4,337.8 466.1,340.4 466.9,342.1C467.8,343.7 469.5,345.6 471.0,346.1C472.5,346.6 474.6,344.8 476.1,345.1C477.6,345.4 479.7,346.6 480.2,348.2C480.7,349.7 480.2,352.4 479.1,354.3C478.1,356.1 476.1,358.2 474.1,359.4C472.0,360.5 469.3,361.2 466.9,361.4C464.6,361.6 462.0,361.2 459.8,360.4C457.6,359.5 455.4,357.8 453.7,356.3C452.0,354.8 450.5,353.1 449.6,351.2C448.8,349.3 448.4,347.3 448.6,345.1Z" fill="#4cc8e6"/>
<path d="M449.4,345.3C449.6,343.3 450.3,340.6 451.3,338.7C452.3,336.8 453.7,335.2 455.1,333.9C456.5,332.6 458.5,331.4 459.9,331.0C461.3,330.7 462.7,331.0 463.7,332.0C464.7,332.9 465.1,335.0 465.6,336.8C466.1,338.5 465.8,340.9 466.6,342.5C467.4,344.1 469.0,345.8 470.4,346.3C471.8,346.8 473.7,345.0 475.2,345.3C476.6,345.7 478.5,346.8 479.0,348.2C479.4,349.6 479.0,352.2 478.0,353.9C477.1,355.7 475.2,357.6 473.2,358.7C471.3,359.8 468.8,360.5 466.6,360.6C464.3,360.8 462.0,360.5 459.9,359.7C457.8,358.9 455.8,357.3 454.2,355.8C452.6,354.4 451.1,352.8 450.3,351.1C449.6,349.3 449.2,347.4 449.4,345.3Z" fill="#66dca0"/>
<path d="M450.7,345.8C450.8,343.9 451.5,341.5 452.4,339.8C453.2,338.1 454.5,336.7 455.8,335.6C457.0,334.4 458.7,333.3 460.0,333.0C461.3,332.8 462.6,333.0 463.4,333.9C464.3,334.7 464.7,336.6 465.1,338.1C465.5,339.7 465.2,341.8 465.9,343.2C466.7,344.6 468.1,346.2 469.3,346.6C470.6,347.0 472.3,345.5 473.6,345.8C474.9,346.0 476.5,347.0 477.0,348.3C477.4,349.6 477.0,351.8 476.1,353.4C475.3,354.9 473.6,356.6 471.9,357.6C470.2,358.6 467.9,359.2 465.9,359.3C464.0,359.5 461.8,359.2 460.0,358.5C458.2,357.8 456.3,356.4 454.9,355.1C453.5,353.8 452.2,352.4 451.5,350.8C450.8,349.3 450.5,347.6 450.7,345.8Z" fill="#7ee068"/>
<path d="M454.6,347.0C454.6,345.8 455.1,344.3 455.6,343.3C456.1,342.2 456.9,341.3 457.7,340.6C458.5,339.9 459.6,339.2 460.4,339.0C461.2,338.8 462.0,339.0 462.5,339.6C463.0,340.1 463.3,341.2 463.6,342.2C463.8,343.2 463.7,344.5 464.1,345.4C464.5,346.3 465.4,347.2 466.2,347.5C467.0,347.8 468.1,346.8 468.9,347.0C469.7,347.1 470.7,347.8 471.0,348.6C471.2,349.4 471.0,350.8 470.5,351.7C469.9,352.7 468.9,353.8 467.8,354.4C466.7,355.0 465.3,355.4 464.1,355.5C462.9,355.5 461.5,355.4 460.4,354.9C459.2,354.5 458.1,353.6 457.2,352.8C456.3,352.0 455.5,351.1 455.1,350.2C454.6,349.2 454.5,348.1 454.6,347.0Z" fill="#98e45c"/>
</g>
<ellipse cx="464.5" cy="332.5" rx="2.8" ry="3.5" fill="#3a58d8" filter="url(#b1)" transform="rotate(0 464.5 332.5)"/>
<ellipse cx="457.5" cy="344" rx="3.6" ry="5.5" fill="#eeea48" filter="url(#b1)" transform="rotate(-20 457.5 344)"/>
<ellipse cx="465" cy="353" rx="6.5" ry="3.3" fill="#eeea48" filter="url(#b1)" transform="rotate(12 465 353)"/>
<ellipse cx="457" cy="344.5" rx="1.8" ry="2.4" fill="#f07a60" filter="url(#b2)" transform="rotate(0 457 344.5)"/>
<ellipse cx="463" cy="352" rx="1.9" ry="1.9" fill="#f06a58" filter="url(#b2)" transform="rotate(0 463 352)"/>
<ellipse cx="470" cy="351.5" rx="1.7" ry="1.7" fill="#f08a58" filter="url(#b2)" transform="rotate(0 470 351.5)"/>
<ellipse cx="460" cy="356" rx="1.4" ry="1.4" fill="#f09a58" filter="url(#b2)" transform="rotate(0 460 356)"/>
<line x1="362.3" y1="374.6" x2="380.5" y2="374.6" stroke="#e0e0e0" stroke-width="0.8"/>
<text x="371.4" y="373.20000000000005" font-size="5.2" text-anchor="middle" font-weight="bold" fill="#e6e6e6">1 cm</text>
<line x1="415.5" y1="374.6" x2="432.8" y2="374.6" stroke="#e0e0e0" stroke-width="0.8"/>
<text x="424.15" y="373.20000000000005" font-size="5.2" text-anchor="middle" font-weight="bold" fill="#e6e6e6">1 cm</text>
<line x1="469" y1="374.6" x2="486.5" y2="374.6" stroke="#e0e0e0" stroke-width="0.8"/>
<text x="477.75" y="373.20000000000005" font-size="5.2" text-anchor="middle" font-weight="bold" fill="#e6e6e6">1 cm</text>
<ellipse cx="356.5" cy="401.4" rx="19.3" ry="19.3" fill="#07081f" fill-opacity="0.65" stroke="#a0a848" stroke-width="0.6" stroke-dasharray="1.4 1.3"/>
<ellipse cx="411.6" cy="399.2" rx="18.7" ry="17.5" fill="#07081f" fill-opacity="0.65" stroke="#a0a848" stroke-width="0.6" stroke-dasharray="1.4 1.3"/>
<ellipse cx="464" cy="401.4" rx="15.5" ry="15" fill="#07081f" fill-opacity="0.65" stroke="#7c7838" stroke-width="0.6"/>
<g filter="url(#b2)">
<path d="M345.0,401.0C344.9,399.0 345.3,396.7 346.2,395.1C347.1,393.4 348.8,391.9 350.3,390.9C351.9,389.9 353.8,389.3 355.7,389.1C357.6,388.9 359.8,389.1 361.6,389.7C363.4,390.3 365.1,391.4 366.4,392.7C367.7,394.0 368.7,395.7 369.3,397.4C369.9,399.2 370.2,401.5 369.9,403.4C369.6,405.3 368.7,407.1 367.6,408.7C366.4,410.3 364.6,412.1 362.8,412.9C361.0,413.7 358.9,413.8 356.9,413.6C354.9,413.4 352.6,412.8 350.9,411.7C349.3,410.6 347.8,408.7 346.8,406.9C345.8,405.2 345.1,403.0 345.0,401.0Z" fill="#14207a" opacity="0.55"/>
<path d="M346.4,401.0C346.3,399.2 346.6,397.2 347.4,395.7C348.2,394.2 349.7,392.9 351.1,392.0C352.5,391.1 354.2,390.6 355.9,390.4C357.6,390.2 359.6,390.4 361.2,390.9C362.8,391.5 364.3,392.4 365.4,393.6C366.6,394.7 367.6,396.2 368.1,397.8C368.6,399.4 368.9,401.4 368.6,403.1C368.4,404.8 367.6,406.5 366.5,407.9C365.4,409.3 363.9,410.9 362.3,411.6C360.7,412.3 358.7,412.4 357.0,412.2C355.2,412.1 353.2,411.5 351.7,410.5C350.2,409.6 348.8,407.9 348.0,406.3C347.1,404.7 346.4,402.8 346.4,401.0Z" fill="#2238c0"/>
</g>
<g filter="url(#b1)">
<path d="M346.8,400.9C346.8,399.3 347.1,397.3 347.8,395.9C348.6,394.5 350.0,393.2 351.4,392.4C352.7,391.6 354.3,391.0 355.9,390.9C357.5,390.7 359.4,390.9 360.9,391.4C362.5,391.9 363.9,392.8 365.0,393.9C366.1,395.0 367.0,396.4 367.5,397.9C368.0,399.4 368.2,401.4 368.0,403.0C367.7,404.6 367.0,406.2 366.0,407.5C365.0,408.8 363.5,410.3 361.9,411.0C360.4,411.7 358.6,411.8 356.9,411.6C355.2,411.5 353.3,411.0 351.9,410.0C350.5,409.1 349.2,407.5 348.4,406.0C347.5,404.5 346.9,402.6 346.8,400.9Z" fill="#4a8eea"/>
<path d="M347.5,400.9C347.4,399.3 347.8,397.5 348.5,396.2C349.1,394.9 350.5,393.7 351.7,393.0C353.0,392.2 354.4,391.7 355.9,391.6C357.4,391.4 359.2,391.6 360.6,392.0C362.0,392.5 363.3,393.3 364.3,394.3C365.3,395.4 366.2,396.7 366.6,398.1C367.1,399.5 367.3,401.3 367.1,402.7C366.9,404.2 366.2,405.7 365.2,406.9C364.3,408.2 362.9,409.6 361.5,410.2C360.1,410.8 358.4,410.9 356.8,410.8C355.3,410.6 353.5,410.1 352.2,409.3C350.9,408.4 349.7,406.9 348.9,405.5C348.1,404.1 347.6,402.4 347.5,400.9Z" fill="#6cd4e8"/>
<path d="M348.7,400.8C348.6,399.4 348.9,397.9 349.5,396.7C350.1,395.6 351.2,394.6 352.3,393.9C353.4,393.2 354.6,392.8 355.9,392.7C357.2,392.6 358.7,392.7 360.0,393.1C361.2,393.5 362.3,394.2 363.2,395.1C364.0,396.0 364.8,397.1 365.2,398.3C365.6,399.6 365.8,401.1 365.6,402.4C365.4,403.6 364.8,404.9 364.0,406.0C363.2,407.1 362.0,408.3 360.8,408.8C359.5,409.4 358.1,409.4 356.7,409.3C355.4,409.2 353.8,408.8 352.7,408.0C351.6,407.3 350.6,406.0 349.9,404.8C349.2,403.6 348.7,402.1 348.7,400.8Z" fill="#86e4b8"/>
<path d="M350.7,400.5C350.6,399.6 350.8,398.5 351.3,397.6C351.7,396.8 352.5,396.1 353.3,395.6C354.1,395.1 355.0,394.8 355.9,394.7C356.9,394.6 358.0,394.7 358.9,395.0C359.7,395.3 360.6,395.8 361.2,396.5C361.8,397.1 362.4,397.9 362.6,398.8C362.9,399.7 363.1,400.8 362.9,401.7C362.8,402.6 362.4,403.6 361.8,404.3C361.2,405.1 360.3,406.0 359.4,406.4C358.6,406.8 357.5,406.8 356.5,406.7C355.6,406.6 354.4,406.3 353.6,405.8C352.8,405.3 352.1,404.3 351.6,403.5C351.1,402.6 350.7,401.5 350.7,400.5Z" fill="#a0ea98"/>
<path d="M353.6,400.2C353.6,399.8 353.7,399.3 353.9,398.9C354.1,398.5 354.4,398.2 354.8,398.0C355.1,397.8 355.6,397.6 356.0,397.6C356.4,397.6 356.9,397.6 357.3,397.7C357.7,397.9 358.1,398.1 358.4,398.4C358.6,398.7 358.9,399.1 359.0,399.5C359.2,399.9 359.2,400.4 359.2,400.8C359.1,401.2 358.9,401.6 358.6,402.0C358.4,402.3 358.0,402.7 357.6,402.9C357.2,403.1 356.7,403.1 356.2,403.1C355.8,403.0 355.3,402.9 354.9,402.6C354.5,402.4 354.2,402.0 354.0,401.6C353.8,401.2 353.6,400.7 353.6,400.2Z" fill="#c8f098"/>
</g>
<ellipse cx="353" cy="398" rx="2" ry="2" fill="#e4f0a0" filter="url(#b1)" transform="rotate(0 353 398)"/>
<ellipse cx="359" cy="403.5" rx="1.8" ry="1.8" fill="#e0f0a0" filter="url(#b1)" transform="rotate(0 359 403.5)"/>
<ellipse cx="364.5" cy="407" rx="3" ry="3" fill="#6a78e0" filter="url(#b1)" transform="rotate(0 364.5 407)"/>
<g filter="url(#b2)">
<path d="M396.2,400.0C396.1,398.5 396.5,396.7 397.4,395.3C398.3,393.9 399.9,392.5 401.5,391.7C403.2,390.9 405.3,390.7 407.5,390.5C409.7,390.4 412.3,390.5 414.6,390.9C416.9,391.3 419.4,391.9 421.1,392.9C422.9,394.0 424.5,395.6 425.3,397.1C426.1,398.6 426.3,400.3 425.9,401.8C425.5,403.3 424.4,404.8 422.9,406.0C421.4,407.1 419.2,408.2 417.0,408.7C414.8,409.2 412.2,409.2 409.9,409.1C407.5,408.9 404.7,408.5 402.7,407.8C400.8,407.1 399.1,406.1 398.0,404.8C396.9,403.5 396.3,401.6 396.2,400.0Z" fill="#14207a" opacity="0.55"/>
<path d="M397.8,400.0C397.7,398.6 398.0,397.0 398.8,395.8C399.6,394.5 401.0,393.3 402.5,392.6C404.0,391.9 405.9,391.7 407.8,391.5C409.8,391.4 412.2,391.5 414.2,391.9C416.2,392.2 418.4,392.7 420.0,393.7C421.6,394.6 423.0,396.0 423.7,397.4C424.4,398.7 424.6,400.3 424.3,401.6C423.9,402.9 422.9,404.3 421.6,405.3C420.3,406.3 418.3,407.3 416.3,407.8C414.4,408.2 412.1,408.2 410.0,408.1C407.8,407.9 405.4,407.5 403.6,406.9C401.8,406.3 400.3,405.4 399.4,404.3C398.4,403.1 397.9,401.4 397.8,400.0Z" fill="#2238c0"/>
</g>
<g filter="url(#b1)">
<path d="M398.3,400.0C398.2,398.6 398.6,397.1 399.3,396.0C400.1,394.8 401.4,393.6 402.9,392.9C404.3,392.3 406.0,392.1 407.9,391.9C409.7,391.8 412.0,391.9 413.9,392.2C415.9,392.6 418.0,393.1 419.5,393.9C421.0,394.8 422.3,396.2 423.0,397.5C423.7,398.7 423.8,400.2 423.5,401.5C423.2,402.8 422.2,404.1 421.0,405.0C419.7,406.0 417.8,406.9 415.9,407.3C414.1,407.8 411.9,407.8 409.9,407.6C407.9,407.5 405.5,407.1 403.9,406.5C402.2,405.9 400.8,405.1 399.8,404.0C398.9,402.9 398.4,401.3 398.3,400.0Z" fill="#4a8eea"/>
<path d="M399.1,400.0C399.0,398.7 399.3,397.3 400.0,396.2C400.7,395.1 402.0,394.0 403.3,393.4C404.6,392.8 406.3,392.6 408.0,392.5C409.7,392.4 411.8,392.5 413.6,392.8C415.4,393.1 417.3,393.5 418.7,394.4C420.1,395.2 421.3,396.5 422.0,397.6C422.6,398.8 422.7,400.2 422.4,401.4C422.1,402.5 421.3,403.7 420.1,404.6C418.9,405.5 417.1,406.4 415.4,406.8C413.7,407.2 411.7,407.2 409.8,407.0C408.0,406.9 405.8,406.6 404.2,406.0C402.7,405.5 401.4,404.7 400.5,403.7C399.7,402.7 399.2,401.2 399.1,400.0Z" fill="#6cd4e8"/>
<path d="M400.5,399.9C400.4,398.8 400.7,397.6 401.3,396.7C401.9,395.7 402.9,394.8 404.1,394.3C405.2,393.7 406.6,393.5 408.1,393.4C409.6,393.4 411.4,393.4 412.9,393.7C414.5,394.0 416.2,394.4 417.4,395.1C418.6,395.8 419.7,396.9 420.2,397.9C420.7,398.9 420.9,400.1 420.6,401.1C420.3,402.1 419.6,403.1 418.6,403.9C417.6,404.7 416.0,405.4 414.6,405.8C413.1,406.1 411.3,406.1 409.7,406.0C408.1,405.9 406.2,405.6 404.9,405.1C403.5,404.6 402.4,404.0 401.7,403.1C400.9,402.2 400.5,401.0 400.5,399.9Z" fill="#86e4b8"/>
<path d="M402.8,399.8C402.8,399.0 403.0,398.1 403.4,397.5C403.8,396.8 404.6,396.1 405.4,395.7C406.3,395.3 407.3,395.2 408.4,395.1C409.4,395.1 410.7,395.1 411.9,395.3C413.0,395.5 414.2,395.8 415.1,396.3C415.9,396.8 416.7,397.6 417.1,398.3C417.5,399.1 417.6,399.9 417.4,400.7C417.2,401.4 416.7,402.1 415.9,402.7C415.2,403.3 414.1,403.8 413.0,404.0C412.0,404.3 410.7,404.3 409.5,404.2C408.4,404.1 407.0,403.9 406.0,403.6C405.1,403.2 404.2,402.7 403.7,402.1C403.2,401.5 402.9,400.6 402.8,399.8Z" fill="#a0ea98"/>
<path d="M406.2,399.6C406.2,399.3 406.3,398.9 406.5,398.6C406.7,398.3 407.0,398.0 407.4,397.8C407.8,397.6 408.2,397.5 408.7,397.5C409.2,397.5 409.8,397.5 410.3,397.6C410.8,397.7 411.4,397.8 411.8,398.0C412.2,398.3 412.5,398.6 412.7,399.0C412.9,399.3 412.9,399.7 412.8,400.0C412.7,400.4 412.5,400.7 412.2,401.0C411.8,401.2 411.3,401.4 410.8,401.6C410.3,401.7 409.8,401.7 409.2,401.6C408.7,401.6 408.1,401.5 407.6,401.4C407.2,401.2 406.8,401.0 406.6,400.7C406.3,400.4 406.2,400.0 406.2,399.6Z" fill="#c8f098"/>
</g>
<ellipse cx="406" cy="398.5" rx="2.2" ry="1.5" fill="#e4f0a0" filter="url(#b1)" transform="rotate(0 406 398.5)"/>
<ellipse cx="414" cy="401" rx="2.2" ry="1.5" fill="#d8f0a0" filter="url(#b1)" transform="rotate(0 414 401)"/>
<g filter="url(#b2)">
<path d="M452.9,401.0C452.9,399.4 453.2,397.5 454.0,396.2C454.8,394.9 456.1,393.7 457.6,393.0C459.0,392.3 461.0,392.1 462.9,392.2C464.8,392.2 467.2,392.5 468.8,393.2C470.5,394.0 471.9,395.4 473.0,396.8C474.0,398.2 475.0,400.0 475.1,401.5C475.2,403.1 474.5,405.0 473.6,406.3C472.6,407.6 471.1,408.9 469.4,409.6C467.7,410.3 465.5,410.5 463.5,410.5C461.5,410.4 459.1,409.8 457.6,409.0C456.0,408.2 454.8,407.0 454.0,405.7C453.2,404.4 452.9,402.5 452.9,401.0Z" fill="#14207a" opacity="0.55"/>
<path d="M454.1,401.0C454.1,399.6 454.3,397.9 455.0,396.7C455.7,395.6 456.9,394.5 458.2,393.9C459.5,393.3 461.3,393.1 463.0,393.1C464.6,393.2 466.8,393.4 468.3,394.1C469.8,394.8 471.0,396.0 472.0,397.3C472.9,398.5 473.8,400.1 473.9,401.5C474.0,402.9 473.4,404.6 472.5,405.8C471.7,407.0 470.3,408.1 468.8,408.7C467.3,409.3 465.3,409.6 463.5,409.5C461.7,409.4 459.6,408.9 458.2,408.2C456.8,407.5 455.7,406.4 455.0,405.2C454.3,404.0 454.1,402.4 454.1,401.0Z" fill="#2238c0"/>
</g>
<g filter="url(#b1)">
<path d="M454.6,401.0C454.6,399.7 454.8,398.1 455.5,397.0C456.1,395.9 457.2,394.9 458.5,394.3C459.7,393.7 461.4,393.6 463.0,393.6C464.5,393.6 466.5,393.9 468.0,394.5C469.4,395.2 470.6,396.3 471.4,397.5C472.3,398.7 473.1,400.2 473.2,401.5C473.3,402.8 472.7,404.3 471.9,405.5C471.1,406.6 469.9,407.7 468.5,408.3C467.0,408.8 465.1,409.0 463.5,409.0C461.8,408.9 459.8,408.4 458.5,407.8C457.2,407.1 456.1,406.1 455.5,405.0C454.8,403.8 454.6,402.3 454.6,401.0Z" fill="#4a8eea"/>
<path d="M455.3,401.0C455.3,399.8 455.5,398.4 456.1,397.3C456.7,396.3 457.7,395.4 458.9,394.9C460.0,394.4 461.5,394.2 463.0,394.2C464.4,394.3 466.2,394.5 467.5,395.1C468.8,395.7 469.9,396.7 470.7,397.8C471.5,398.9 472.3,400.2 472.4,401.4C472.4,402.7 471.9,404.1 471.2,405.1C470.4,406.1 469.3,407.1 468.0,407.6C466.7,408.2 464.9,408.4 463.4,408.3C461.9,408.2 460.1,407.8 458.9,407.2C457.7,406.6 456.7,405.7 456.1,404.6C455.5,403.6 455.3,402.2 455.3,401.0Z" fill="#6cd0f0"/>
<path d="M456.6,401.0C456.6,400.0 456.8,398.8 457.3,397.9C457.7,397.1 458.6,396.3 459.5,395.9C460.5,395.4 461.8,395.3 463.0,395.3C464.2,395.4 465.7,395.5 466.8,396.0C467.9,396.5 468.8,397.4 469.5,398.3C470.1,399.2 470.8,400.4 470.8,401.4C470.9,402.4 470.5,403.6 469.8,404.4C469.2,405.3 468.3,406.1 467.2,406.6C466.1,407.0 464.6,407.2 463.4,407.1C462.1,407.0 460.6,406.7 459.5,406.2C458.5,405.7 457.7,404.9 457.3,404.0C456.8,403.2 456.6,402.0 456.6,401.0Z" fill="#8ce0f0"/>
<path d="M458.5,401.0C458.5,400.3 458.7,399.5 459.0,398.9C459.4,398.3 459.9,397.7 460.6,397.4C461.3,397.1 462.1,397.1 463.0,397.1C463.8,397.1 464.9,397.2 465.6,397.5C466.4,397.9 467.0,398.5 467.5,399.1C468.0,399.8 468.4,400.6 468.4,401.3C468.5,402.0 468.2,402.8 467.8,403.4C467.3,404.0 466.6,404.6 465.9,404.9C465.1,405.2 464.1,405.3 463.2,405.2C462.4,405.2 461.3,404.9 460.6,404.6C459.9,404.2 459.4,403.7 459.0,403.1C458.7,402.5 458.5,401.7 458.5,401.0Z" fill="#a8ead8"/>
<path d="M461.0,401.0C461.0,400.7 461.1,400.3 461.2,400.1C461.4,399.8 461.7,399.6 461.9,399.4C462.2,399.3 462.6,399.3 463.0,399.3C463.4,399.3 463.8,399.3 464.2,399.5C464.5,399.6 464.8,399.9 465.0,400.2C465.2,400.5 465.4,400.8 465.4,401.1C465.4,401.4 465.3,401.8 465.1,402.0C464.9,402.3 464.6,402.6 464.3,402.7C463.9,402.8 463.5,402.9 463.1,402.9C462.7,402.8 462.3,402.7 461.9,402.6C461.6,402.4 461.4,402.2 461.2,401.9C461.1,401.7 461.0,401.3 461.0,401.0Z" fill="#b8efb0"/>
</g>
<line x1="361" y1="427.2" x2="377.5" y2="427.2" stroke="#e0e0e0" stroke-width="0.8"/>
<text x="369.25" y="425.8" font-size="5.2" text-anchor="middle" font-weight="bold" fill="#e6e6e6">1 cm</text>
<line x1="414" y1="427.2" x2="431" y2="427.2" stroke="#e0e0e0" stroke-width="0.8"/>
<text x="422.5" y="425.8" font-size="5.2" text-anchor="middle" font-weight="bold" fill="#e6e6e6">1 cm</text>
<line x1="467" y1="427.2" x2="483" y2="427.2" stroke="#e0e0e0" stroke-width="0.8"/>
<text x="475.0" y="425.8" font-size="5.2" text-anchor="middle" font-weight="bold" fill="#e6e6e6">1 cm</text>
<ellipse cx="356.5" cy="455" rx="23.4" ry="23.4" fill="#07081f" fill-opacity="0.65" stroke="#a89a4c" stroke-width="0.6" stroke-dasharray="1.4 1.3"/>
<ellipse cx="409.4" cy="455" rx="23.4" ry="23.4" fill="#07081f" fill-opacity="0.65" stroke="#a89a4c" stroke-width="0.6" stroke-dasharray="1.4 1.3"/>
<ellipse cx="464.6" cy="455" rx="21.8" ry="21.8" fill="#07081f" fill-opacity="0.65" stroke="#a89a4c" stroke-width="0.6" stroke-dasharray="1.4 1.3"/>
<g filter="url(#b2)">
<path d="M337.0,451.7C337.2,449.7 338.0,446.8 339.4,444.6C340.8,442.4 343.1,439.9 345.3,438.6C347.5,437.4 350.1,436.9 352.4,436.9C354.8,436.9 357.4,437.8 359.6,438.6C361.7,439.5 363.3,440.8 365.5,442.2C367.7,443.6 371.0,445.0 372.6,447.0C374.2,448.9 375.0,451.7 375.0,454.1C375.0,456.5 373.6,458.8 372.6,461.2C371.6,463.6 370.6,466.5 369.1,468.3C367.5,470.1 365.1,471.9 363.1,471.9C361.1,471.9 359.4,469.7 357.2,468.3C355.0,466.9 352.4,465.0 350.1,463.6C347.7,462.2 344.9,461.2 342.9,460.0C341.0,458.8 339.2,457.8 338.2,456.5C337.2,455.1 336.8,453.7 337.0,451.7Z" fill="#14207a" opacity="0.55"/>
<path d="M339.0,451.9C339.2,450.1 339.9,447.5 341.2,445.5C342.4,443.6 344.5,441.4 346.5,440.2C348.4,439.1 350.7,438.7 352.8,438.7C354.9,438.7 357.2,439.5 359.2,440.2C361.1,441.0 362.5,442.2 364.5,443.4C366.4,444.7 369.4,445.9 370.8,447.7C372.3,449.4 373.0,451.9 373.0,454.0C373.0,456.1 371.7,458.3 370.8,460.4C370.0,462.5 369.1,465.2 367.7,466.7C366.2,468.3 364.1,469.9 362.4,469.9C360.6,469.9 359.0,468.0 357.1,466.7C355.1,465.5 352.8,463.7 350.7,462.5C348.6,461.3 346.1,460.4 344.3,459.3C342.6,458.3 341.0,457.4 340.1,456.1C339.2,454.9 338.9,453.7 339.0,451.9Z" fill="#2a50d0"/>
</g>
<g filter="url(#b1)">
<path d="M339.7,451.9C339.8,450.2 340.5,447.7 341.7,445.8C342.9,444.0 344.9,441.8 346.8,440.7C348.7,439.6 350.9,439.2 352.9,439.2C354.9,439.2 357.1,440.0 359.0,440.7C360.9,441.5 362.2,442.6 364.1,443.8C366.0,445.0 368.8,446.2 370.2,447.9C371.6,449.6 372.2,451.9 372.2,454.0C372.2,456.0 371.1,458.0 370.2,460.1C369.4,462.1 368.5,464.6 367.2,466.2C365.8,467.7 363.8,469.2 362.1,469.2C360.4,469.2 358.8,467.4 357.0,466.2C355.1,465.0 352.9,463.3 350.9,462.1C348.8,460.9 346.5,460.1 344.8,459.1C343.1,458.0 341.5,457.2 340.7,456.0C339.8,454.8 339.5,453.6 339.7,451.9Z" fill="#4cc0e8"/>
<path d="M340.6,452.0C340.8,450.4 341.4,448.0 342.5,446.2C343.7,444.5 345.6,442.5 347.3,441.5C349.1,440.4 351.1,440.0 353.0,440.0C354.9,440.0 357.0,440.8 358.8,441.5C360.5,442.2 361.8,443.2 363.5,444.3C365.3,445.4 368.0,446.6 369.3,448.1C370.5,449.7 371.2,452.0 371.2,453.9C371.2,455.8 370.1,457.7 369.3,459.6C368.5,461.5 367.7,463.9 366.4,465.3C365.1,466.8 363.2,468.2 361.6,468.2C360.0,468.2 358.6,466.4 356.9,465.3C355.1,464.2 353.0,462.6 351.1,461.5C349.2,460.4 347.0,459.6 345.4,458.6C343.8,457.7 342.4,456.9 341.6,455.8C340.8,454.7 340.5,453.6 340.6,452.0Z" fill="#66dcb0"/>
<path d="M342.2,452.0C342.4,450.6 342.9,448.5 343.9,446.9C344.9,445.4 346.6,443.6 348.2,442.7C349.7,441.8 351.6,441.4 353.3,441.4C355.0,441.4 356.8,442.1 358.3,442.7C359.9,443.3 361.0,444.3 362.6,445.2C364.1,446.2 366.5,447.2 367.7,448.6C368.8,450.0 369.4,452.0 369.4,453.7C369.4,455.4 368.4,457.1 367.7,458.8C367.0,460.5 366.3,462.6 365.1,463.9C364.0,465.2 362.3,466.4 360.9,466.4C359.5,466.4 358.2,464.9 356.6,463.9C355.1,462.9 353.3,461.5 351.6,460.5C349.9,459.5 347.9,458.8 346.5,458.0C345.1,457.1 343.8,456.4 343.1,455.4C342.4,454.4 342.1,453.4 342.2,452.0Z" fill="#8ee480"/>
<path d="M345.1,452.1C345.2,451.0 345.7,449.4 346.4,448.2C347.2,447.0 348.5,445.6 349.7,444.9C350.9,444.2 352.3,443.9 353.6,443.9C355.0,443.9 356.4,444.4 357.6,444.9C358.8,445.4 359.7,446.1 360.9,446.9C362.1,447.6 363.9,448.4 364.8,449.5C365.7,450.6 366.1,452.1 366.1,453.4C366.1,454.8 365.4,456.1 364.8,457.4C364.3,458.7 363.7,460.3 362.8,461.3C362.0,462.3 360.7,463.3 359.6,463.3C358.5,463.3 357.5,462.1 356.3,461.3C355.1,460.6 353.6,459.5 352.3,458.7C351.0,457.9 349.5,457.4 348.4,456.7C347.3,456.1 346.3,455.5 345.8,454.8C345.2,454.0 345.0,453.2 345.1,452.1Z" fill="#d4ec80"/>
<path d="M349.9,452.3C349.9,451.7 350.2,450.9 350.6,450.3C351.0,449.7 351.6,448.9 352.3,448.6C352.9,448.2 353.6,448.1 354.3,448.1C355.0,448.1 355.7,448.3 356.3,448.6C357.0,448.8 357.4,449.2 358.0,449.6C358.7,450.0 359.6,450.4 360.1,451.0C360.5,451.5 360.7,452.3 360.7,453.0C360.7,453.7 360.4,454.3 360.1,455.0C359.8,455.7 359.5,456.5 359.1,457.1C358.6,457.6 357.9,458.1 357.4,458.1C356.8,458.1 356.3,457.5 355.7,457.1C355.0,456.7 354.3,456.1 353.6,455.7C352.9,455.3 352.2,455.0 351.6,454.7C351.0,454.3 350.5,454.1 350.2,453.7C349.9,453.3 349.8,452.9 349.9,452.3Z" fill="#ecec9c"/>
</g>
<ellipse cx="352" cy="451" rx="2.6" ry="3.2" fill="#f4d8b8" filter="url(#b1)" transform="rotate(0 352 451)"/>
<ellipse cx="359" cy="457" rx="2.2" ry="2.2" fill="#f0f0b8" filter="url(#b1)" transform="rotate(0 359 457)"/>
<g filter="url(#b2)">
<path d="M388.6,451.9C388.4,449.9 388.6,445.9 389.8,443.6C391.0,441.2 393.4,439.0 395.7,437.6C398.1,436.2 401.3,435.7 404.0,435.3C406.8,434.9 409.6,434.9 412.4,435.3C415.1,435.7 418.3,436.2 420.7,437.6C423.0,439.0 425.2,441.2 426.6,443.6C428.0,445.9 428.6,449.1 429.0,451.9C429.4,454.6 429.4,457.4 429.0,460.2C428.6,463.0 428.0,466.2 426.6,468.5C425.2,470.8 422.6,473.4 420.7,473.8C418.7,474.2 416.3,472.8 414.7,470.9C413.1,469.0 412.7,464.7 411.2,462.6C409.6,460.4 407.6,458.8 405.2,457.8C402.9,456.8 399.3,457.0 396.9,456.6C394.5,456.2 392.4,456.2 391.0,455.4C389.6,454.6 388.8,453.9 388.6,451.9Z" fill="#14207a" opacity="0.55"/>
<path d="M390.9,452.0C390.7,450.2 390.9,446.7 392.0,444.5C393.0,442.4 395.2,440.5 397.3,439.2C399.4,438.0 402.2,437.5 404.7,437.1C407.2,436.8 409.6,436.8 412.1,437.1C414.6,437.5 417.4,438.0 419.5,439.2C421.7,440.5 423.6,442.4 424.8,444.5C426.1,446.7 426.6,449.5 427.0,452.0C427.3,454.4 427.3,456.9 427.0,459.4C426.6,461.9 426.1,464.8 424.8,466.8C423.6,468.8 421.3,471.2 419.5,471.6C417.8,471.9 415.6,470.6 414.2,468.9C412.8,467.2 412.5,463.4 411.1,461.5C409.6,459.6 407.9,458.1 405.8,457.3C403.6,456.4 400.5,456.6 398.3,456.2C396.2,455.8 394.3,455.8 393.0,455.1C391.8,454.4 391.1,453.7 390.9,452.0Z" fill="#3444c8"/>
</g>
<g filter="url(#b1)">
<path d="M391.7,451.9C391.5,450.2 391.7,446.8 392.7,444.8C393.8,442.7 395.8,440.9 397.8,439.7C399.9,438.5 402.6,438.0 404.9,437.6C407.3,437.3 409.7,437.3 412.1,437.6C414.4,438.0 417.2,438.5 419.2,439.7C421.2,440.9 423.1,442.7 424.3,444.8C425.5,446.8 426.0,449.5 426.3,451.9C426.7,454.3 426.7,456.6 426.3,459.0C426.0,461.4 425.5,464.2 424.3,466.1C423.1,468.1 420.9,470.4 419.2,470.7C417.5,471.0 415.5,469.8 414.1,468.2C412.7,466.6 412.4,462.9 411.1,461.0C409.7,459.2 408.0,457.8 406.0,457.0C403.9,456.1 400.9,456.3 398.8,456.0C396.8,455.6 394.9,455.6 393.8,454.9C392.6,454.3 391.9,453.6 391.7,451.9Z" fill="#5a78e4"/>
<path d="M392.9,451.8C392.8,450.2 392.9,447.0 393.9,445.1C394.8,443.2 396.7,441.4 398.6,440.3C400.6,439.2 403.1,438.7 405.3,438.4C407.5,438.1 409.8,438.1 412.0,438.4C414.2,438.7 416.8,439.2 418.7,440.3C420.6,441.4 422.3,443.2 423.4,445.1C424.6,447.0 425.0,449.5 425.4,451.8C425.7,454.0 425.7,456.2 425.4,458.4C425.0,460.7 424.6,463.3 423.4,465.1C422.3,466.9 420.3,469.1 418.7,469.4C417.1,469.7 415.2,468.5 413.9,467.0C412.6,465.5 412.3,462.1 411.0,460.4C409.8,458.6 408.2,457.3 406.3,456.5C404.4,455.7 401.5,455.9 399.6,455.6C397.7,455.3 395.9,455.3 394.8,454.6C393.7,454.0 393.1,453.4 392.9,451.8Z" fill="#8ca8f2"/>
<path d="M395.3,451.5C395.2,450.2 395.3,447.4 396.2,445.7C397.0,444.1 398.6,442.6 400.3,441.6C401.9,440.6 404.2,440.2 406.1,440.0C408.0,439.7 409.9,439.7 411.9,440.0C413.8,440.2 416.0,440.6 417.7,441.6C419.3,442.6 420.8,444.1 421.8,445.7C422.8,447.4 423.2,449.6 423.4,451.5C423.7,453.5 423.7,455.4 423.4,457.3C423.2,459.2 422.8,461.5 421.8,463.1C420.8,464.7 419.0,466.5 417.7,466.8C416.3,467.1 414.6,466.1 413.5,464.8C412.4,463.4 412.1,460.5 411.0,459.0C409.9,457.5 408.6,456.4 406.9,455.7C405.3,455.0 402.8,455.1 401.1,454.8C399.5,454.6 397.9,454.6 397.0,454.0C396.0,453.5 395.5,452.9 395.3,451.5Z" fill="#b4c4f8"/>
<path d="M399.3,451.1C399.2,450.1 399.3,448.1 400.0,446.8C400.6,445.6 401.8,444.5 403.0,443.8C404.3,443.0 405.9,442.7 407.3,442.5C408.8,442.3 410.2,442.3 411.6,442.5C413.1,442.7 414.7,443.0 415.9,443.8C417.2,444.5 418.3,445.6 419.0,446.8C419.7,448.1 420.0,449.7 420.3,451.1C420.5,452.6 420.5,454.0 420.3,455.4C420.0,456.9 419.7,458.6 419.0,459.7C418.3,460.9 417.0,462.3 415.9,462.5C414.9,462.7 413.7,461.9 412.9,461.0C412.1,460.0 411.9,457.8 411.0,456.7C410.2,455.5 409.2,454.7 408.0,454.2C406.7,453.7 404.9,453.8 403.7,453.6C402.4,453.4 401.3,453.4 400.6,453.0C399.9,452.6 399.5,452.2 399.3,451.1Z" fill="#d4daf8"/>
<path d="M405.4,450.5C405.3,450.1 405.4,449.1 405.7,448.5C406.0,447.9 406.6,447.3 407.2,447.0C407.7,446.6 408.5,446.5 409.2,446.4C409.9,446.3 410.6,446.3 411.3,446.4C412.0,446.5 412.8,446.6 413.4,447.0C414.0,447.3 414.5,447.9 414.9,448.5C415.2,449.1 415.4,449.9 415.5,450.5C415.6,451.2 415.6,451.9 415.5,452.6C415.4,453.3 415.2,454.1 414.9,454.7C414.5,455.3 413.9,455.9 413.4,456.0C412.9,456.1 412.3,455.8 411.9,455.3C411.5,454.8 411.4,453.8 411.0,453.2C410.6,452.7 410.1,452.3 409.5,452.0C408.9,451.8 408.0,451.8 407.5,451.7C406.9,451.6 406.3,451.6 406.0,451.4C405.6,451.2 405.4,451.0 405.4,450.5Z" fill="#ecebfa"/>
</g>
<ellipse cx="404" cy="447" rx="3.2" ry="2.2" fill="#d8f0d8" filter="url(#b1)" transform="rotate(0 404 447)"/>
<ellipse cx="419" cy="460" rx="2.6" ry="4" fill="#e8d8f4" filter="url(#b1)" transform="rotate(0 419 460)"/>
<g filter="url(#b2)">
<path d="M445.6,456.3C445.2,453.7 446.1,450.1 447.4,447.9C448.7,445.8 451.1,444.4 453.3,443.2C455.5,442.0 457.9,441.0 460.4,440.8C463.0,440.6 466.2,441.2 468.8,442.0C471.3,442.8 473.9,444.0 475.9,445.6C477.9,447.2 479.6,449.5 480.6,451.5C481.6,453.5 482.4,455.9 481.8,457.4C481.2,459.0 478.8,459.8 477.1,461.0C475.3,462.2 473.3,463.3 471.1,464.6C469.0,465.8 466.6,468.1 464.0,468.7C461.4,469.3 458.1,469.0 455.7,468.1C453.3,467.2 451.4,465.4 449.8,463.4C448.1,461.4 446.0,458.8 445.6,456.3Z" fill="#14207a" opacity="0.55"/>
<path d="M447.6,456.1C447.2,453.8 448.0,450.6 449.2,448.7C450.3,446.7 452.5,445.5 454.5,444.4C456.4,443.4 458.5,442.5 460.8,442.3C463.1,442.1 465.9,442.7 468.2,443.4C470.5,444.1 472.8,445.1 474.6,446.5C476.4,448.0 478.0,450.1 478.8,451.8C479.7,453.6 480.4,455.7 479.9,457.1C479.4,458.6 477.3,459.3 475.7,460.3C474.1,461.4 472.3,462.4 470.4,463.5C468.4,464.6 466.3,466.7 464.0,467.2C461.7,467.7 458.7,467.5 456.6,466.7C454.5,465.9 452.8,464.2 451.3,462.4C449.8,460.7 447.9,458.4 447.6,456.1Z" fill="#2a50d0"/>
</g>
<g filter="url(#b1)">
<path d="M448.2,456.0C447.9,453.8 448.7,450.7 449.8,448.9C450.9,447.0 453.0,445.8 454.8,444.8C456.7,443.8 458.7,442.9 460.9,442.7C463.2,442.6 465.9,443.1 468.1,443.8C470.3,444.4 472.5,445.5 474.2,446.8C475.9,448.2 477.4,450.2 478.2,451.9C479.1,453.6 479.8,455.6 479.3,457.0C478.8,458.4 476.7,459.0 475.2,460.0C473.7,461.1 472.0,462.0 470.1,463.1C468.2,464.2 466.2,466.2 464.0,466.7C461.8,467.2 458.9,466.9 456.9,466.2C454.8,465.4 453.2,463.8 451.8,462.1C450.3,460.4 448.6,458.2 448.2,456.0Z" fill="#4cc0e8"/>
<path d="M449.2,455.8C448.9,453.8 449.6,450.9 450.6,449.1C451.7,447.4 453.7,446.3 455.4,445.3C457.2,444.4 459.1,443.6 461.1,443.4C463.2,443.3 465.8,443.7 467.8,444.4C469.9,445.0 472.0,446.0 473.5,447.2C475.1,448.5 476.6,450.4 477.4,452.0C478.2,453.6 478.8,455.5 478.3,456.8C477.8,458.0 475.9,458.7 474.5,459.6C473.1,460.6 471.5,461.5 469.7,462.5C468.0,463.5 466.1,465.4 464.0,465.8C461.9,466.3 459.2,466.1 457.3,465.4C455.4,464.6 453.9,463.1 452.6,461.5C451.2,460.0 449.5,457.9 449.2,455.8Z" fill="#66dcb0"/>
<path d="M450.9,455.6C450.6,453.7 451.2,451.2 452.1,449.6C453.0,448.1 454.8,447.1 456.4,446.2C457.9,445.4 459.6,444.7 461.5,444.5C463.3,444.4 465.6,444.8 467.4,445.4C469.2,446.0 471.1,446.8 472.5,447.9C473.9,449.1 475.2,450.8 475.9,452.2C476.6,453.6 477.1,455.3 476.7,456.4C476.3,457.5 474.6,458.1 473.3,459.0C472.1,459.8 470.6,460.6 469.1,461.5C467.5,462.4 465.8,464.0 464.0,464.5C462.2,464.9 459.8,464.7 458.1,464.0C456.4,463.4 455.0,462.1 453.8,460.7C452.6,459.2 451.1,457.4 450.9,455.6Z" fill="#8ee480"/>
<path d="M454.1,455.0C453.9,453.7 454.4,451.8 455.1,450.6C455.8,449.4 457.1,448.7 458.3,448.1C459.4,447.4 460.7,446.9 462.1,446.8C463.5,446.7 465.2,447.0 466.5,447.4C467.9,447.8 469.3,448.5 470.4,449.3C471.4,450.2 472.4,451.4 472.9,452.5C473.4,453.6 473.9,454.8 473.5,455.7C473.2,456.5 472.0,457.0 471.0,457.6C470.0,458.2 469.0,458.8 467.8,459.5C466.7,460.2 465.4,461.4 464.0,461.7C462.6,462.0 460.8,461.9 459.5,461.4C458.3,460.9 457.3,459.9 456.4,458.9C455.5,457.8 454.4,456.4 454.1,455.0Z" fill="#dcec70"/>
<path d="M458.7,454.3C458.6,453.6 458.9,452.6 459.3,452.0C459.6,451.3 460.3,450.9 460.9,450.6C461.6,450.3 462.2,450.0 463.0,449.9C463.7,449.9 464.6,450.0 465.4,450.3C466.1,450.5 466.8,450.8 467.4,451.3C468.0,451.7 468.5,452.4 468.7,453.0C469.0,453.5 469.3,454.2 469.1,454.7C468.9,455.1 468.2,455.3 467.7,455.7C467.2,456.0 466.7,456.3 466.0,456.7C465.4,457.1 464.7,457.7 464.0,457.9C463.3,458.1 462.3,458.0 461.6,457.7C460.9,457.5 460.4,456.9 459.9,456.4C459.4,455.8 458.9,455.1 458.7,454.3Z" fill="#f0c8a0"/>
</g>
<ellipse cx="465" cy="451.5" rx="3" ry="3.6" fill="#f2a0a0" filter="url(#b1)" transform="rotate(0 465 451.5)"/>
<ellipse cx="457" cy="457" rx="2.2" ry="2.2" fill="#e8ec90" filter="url(#b1)" transform="rotate(0 457 457)"/>
<line x1="362.3" y1="482.6" x2="380.5" y2="482.6" stroke="#e0e0e0" stroke-width="0.8"/>
<text x="371.4" y="481.20000000000005" font-size="5.2" text-anchor="middle" font-weight="bold" fill="#e6e6e6">1 cm</text>
<line x1="415.5" y1="482.6" x2="432.8" y2="482.6" stroke="#e0e0e0" stroke-width="0.8"/>
<text x="424.15" y="481.20000000000005" font-size="5.2" text-anchor="middle" font-weight="bold" fill="#e6e6e6">1 cm</text>
<line x1="469" y1="482.6" x2="486.5" y2="482.6" stroke="#e0e0e0" stroke-width="0.8"/>
<text x="477.75" y="481.20000000000005" font-size="5.2" text-anchor="middle" font-weight="bold" fill="#e6e6e6">1 cm</text>
<ellipse cx="355" cy="507.4" rx="23.4" ry="23.4" fill="#07081f" fill-opacity="0.65" stroke="#b8b088" stroke-width="0.6" stroke-dasharray="1.4 1.3"/>
<ellipse cx="409.4" cy="506.4" rx="20.2" ry="20.2" fill="#080a38" fill-opacity="0.9" stroke="#5a74c0" stroke-width="0.6"/>
<ellipse cx="462.4" cy="509.5" rx="20.2" ry="20.2" fill="#07081f" fill-opacity="0.65" stroke="#a89a4c" stroke-width="0.6" stroke-dasharray="1.4 1.3"/>
<g filter="url(#b2)">
<path d="M336.5,508.2C336.5,505.9 337.0,502.1 338.3,499.9C339.5,497.8 342.0,496.4 344.2,495.2C346.4,494.0 348.9,493.0 351.3,492.8C353.7,492.6 356.1,493.4 358.4,494.0C360.8,494.6 363.4,495.4 365.6,496.4C367.7,497.4 369.9,498.6 371.5,499.9C373.1,501.3 374.7,503.1 375.1,504.7C375.5,506.3 375.1,508.2 373.9,509.4C372.7,510.6 369.7,510.8 367.9,511.8C366.2,512.8 365.0,514.2 363.2,515.4C361.4,516.6 359.4,518.1 357.3,518.9C355.1,519.7 352.5,520.1 350.1,520.1C347.8,520.1 345.0,519.9 343.0,518.9C341.0,517.9 339.3,516.0 338.3,514.2C337.2,512.4 336.5,510.6 336.5,508.2Z" fill="#14207a" opacity="0.55"/>
<path d="M338.5,508.1C338.5,506.0 339.0,502.6 340.1,500.7C341.3,498.7 343.5,497.5 345.4,496.4C347.4,495.4 349.7,494.5 351.8,494.3C353.9,494.1 356.0,494.8 358.1,495.4C360.3,495.9 362.6,496.6 364.5,497.5C366.4,498.4 368.4,499.4 369.8,500.7C371.2,501.9 372.6,503.5 373.0,504.9C373.3,506.3 373.0,508.1 371.9,509.1C370.9,510.2 368.2,510.4 366.6,511.3C365.0,512.1 364.0,513.4 362.4,514.4C360.8,515.5 359.0,516.9 357.1,517.6C355.1,518.3 352.8,518.7 350.7,518.7C348.6,518.7 346.1,518.5 344.4,517.6C342.6,516.7 341.1,515.0 340.1,513.4C339.2,511.8 338.5,510.2 338.5,508.1Z" fill="#2a50d0"/>
</g>
<g filter="url(#b1)">
<path d="M339.1,508.0C339.1,505.9 339.5,502.7 340.6,500.9C341.7,499.0 343.9,497.8 345.7,496.8C347.6,495.8 349.8,494.9 351.8,494.7C353.9,494.6 355.9,495.3 357.9,495.8C360.0,496.3 362.2,497.0 364.0,497.8C365.9,498.6 367.8,499.7 369.1,500.9C370.5,502.0 371.8,503.6 372.2,504.9C372.5,506.3 372.2,508.0 371.2,509.0C370.1,510.0 367.6,510.2 366.1,511.0C364.6,511.9 363.5,513.1 362.0,514.1C360.5,515.1 358.8,516.5 356.9,517.1C355.1,517.8 352.8,518.2 350.8,518.2C348.8,518.2 346.4,518.0 344.7,517.1C343.0,516.3 341.6,514.6 340.6,513.1C339.7,511.5 339.1,510.0 339.1,508.0Z" fill="#4cc0e8"/>
<path d="M340.0,507.8C340.0,505.9 340.4,502.9 341.4,501.1C342.4,499.4 344.4,498.3 346.2,497.3C347.9,496.4 350.0,495.6 351.9,495.4C353.8,495.3 355.7,495.9 357.6,496.4C359.5,496.9 361.6,497.5 363.4,498.3C365.1,499.1 366.8,500.0 368.1,501.1C369.4,502.3 370.7,503.7 371.0,505.0C371.3,506.2 371.0,507.8 370.0,508.8C369.1,509.7 366.7,509.9 365.3,510.7C363.8,511.5 362.9,512.6 361.4,513.5C360.0,514.5 358.4,515.8 356.7,516.4C354.9,517.0 352.9,517.4 350.9,517.4C349.0,517.4 346.8,517.2 345.2,516.4C343.6,515.6 342.3,514.0 341.4,512.6C340.5,511.2 340.0,509.7 340.0,507.8Z" fill="#66dcb0"/>
<path d="M341.4,507.6C341.4,505.9 341.8,503.2 342.7,501.6C343.6,500.1 345.4,499.1 346.9,498.2C348.5,497.4 350.3,496.7 352.0,496.5C353.7,496.4 355.4,497.0 357.1,497.4C358.8,497.8 360.6,498.4 362.2,499.1C363.8,499.8 365.3,500.6 366.4,501.6C367.6,502.6 368.7,503.9 369.0,505.0C369.3,506.2 369.0,507.6 368.1,508.4C367.3,509.3 365.2,509.4 363.9,510.1C362.6,510.8 361.8,511.8 360.5,512.7C359.2,513.5 357.8,514.6 356.3,515.2C354.7,515.8 352.9,516.0 351.2,516.0C349.5,516.0 347.5,515.9 346.1,515.2C344.7,514.5 343.5,513.1 342.7,511.8C341.9,510.5 341.4,509.3 341.4,507.6Z" fill="#8ee480"/>
<path d="M344.0,507.1C344.0,505.8 344.3,503.7 345.0,502.5C345.7,501.3 347.1,500.5 348.3,499.9C349.5,499.2 350.9,498.7 352.2,498.6C353.6,498.4 354.9,498.9 356.2,499.2C357.5,499.5 358.9,500.0 360.1,500.5C361.3,501.1 362.5,501.7 363.4,502.5C364.3,503.3 365.2,504.3 365.4,505.1C365.6,506.0 365.4,507.1 364.7,507.8C364.1,508.4 362.4,508.5 361.4,509.1C360.5,509.6 359.8,510.4 358.8,511.0C357.8,511.7 356.7,512.6 355.5,513.0C354.3,513.5 352.9,513.7 351.6,513.7C350.3,513.7 348.7,513.6 347.6,513.0C346.5,512.5 345.6,511.4 345.0,510.4C344.4,509.4 344.0,508.4 344.0,507.1Z" fill="#d4ec80"/>
<path d="M348.4,506.3C348.4,505.6 348.5,504.6 348.9,504.0C349.2,503.3 350.0,502.9 350.6,502.6C351.2,502.3 351.9,502.0 352.6,501.9C353.3,501.9 354.0,502.1 354.6,502.3C355.3,502.4 356.1,502.7 356.7,502.9C357.3,503.2 357.9,503.6 358.4,504.0C358.8,504.3 359.3,504.9 359.4,505.3C359.5,505.8 359.4,506.3 359.1,506.7C358.7,507.0 357.9,507.1 357.4,507.3C356.9,507.6 356.5,508.0 356.0,508.4C355.5,508.7 354.9,509.2 354.3,509.4C353.7,509.6 352.9,509.7 352.3,509.7C351.6,509.7 350.8,509.7 350.2,509.4C349.7,509.1 349.2,508.5 348.9,508.0C348.6,507.5 348.4,507.0 348.4,506.3Z" fill="#ecec9c"/>
</g>
<ellipse cx="353.5" cy="503.5" rx="2.2" ry="4.5" fill="#f4b8b0" filter="url(#b1)" transform="rotate(15 353.5 503.5)"/>
<ellipse cx="348" cy="509" rx="2.2" ry="2.2" fill="#f0f0b0" filter="url(#b1)" transform="rotate(0 348 509)"/>
<g filter="url(#b2)">
<path d="M391.0,509.3C391.4,507.7 392.8,505.9 394.6,504.5C396.4,503.1 399.3,502.2 401.7,501.0C404.1,499.8 406.5,498.6 408.8,497.4C411.2,496.2 413.8,494.6 416.0,493.8C418.1,493.0 420.3,492.1 421.9,492.7C423.5,493.2 424.8,495.4 425.5,497.4C426.1,499.4 426.2,502.2 426.0,504.5C425.8,506.9 425.2,509.5 424.3,511.6C423.4,513.8 422.5,516.0 420.7,517.6C418.9,519.2 416.2,520.5 413.6,521.1C411.0,521.8 408.0,522.1 405.3,521.7C402.5,521.3 399.1,520.1 397.0,518.8C394.8,517.5 393.2,515.6 392.2,514.0C391.2,512.4 390.6,510.9 391.0,509.3Z" fill="#14207a" opacity="0.55"/>
<path d="M393.0,509.1C393.4,507.7 394.6,506.1 396.2,504.8C397.8,503.6 400.5,502.7 402.6,501.7C404.7,500.6 406.8,499.5 408.9,498.5C411.1,497.4 413.4,496.0 415.3,495.3C417.2,494.6 419.2,493.7 420.6,494.2C422.0,494.8 423.2,496.7 423.8,498.5C424.4,500.3 424.5,502.7 424.3,504.8C424.1,507.0 423.5,509.3 422.7,511.2C421.9,513.2 421.1,515.1 419.5,516.5C418.0,517.9 415.5,519.1 413.2,519.7C410.9,520.3 408.2,520.6 405.8,520.2C403.3,519.9 400.3,518.7 398.3,517.6C396.4,516.4 395.0,514.7 394.1,513.3C393.2,511.9 392.7,510.5 393.0,509.1Z" fill="#2a50d0"/>
</g>
<g filter="url(#b1)">
<path d="M393.8,509.0C394.1,507.7 395.3,506.2 396.8,505.0C398.3,503.8 400.9,502.9 402.9,501.9C405.0,500.9 407.0,499.9 409.0,498.9C411.1,497.9 413.3,496.5 415.1,495.8C417.0,495.1 418.9,494.3 420.2,494.8C421.6,495.3 422.7,497.2 423.3,498.9C423.9,500.6 424.0,502.9 423.8,505.0C423.6,507.0 423.0,509.2 422.3,511.1C421.5,512.9 420.7,514.8 419.2,516.2C417.7,517.5 415.3,518.6 413.1,519.2C410.9,519.8 408.4,520.1 406.0,519.7C403.6,519.4 400.7,518.3 398.9,517.2C397.0,516.1 395.6,514.5 394.8,513.1C393.9,511.8 393.4,510.4 393.8,509.0Z" fill="#4cc0e8"/>
<path d="M394.8,509.0C395.2,507.7 396.3,506.3 397.7,505.2C399.1,504.1 401.5,503.3 403.4,502.3C405.3,501.3 407.2,500.4 409.2,499.4C411.1,498.5 413.1,497.2 414.9,496.6C416.6,495.9 418.4,495.1 419.6,495.6C420.9,496.1 422.0,497.8 422.5,499.4C423.1,501.0 423.1,503.3 423.0,505.2C422.8,507.1 422.3,509.1 421.6,510.9C420.8,512.6 420.1,514.4 418.7,515.7C417.3,516.9 415.0,518.0 413.0,518.5C410.9,519.1 408.5,519.3 406.3,519.0C404.1,518.7 401.4,517.6 399.6,516.6C397.9,515.6 396.6,514.1 395.8,512.8C395.0,511.5 394.5,510.3 394.8,509.0Z" fill="#62dc98"/>
<path d="M397.0,508.8C397.3,507.7 398.2,506.5 399.5,505.5C400.7,504.6 402.8,503.9 404.4,503.1C406.1,502.2 407.7,501.4 409.4,500.6C411.1,499.8 412.8,498.7 414.4,498.1C415.9,497.5 417.4,496.9 418.5,497.3C419.6,497.7 420.5,499.2 421.0,500.6C421.5,502.0 421.5,503.9 421.4,505.5C421.2,507.2 420.8,509.0 420.1,510.5C419.5,512.0 418.9,513.5 417.7,514.6C416.4,515.7 414.5,516.6 412.7,517.1C410.9,517.6 408.8,517.8 406.9,517.5C405.0,517.3 402.6,516.4 401.1,515.5C399.6,514.6 398.5,513.3 397.8,512.2C397.1,511.1 396.7,510.0 397.0,508.8Z" fill="#80e064"/>
<path d="M400.6,508.6C400.8,507.8 401.5,506.9 402.4,506.2C403.4,505.5 404.9,504.9 406.1,504.3C407.3,503.7 408.6,503.1 409.8,502.5C411.0,501.9 412.4,501.0 413.5,500.6C414.6,500.2 415.8,499.7 416.6,500.0C417.4,500.3 418.1,501.5 418.4,502.5C418.8,503.5 418.8,504.9 418.7,506.2C418.6,507.4 418.3,508.7 417.8,509.9C417.3,511.0 416.9,512.1 416.0,512.9C415.0,513.8 413.6,514.4 412.3,514.8C410.9,515.1 409.4,515.3 408.0,515.1C406.5,514.9 404.8,514.2 403.7,513.5C402.5,512.9 401.7,511.9 401.2,511.1C400.7,510.3 400.4,509.5 400.6,508.6Z" fill="#c4e850"/>
<path d="M404.2,508.4C404.3,507.9 404.8,507.3 405.4,506.8C406.0,506.3 407.0,506.0 407.8,505.6C408.6,505.2 409.4,504.8 410.2,504.4C411.0,504.0 411.9,503.4 412.6,503.2C413.4,502.9 414.1,502.6 414.7,502.8C415.2,503.0 415.6,503.7 415.9,504.4C416.1,505.1 416.1,506.0 416.1,506.8C416.0,507.6 415.8,508.5 415.5,509.2C415.2,510.0 414.9,510.7 414.2,511.2C413.6,511.8 412.7,512.2 411.8,512.4C411.0,512.7 410.0,512.8 409.0,512.6C408.1,512.5 406.9,512.1 406.2,511.6C405.5,511.2 404.9,510.6 404.6,510.0C404.2,509.5 404.0,509.0 404.2,508.4Z" fill="#f0dc48"/>
<path d="M407.4,508.2C407.5,507.9 407.7,507.6 408.0,507.4C408.4,507.1 408.9,506.9 409.3,506.7C409.7,506.5 410.2,506.3 410.6,506.1C411.0,505.9 411.5,505.6 411.9,505.5C412.2,505.3 412.6,505.1 412.9,505.2C413.2,505.4 413.4,505.7 413.6,506.1C413.7,506.5 413.7,506.9 413.7,507.4C413.6,507.8 413.5,508.3 413.3,508.6C413.2,509.0 413.0,509.4 412.7,509.7C412.4,510.0 411.9,510.2 411.4,510.3C411.0,510.5 410.4,510.5 410.0,510.4C409.5,510.4 408.9,510.1 408.5,509.9C408.1,509.7 407.8,509.3 407.6,509.1C407.4,508.8 407.3,508.5 407.4,508.2Z" fill="#f08a40"/>
</g>
<ellipse cx="411.5" cy="506.5" rx="1.8" ry="2.2" fill="#ee5a3a" filter="url(#b2)" transform="rotate(0 411.5 506.5)"/>
<g filter="url(#b2)">
<path d="M451.9,516.9C452.1,514.7 452.8,510.9 453.7,508.5C454.6,506.2 455.9,504.3 457.3,502.6C458.7,500.9 460.2,499.3 462.0,498.4C463.8,497.6 466.4,497.0 468.0,497.3C469.5,497.6 470.9,498.5 471.5,500.2C472.1,501.9 471.9,505.0 471.5,507.4C471.1,509.7 469.9,512.3 469.1,514.5C468.4,516.7 468.0,518.7 466.8,520.4C465.6,522.1 463.8,523.8 462.0,524.6C460.2,525.4 457.7,525.7 456.1,525.2C454.5,524.7 453.2,523.0 452.5,521.6C451.8,520.2 451.7,519.0 451.9,516.9Z" fill="#14207a" opacity="0.55"/>
<path d="M453.0,516.3C453.2,514.3 453.8,511.0 454.6,508.9C455.4,506.7 456.5,505.1 457.8,503.6C459.0,502.1 460.4,500.6 462.0,499.8C463.6,499.0 465.9,498.5 467.3,498.8C468.7,499.0 470.0,499.9 470.5,501.4C471.0,502.9 470.8,505.7 470.5,507.8C470.1,509.9 469.1,512.2 468.4,514.2C467.7,516.1 467.3,518.0 466.2,519.5C465.2,521.0 463.6,522.5 462.0,523.2C460.4,523.9 458.1,524.1 456.7,523.7C455.3,523.3 454.1,521.7 453.5,520.5C452.9,519.3 452.8,518.2 453.0,516.3Z" fill="#2a50d0"/>
</g>
<g filter="url(#b1)">
<path d="M453.4,516.0C453.6,514.2 454.2,511.0 455.0,509.0C455.7,506.9 456.8,505.4 458.0,503.9C459.2,502.5 460.5,501.2 462.0,500.4C463.5,499.6 465.7,499.1 467.0,499.4C468.4,499.6 469.6,500.5 470.1,501.9C470.6,503.3 470.4,505.9 470.1,508.0C469.7,510.0 468.7,512.1 468.0,514.0C467.4,515.8 467.0,517.6 466.0,519.0C465.0,520.5 463.5,521.9 462.0,522.6C460.5,523.2 458.3,523.5 457.0,523.1C455.6,522.6 454.5,521.2 454.0,520.0C453.4,518.9 453.3,517.9 453.4,516.0Z" fill="#4cc0e8"/>
<path d="M454.1,515.6C454.2,513.9 454.8,511.0 455.5,509.1C456.2,507.2 457.2,505.8 458.3,504.4C459.4,503.1 460.6,501.9 462.0,501.2C463.4,500.5 465.4,500.0 466.7,500.2C467.9,500.5 469.0,501.3 469.5,502.6C469.9,503.9 469.8,506.3 469.5,508.2C469.2,510.0 468.2,512.1 467.6,513.8C467.0,515.5 466.7,517.1 465.7,518.4C464.8,519.8 463.4,521.1 462.0,521.7C460.6,522.3 458.6,522.6 457.3,522.2C456.1,521.8 455.1,520.5 454.5,519.4C454.0,518.3 453.9,517.3 454.1,515.6Z" fill="#66dcb0"/>
<path d="M455.2,515.0C455.4,513.5 455.8,511.0 456.4,509.4C457.0,507.8 457.9,506.5 458.8,505.4C459.8,504.3 460.8,503.2 462.0,502.6C463.2,502.0 464.9,501.6 466.0,501.8C467.0,502.0 468.0,502.7 468.4,503.8C468.8,505.0 468.6,507.0 468.4,508.6C468.1,510.2 467.3,511.9 466.8,513.4C466.2,514.8 466.0,516.2 465.2,517.3C464.4,518.5 463.2,519.6 462.0,520.1C460.8,520.7 459.1,520.9 458.0,520.5C457.0,520.2 456.1,519.1 455.6,518.1C455.2,517.2 455.1,516.4 455.2,515.0Z" fill="#8ee480"/>
<path d="M457.0,513.9C457.1,512.8 457.5,511.0 457.9,509.8C458.4,508.7 459.0,507.7 459.7,506.9C460.4,506.1 461.1,505.3 462.0,504.9C462.9,504.4 464.1,504.1 464.9,504.3C465.7,504.4 466.4,504.9 466.7,505.7C467.0,506.6 466.9,508.1 466.7,509.2C466.5,510.4 465.9,511.7 465.5,512.7C465.1,513.8 464.9,514.8 464.3,515.6C463.8,516.5 462.9,517.3 462.0,517.7C461.1,518.1 459.9,518.2 459.1,518.0C458.3,517.7 457.7,516.9 457.3,516.2C457.0,515.6 457.0,515.0 457.0,513.9Z" fill="#c8ec80"/>
<path d="M459.5,512.5C459.5,511.9 459.7,511.0 459.9,510.4C460.1,509.8 460.5,509.3 460.8,508.9C461.2,508.5 461.6,508.1 462.0,507.9C462.4,507.7 463.1,507.5 463.5,507.6C463.9,507.7 464.2,507.9 464.4,508.3C464.5,508.7 464.5,509.5 464.4,510.1C464.3,510.7 464.0,511.3 463.8,511.9C463.6,512.4 463.5,512.9 463.2,513.4C462.9,513.8 462.4,514.2 462.0,514.4C461.6,514.6 460.9,514.7 460.5,514.6C460.1,514.4 459.8,514.0 459.6,513.7C459.5,513.3 459.4,513.0 459.5,512.5Z" fill="#e8eea0"/>
</g>
<line x1="362.7" y1="528.1" x2="379.8" y2="528.1" stroke="#e0e0e0" stroke-width="0.8"/>
<text x="371.25" y="526.7" font-size="5.2" text-anchor="middle" font-weight="bold" fill="#e6e6e6">1 cm</text>
<line x1="415.7" y1="528.1" x2="432.8" y2="528.1" stroke="#e0e0e0" stroke-width="0.8"/>
<text x="424.25" y="526.7" font-size="5.2" text-anchor="middle" font-weight="bold" fill="#e6e6e6">1 cm</text>
<line x1="468.6" y1="528.1" x2="484.2" y2="528.1" stroke="#e0e0e0" stroke-width="0.8"/>
<text x="476.4" y="526.7" font-size="5.2" text-anchor="middle" font-weight="bold" fill="#e6e6e6">1 cm</text>
<rect x="494.9" y="216" width="5.1" height="318.5" fill="url(#cbD)"/>
<text x="501.6" y="217.7" font-size="3.1" text-anchor="start" font-weight="bold" fill="#3a2c2c">99.5</text>
<text x="501.6" y="247.29999999999998" font-size="3.1" text-anchor="start" font-weight="bold" fill="#3a2c2c">90.0</text>
<text x="501.6" y="279.6" font-size="3.1" text-anchor="start" font-weight="bold" fill="#3a2c2c">80.0</text>
<text x="501.6" y="310.6" font-size="3.1" text-anchor="start" font-weight="bold" fill="#3a2c2c">70.0</text>
<text x="501.6" y="342.1" font-size="3.1" text-anchor="start" font-weight="bold" fill="#3a2c2c">60.0</text>
<text x="501.6" y="373.6" font-size="3.1" text-anchor="start" font-weight="bold" fill="#3a2c2c">50.0</text>
<text x="501.6" y="405.1" font-size="3.1" text-anchor="start" font-weight="bold" fill="#3a2c2c">40.0</text>
<text x="501.6" y="436.6" font-size="3.1" text-anchor="start" font-weight="bold" fill="#3a2c2c">30.0</text>
<text x="501.6" y="468.1" font-size="3.1" text-anchor="start" font-weight="bold" fill="#3a2c2c">20.0</text>
<text x="501.6" y="499.6" font-size="3.1" text-anchor="start" font-weight="bold" fill="#3a2c2c">10.0</text>
<text x="501.6" y="532.1" font-size="3.1" text-anchor="start" font-weight="bold" fill="#3a2c2c">0.0253</text>
</g>
<g id="panelG">
<text x="395.6" y="552.4" font-size="13" text-anchor="middle" font-weight="normal" fill="#231f20" stroke="#231f20" stroke-width="0.18" textLength="98.5" lengthAdjust="spacingAndGlyphs">Lung metastasis</text>
<rect x="292.5" y="557.5" width="211.1" height="141.2" fill="#020203"/>
<circle cx="327.3" cy="590.3" r="33.2" fill="none" stroke="#c4bc9c" stroke-width="0.8" stroke-dasharray="3.2 2.4"/>
<circle cx="398" cy="591.3" r="33.2" fill="none" stroke="#c4bc9c" stroke-width="0.8" stroke-dasharray="3.2 2.4"/>
<circle cx="466.6" cy="592.3" r="32.2" fill="none" stroke="#8c7e50" stroke-width="0.8"/>
<circle cx="328.3" cy="664.4" r="34.3" fill="none" stroke="#c4bc9c" stroke-width="0.8" stroke-dasharray="3.2 2.4"/>
<circle cx="399" cy="663.4" r="32.2" fill="none" stroke="#c4bc9c" stroke-width="0.8" stroke-dasharray="3.2 2.4"/>
<circle cx="467.7" cy="664.4" r="33.2" fill="none" stroke="#c4bc9c" stroke-width="0.8" stroke-dasharray="3.2 2.4"/>
<path d="M321.0,565.0C321.8,564.2 323.2,563.5 324.0,564.0C324.8,564.5 325.7,566.5 326.0,568.0C326.3,569.5 325.3,571.7 326.0,573.0C326.7,574.3 329.8,574.8 330.0,576.0C330.2,577.2 328.5,579.3 327.0,580.0C325.5,580.7 322.2,581.0 321.0,580.0C319.8,579.0 320.3,575.8 320.0,574.0C319.7,572.2 318.8,570.5 319.0,569.0C319.2,567.5 320.2,565.8 321.0,565.0Z" fill="#2c4cd8" filter="url(#b2)"/>
<ellipse cx="323" cy="569.5" rx="1.8" ry="2.6" fill="#58b8f0" filter="url(#b2)" transform="rotate(0 323 569.5)"/>
<g filter="url(#b2)">
<path d="M311.0,597.0C311.0,595.2 311.2,592.0 312.0,590.0C312.8,588.0 314.3,586.5 316.0,585.0C317.7,583.5 320.3,582.5 322.0,581.0C323.7,579.5 324.5,577.2 326.0,576.0C327.5,574.8 329.2,573.8 331.0,574.0C332.8,574.2 335.3,575.7 337.0,577.0C338.7,578.3 339.7,580.2 341.0,582.0C342.3,583.8 344.0,585.8 345.0,588.0C346.0,590.2 346.8,592.5 347.0,595.0C347.2,597.5 346.7,600.7 346.0,603.0C345.3,605.3 344.5,607.3 343.0,609.0C341.5,610.7 339.0,612.7 337.0,613.0C335.0,613.3 332.8,612.0 331.0,611.0C329.2,610.0 327.8,607.5 326.0,607.0C324.2,606.5 321.8,608.3 320.0,608.0C318.2,607.7 316.3,606.2 315.0,605.0C313.7,603.8 312.7,602.3 312.0,601.0C311.3,599.7 311.0,598.8 311.0,597.0Z" fill="#2848d8"/>
<path d="M312.0,597.0C312.0,595.3 312.1,592.4 312.9,590.5C313.7,588.6 315.1,587.2 316.6,585.8C318.2,584.4 320.7,583.5 322.2,582.1C323.8,580.7 324.5,578.6 325.9,577.5C327.3,576.4 328.9,575.5 330.6,575.6C332.3,575.8 334.6,577.2 336.2,578.4C337.7,579.6 338.6,581.3 339.9,583.0C341.1,584.8 342.7,586.6 343.6,588.6C344.5,590.6 345.3,592.8 345.5,595.1C345.6,597.5 345.1,600.4 344.5,602.6C343.9,604.8 343.1,606.6 341.7,608.2C340.3,609.7 338.0,611.6 336.2,611.9C334.3,612.2 332.3,611.0 330.6,610.0C328.9,609.1 327.6,606.8 325.9,606.3C324.2,605.8 322.1,607.5 320.4,607.2C318.6,606.9 316.9,605.5 315.7,604.4C314.5,603.4 313.5,602.0 312.9,600.7C312.3,599.5 312.0,598.7 312.0,597.0Z" fill="#38a8ee"/>
<path d="M313.0,597.0C313.0,595.4 313.1,592.7 313.8,591.0C314.5,589.3 315.8,588.0 317.3,586.7C318.7,585.4 321.0,584.5 322.4,583.2C323.9,582.0 324.6,579.9 325.9,578.9C327.2,577.9 328.6,577.1 330.2,577.2C331.7,577.4 333.9,578.7 335.3,579.8C336.8,580.9 337.6,582.5 338.8,584.1C339.9,585.7 341.3,587.4 342.2,589.3C343.1,591.1 343.8,593.1 343.9,595.3C344.1,597.4 343.6,600.2 343.1,602.2C342.5,604.2 341.8,605.9 340.5,607.3C339.2,608.8 337.0,610.5 335.3,610.8C333.6,611.0 331.7,609.9 330.2,609.0C328.6,608.2 327.4,606.0 325.9,605.6C324.3,605.2 322.3,606.7 320.7,606.5C319.1,606.2 317.5,604.9 316.4,603.9C315.3,602.9 314.4,601.6 313.8,600.4C313.2,599.3 313.0,598.6 313.0,597.0Z" fill="#3cd8d8"/>
<path d="M314.1,597.0C314.1,595.6 314.2,593.1 314.9,591.5C315.5,590.0 316.7,588.8 318.0,587.6C319.3,586.5 321.4,585.7 322.7,584.5C324.0,583.4 324.6,581.5 325.8,580.6C326.9,579.7 328.2,578.9 329.7,579.1C331.1,579.2 333.1,580.4 334.4,581.4C335.7,582.4 336.4,583.9 337.5,585.3C338.5,586.7 339.8,588.3 340.6,590.0C341.4,591.7 342.0,593.5 342.2,595.4C342.3,597.4 341.9,599.9 341.4,601.7C340.9,603.5 340.2,605.1 339.0,606.4C337.9,607.7 335.9,609.2 334.4,609.5C332.8,609.7 331.1,608.7 329.7,607.9C328.2,607.1 327.2,605.2 325.8,604.8C324.3,604.4 322.5,605.8 321.1,605.6C319.7,605.3 318.2,604.1 317.2,603.2C316.2,602.3 315.4,601.2 314.9,600.1C314.3,599.1 314.1,598.4 314.1,597.0Z" fill="#4cd85c"/>
</g>
<ellipse cx="338" cy="586" rx="4.5" ry="6" fill="#34b0ec" filter="url(#b2)" transform="rotate(30 338 586)"/>
<ellipse cx="341" cy="600" rx="3" ry="7" fill="#3cc8e0" filter="url(#b2)" transform="rotate(0 341 600)"/>
<path d="M312.5,598.0C312.4,595.8 312.9,593.0 314.0,591.0C315.1,589.0 317.0,587.2 319.0,586.0C321.0,584.8 323.7,583.9 326.0,584.0C328.3,584.1 331.2,585.2 333.0,586.5C334.8,587.8 336.2,589.9 337.0,592.0C337.8,594.1 338.3,596.7 338.0,599.0C337.7,601.3 336.5,604.5 335.0,606.0C333.5,607.5 330.8,608.0 329.0,608.0C327.2,608.0 325.7,606.0 324.0,606.0C322.3,606.0 320.6,608.3 319.0,608.0C317.4,607.7 315.6,605.7 314.5,604.0C313.4,602.3 312.6,600.2 312.5,598.0Z" fill="#d8ea2c" filter="url(#b2)"/>
<path d="M315.0,597.5C315.2,595.8 315.8,593.1 317.0,591.5C318.2,589.9 320.2,588.8 322.0,588.0C323.8,587.2 326.2,586.6 328.0,587.0C329.8,587.4 331.8,588.8 333.0,590.5C334.2,592.2 335.0,594.8 335.0,597.0C335.0,599.2 334.2,602.3 333.0,603.5C331.8,604.7 329.7,604.1 328.0,604.0C326.3,603.9 324.5,602.8 323.0,603.0C321.5,603.2 320.2,605.2 319.0,605.0C317.8,604.8 316.7,603.2 316.0,602.0C315.3,600.8 314.8,599.2 315.0,597.5Z" fill="#f0a424" filter="url(#b2)"/>
<path d="M317.5,597.0C317.7,595.6 318.1,593.7 319.0,592.5C319.9,591.3 321.7,590.6 323.0,590.0C324.3,589.4 325.8,588.8 327.0,589.0C328.2,589.2 329.0,590.0 330.0,591.0C331.0,592.0 332.4,593.5 333.0,595.0C333.6,596.5 333.8,598.7 333.5,600.0C333.2,601.3 332.1,602.8 331.0,603.0C329.9,603.2 328.2,601.1 327.0,601.0C325.8,600.9 325.0,602.6 324.0,602.5C323.0,602.4 322.0,600.8 321.0,600.5C320.0,600.2 318.6,601.6 318.0,601.0C317.4,600.4 317.3,598.4 317.5,597.0Z" fill="#e82020" filter="url(#b2)"/>
<ellipse cx="327" cy="605.5" rx="2.2" ry="1.3" fill="#e82020" filter="url(#b2)" transform="rotate(0 327 605.5)"/>
<ellipse cx="320" cy="603" rx="1.4" ry="1.4" fill="#e82020" filter="url(#b2)" transform="rotate(0 320 603)"/>
<ellipse cx="334" cy="591" rx="1.4" ry="1.4" fill="#f0d028" filter="url(#b2)" transform="rotate(0 334 591)"/>
<g filter="url(#b1)">
<path d="M383.2,589.8C383.4,587.0 384.3,583.7 385.4,581.4C386.4,579.1 387.8,576.7 389.6,576.1C391.3,575.6 394.1,578.4 395.9,578.2C397.6,578.1 398.7,576.5 400.1,575.1C401.4,573.7 402.9,570.2 404.2,569.9C405.6,569.5 407.6,571.2 408.4,573.0C409.3,574.8 408.8,577.9 409.5,580.4C410.2,582.8 411.9,584.9 412.6,587.7C413.4,590.5 414.2,594.0 414.2,597.1C414.2,600.3 413.8,603.8 412.6,606.6C411.5,609.4 409.5,612.4 407.4,614.0C405.3,615.5 402.5,616.2 400.1,616.0C397.6,615.9 394.8,614.6 392.7,612.9C390.6,611.1 388.8,608.0 387.4,605.5C386.1,603.1 385.0,600.8 384.3,598.2C383.6,595.6 383.1,592.6 383.2,589.8Z" fill="#20208a"/>
<path d="M384.8,590.2C384.9,587.7 385.7,584.7 386.6,582.6C387.6,580.5 388.9,578.3 390.4,577.9C392.0,577.4 394.6,579.9 396.1,579.8C397.7,579.6 398.7,578.2 399.9,576.9C401.2,575.6 402.5,572.5 403.8,572.1C405.0,571.8 406.8,573.4 407.6,575.0C408.3,576.6 407.9,579.4 408.5,581.6C409.1,583.9 410.6,585.8 411.4,588.3C412.1,590.8 412.8,594.0 412.8,596.9C412.8,599.7 412.4,602.9 411.4,605.4C410.3,607.9 408.5,610.6 406.6,612.0C404.7,613.5 402.2,614.1 399.9,614.0C397.7,613.8 395.2,612.7 393.3,611.1C391.4,609.5 389.8,606.7 388.6,604.5C387.3,602.2 386.3,600.2 385.7,597.8C385.1,595.4 384.6,592.7 384.8,590.2Z" fill="#3030b0"/>
<path d="M386.7,590.7C386.8,588.5 387.5,585.9 388.3,584.2C389.2,582.4 390.3,580.5 391.6,580.1C393.0,579.6 395.2,581.8 396.5,581.7C397.9,581.6 398.7,580.3 399.8,579.2C400.9,578.1 402.0,575.4 403.1,575.1C404.2,574.9 405.7,576.2 406.4,577.6C407.1,579.0 406.7,581.4 407.2,583.3C407.7,585.3 409.0,586.9 409.7,589.1C410.3,591.3 410.9,594.0 410.9,596.5C410.9,598.9 410.5,601.7 409.7,603.8C408.8,606.0 407.2,608.4 405.6,609.6C403.9,610.8 401.7,611.4 399.8,611.2C397.9,611.1 395.7,610.1 394.1,608.8C392.4,607.4 391.1,604.9 390.0,603.0C388.9,601.1 388.1,599.3 387.5,597.3C387.0,595.2 386.6,592.9 386.7,590.7Z" fill="#3c3cc4"/>
<path d="M390.8,591.8C390.8,590.3 391.3,588.6 391.9,587.4C392.4,586.2 393.1,584.9 394.1,584.6C395.0,584.4 396.4,585.8 397.4,585.8C398.3,585.7 398.8,584.8 399.6,584.1C400.3,583.4 401.0,581.5 401.8,581.4C402.5,581.2 403.5,582.1 403.9,583.0C404.4,583.9 404.1,585.6 404.5,586.9C404.9,588.1 405.7,589.2 406.1,590.7C406.6,592.2 407.0,594.0 407.0,595.6C407.0,597.3 406.7,599.1 406.1,600.6C405.6,602.1 404.5,603.6 403.4,604.5C402.3,605.3 400.8,605.6 399.6,605.5C398.3,605.5 396.8,604.8 395.7,603.9C394.6,603.0 393.7,601.3 392.9,600.0C392.2,598.8 391.7,597.6 391.3,596.2C390.9,594.8 390.7,593.3 390.8,591.8Z" fill="#4848d0"/>
</g>
<ellipse cx="397" cy="584" rx="2" ry="5" fill="#1c1c70" filter="url(#b1)" transform="rotate(25 397 584)"/>
<g filter="url(#b2)">
<path d="M443.0,597.0C442.7,594.2 443.2,591.5 444.0,589.0C444.8,586.5 446.3,584.0 448.0,582.0C449.7,580.0 451.8,578.2 454.0,577.0C456.2,575.8 458.5,575.0 461.0,574.5C463.5,574.0 466.5,573.8 469.0,574.0C471.5,574.2 473.8,574.8 476.0,576.0C478.2,577.2 480.3,579.0 482.0,581.0C483.7,583.0 485.1,585.5 486.0,588.0C486.9,590.5 487.5,593.3 487.5,596.0C487.5,598.7 486.9,601.5 486.0,604.0C485.1,606.5 483.8,609.0 482.0,611.0C480.2,613.0 477.5,614.9 475.0,616.0C472.5,617.1 469.7,617.5 467.0,617.5C464.3,617.5 461.5,616.9 459.0,616.0C456.5,615.1 454.2,613.7 452.0,612.0C449.8,610.3 447.5,608.5 446.0,606.0C444.5,603.5 443.3,599.8 443.0,597.0Z" fill="#2848d8"/>
<path d="M443.9,596.9C443.6,594.2 444.1,591.6 444.9,589.2C445.6,586.9 447.1,584.5 448.6,582.6C450.2,580.7 452.3,579.0 454.4,577.9C456.4,576.7 458.6,576.0 461.0,575.5C463.4,575.0 466.2,574.8 468.6,575.0C471.0,575.2 473.2,575.8 475.2,576.9C477.3,578.0 479.4,579.8 480.9,581.6C482.5,583.5 483.9,585.9 484.8,588.3C485.6,590.7 486.2,593.4 486.2,595.9C486.2,598.4 485.6,601.1 484.8,603.5C483.9,605.9 482.7,608.2 480.9,610.1C479.2,612.0 476.7,613.9 474.3,614.9C471.9,615.9 469.2,616.3 466.7,616.3C464.2,616.3 461.5,615.8 459.1,614.9C456.7,614.0 454.5,612.7 452.4,611.1C450.4,609.5 448.2,607.8 446.8,605.4C445.3,603.0 444.2,599.5 443.9,596.9Z" fill="#38b8ee"/>
<path d="M445.2,596.6C444.9,594.1 445.3,591.8 446.0,589.6C446.8,587.4 448.1,585.2 449.6,583.4C451.0,581.7 452.9,580.1 454.8,579.0C456.7,577.9 458.8,577.3 461.0,576.8C463.2,576.4 465.8,576.2 468.0,576.4C470.2,576.6 472.3,577.1 474.2,578.2C476.1,579.2 478.0,580.8 479.5,582.6C480.9,584.3 482.2,586.5 483.0,588.7C483.8,590.9 484.3,593.4 484.3,595.8C484.3,598.1 483.8,600.6 483.0,602.8C482.2,605.0 481.1,607.2 479.5,609.0C477.9,610.7 475.5,612.4 473.3,613.4C471.1,614.3 468.6,614.7 466.3,614.7C463.9,614.7 461.4,614.2 459.2,613.4C457.0,612.6 455.0,611.3 453.1,609.8C451.2,608.4 449.1,606.8 447.8,604.6C446.5,602.4 445.5,599.1 445.2,596.6Z" fill="#48d868"/>
<path d="M446.8,596.4C446.5,594.1 446.9,592.0 447.6,590.0C448.2,588.1 449.4,586.1 450.7,584.5C452.0,582.9 453.8,581.6 455.5,580.6C457.2,579.6 459.0,579.0 461.0,578.6C463.0,578.2 465.3,578.0 467.3,578.2C469.3,578.4 471.1,578.9 472.9,579.8C474.6,580.7 476.3,582.1 477.6,583.7C478.9,585.3 480.0,587.3 480.8,589.3C481.5,591.2 481.9,593.5 481.9,595.6C481.9,597.7 481.5,599.9 480.8,601.9C480.0,603.9 479.0,605.8 477.6,607.4C476.1,609.0 474.0,610.5 472.1,611.4C470.1,612.2 467.8,612.6 465.7,612.6C463.6,612.6 461.4,612.1 459.4,611.4C457.4,610.7 455.6,609.5 453.9,608.2C452.2,606.9 450.3,605.5 449.1,603.5C448.0,601.5 447.0,598.6 446.8,596.4Z" fill="#d8ea2c"/>
</g>
<path d="M474.0,577.0C475.3,577.0 478.2,578.3 480.0,580.0C481.8,581.7 483.9,584.3 485.0,587.0C486.1,589.7 486.7,593.3 486.5,596.0C486.3,598.7 485.1,602.3 484.0,603.0C482.9,603.7 481.0,601.8 480.0,600.0C479.0,598.2 478.7,594.5 478.0,592.0C477.3,589.5 477.0,587.0 476.0,585.0C475.0,583.0 472.3,581.3 472.0,580.0C471.7,578.7 472.7,577.0 474.0,577.0Z" fill="#3cc4ea" filter="url(#b2)"/>
<path d="M470.0,580.0C471.2,580.0 474.5,582.0 476.0,584.0C477.5,586.0 478.3,589.3 479.0,592.0C479.7,594.7 480.3,598.0 480.0,600.0C479.7,602.0 478.0,604.3 477.0,604.0C476.0,603.7 474.8,600.3 474.0,598.0C473.2,595.7 472.8,592.3 472.0,590.0C471.2,587.7 469.3,585.7 469.0,584.0C468.7,582.3 468.8,580.0 470.0,580.0Z" fill="#50d8a0" filter="url(#b2)"/>
<path d="M446.0,595.0C446.0,592.9 447.0,590.0 448.0,588.0C449.0,586.0 450.3,584.4 452.0,583.0C453.7,581.6 455.8,580.2 458.0,579.5C460.2,578.8 463.0,578.2 465.0,578.5C467.0,578.8 468.7,579.6 470.0,581.0C471.3,582.4 472.4,584.8 473.0,587.0C473.6,589.2 473.8,591.9 473.5,594.0C473.2,596.1 472.2,598.1 471.0,599.5C469.8,600.9 468.0,601.7 466.0,602.5C464.0,603.3 461.3,604.3 459.0,604.5C456.7,604.7 453.8,604.2 452.0,603.5C450.2,602.8 449.0,601.9 448.0,600.5C447.0,599.1 446.0,597.1 446.0,595.0Z" fill="#f0a424" filter="url(#b2)"/>
<path d="M447.5,595.0C447.5,593.2 448.5,590.3 449.5,588.5C450.5,586.7 451.9,585.2 453.5,584.0C455.1,582.8 457.1,581.7 459.0,581.0C460.9,580.3 463.2,579.8 465.0,580.0C466.8,580.2 468.3,581.2 469.5,582.5C470.7,583.8 471.6,586.1 472.0,588.0C472.4,589.9 472.4,592.2 472.0,594.0C471.6,595.8 470.7,597.3 469.5,598.5C468.3,599.7 466.8,600.2 465.0,601.0C463.2,601.8 461.0,602.8 459.0,603.0C457.0,603.2 454.6,602.6 453.0,602.0C451.4,601.4 450.4,600.7 449.5,599.5C448.6,598.3 447.5,596.8 447.5,595.0Z" fill="#e82020" filter="url(#b2)"/>
<path d="M463.0,604.5C463.5,603.8 466.2,603.0 468.0,603.0C469.8,603.0 472.2,604.6 474.0,604.5C475.8,604.4 477.8,602.4 479.0,602.5C480.2,602.6 481.7,604.1 481.5,605.0C481.3,605.9 479.8,607.4 478.0,608.0C476.2,608.6 473.2,608.6 471.0,608.5C468.8,608.4 466.3,608.2 465.0,607.5C463.7,606.8 462.5,605.2 463.0,604.5Z" fill="#e82828" filter="url(#b2)"/>
<path d="M476.0,596.5C476.6,595.7 479.3,594.8 480.5,595.0C481.7,595.2 483.0,596.7 483.0,597.5C483.0,598.3 481.5,599.6 480.5,600.0C479.5,600.4 477.8,600.6 477.0,600.0C476.2,599.4 475.4,597.3 476.0,596.5Z" fill="#ea3020" filter="url(#b2)"/>
<ellipse cx="456" cy="611" rx="5" ry="2.2" fill="#48d868" filter="url(#b2)" transform="rotate(20 456 611)"/>
<ellipse cx="465" cy="613.5" rx="6" ry="1.5" fill="#e4e02c" filter="url(#b2)" transform="rotate(5 465 613.5)"/>
<ellipse cx="474" cy="612" rx="4" ry="1.6" fill="#40c8d8" filter="url(#b2)" transform="rotate(-25 474 612)"/>
<ellipse cx="480" cy="570.5" rx="3" ry="3" fill="#48d0d8" filter="url(#b2)" transform="rotate(0 480 570.5)"/>
<ellipse cx="480" cy="570.5" rx="1.3" ry="1.3" fill="#e8e040" filter="url(#b2)" transform="rotate(0 480 570.5)"/>
<ellipse cx="439.6" cy="616" rx="4.2" ry="2.2" fill="#2c30a0" filter="url(#b1)" transform="rotate(0 439.6 616)"/>
<ellipse cx="487.5" cy="574" rx="1.6" ry="2.5" fill="#2c30a0" filter="url(#b1)" transform="rotate(0 487.5 574)"/>
<ellipse cx="490" cy="583" rx="1.5" ry="2.5" fill="#2c30a0" filter="url(#b1)" transform="rotate(0 490 583)"/>
<g filter="url(#b2)">
<path d="M309.0,665.0C308.5,662.2 309.3,659.7 310.0,657.0C310.7,654.3 311.7,651.5 313.0,649.0C314.3,646.5 316.2,643.9 318.0,642.0C319.8,640.1 321.8,638.3 324.0,637.5C326.2,636.7 328.7,636.8 331.0,637.0C333.3,637.2 335.8,638.0 338.0,639.0C340.2,640.0 342.3,641.2 344.0,643.0C345.7,644.8 347.2,647.5 348.0,650.0C348.8,652.5 349.2,655.3 349.0,658.0C348.8,660.7 348.0,663.5 347.0,666.0C346.0,668.5 344.7,670.8 343.0,673.0C341.3,675.2 339.2,677.3 337.0,679.0C334.8,680.7 332.3,682.5 330.0,683.0C327.7,683.5 325.0,682.7 323.0,682.0C321.0,681.3 319.7,680.3 318.0,679.0C316.3,677.7 314.5,676.3 313.0,674.0C311.5,671.7 309.5,667.8 309.0,665.0Z" fill="#2c4cd8"/>
<path d="M310.4,664.6C309.9,662.0 310.7,659.7 311.3,657.2C311.9,654.7 312.9,652.1 314.1,649.8C315.4,647.4 317.1,645.0 318.8,643.3C320.5,641.5 322.3,639.9 324.4,639.1C326.4,638.3 328.7,638.4 330.9,638.6C333.0,638.8 335.4,639.5 337.4,640.5C339.4,641.4 341.4,642.5 342.9,644.2C344.5,645.9 345.9,648.4 346.7,650.7C347.4,653.0 347.8,655.7 347.6,658.1C347.4,660.6 346.7,663.3 345.7,665.6C344.8,667.9 343.6,670.1 342.0,672.1C340.5,674.1 338.5,676.1 336.4,677.7C334.4,679.2 332.1,680.9 329.9,681.4C327.8,681.9 325.3,681.1 323.4,680.5C321.6,679.8 320.3,678.9 318.8,677.7C317.2,676.4 315.5,675.2 314.1,673.0C312.7,670.9 310.9,667.3 310.4,664.6Z" fill="#38b0ee"/>
</g>
<path d="M317.0,650.0C317.5,647.5 320.0,643.7 322.0,642.0C324.0,640.3 326.5,640.0 329.0,640.0C331.5,640.0 334.5,640.8 337.0,642.0C339.5,643.2 342.5,644.7 344.0,647.0C345.5,649.3 346.0,652.8 346.0,656.0C346.0,659.2 345.2,663.0 344.0,666.0C342.8,669.0 341.0,671.7 339.0,674.0C337.0,676.3 334.3,679.2 332.0,680.0C329.7,680.8 326.7,680.3 325.0,679.0C323.3,677.7 322.5,674.7 322.0,672.0C321.5,669.3 322.5,665.5 322.0,663.0C321.5,660.5 319.8,659.2 319.0,657.0C318.2,654.8 316.5,652.5 317.0,650.0Z" fill="#40d0e4" filter="url(#b2)"/>
<path d="M327.0,655.0C327.7,653.0 330.2,650.7 332.0,650.0C333.8,649.3 336.3,649.8 338.0,651.0C339.7,652.2 341.3,654.7 342.0,657.0C342.7,659.3 342.7,662.5 342.0,665.0C341.3,667.5 339.7,670.0 338.0,672.0C336.3,674.0 333.8,676.5 332.0,677.0C330.2,677.5 328.0,676.5 327.0,675.0C326.0,673.5 325.8,670.2 326.0,668.0C326.2,665.8 327.8,664.2 328.0,662.0C328.2,659.8 326.3,657.0 327.0,655.0Z" fill="#64dc8c" filter="url(#b2)"/>
<path d="M331.0,660.0C331.8,658.0 333.7,655.2 335.0,655.0C336.3,654.8 338.3,657.2 339.0,659.0C339.7,660.8 339.5,663.8 339.0,666.0C338.5,668.2 337.3,670.7 336.0,672.0C334.7,673.3 332.0,674.8 331.0,674.0C330.0,673.2 330.0,669.3 330.0,667.0C330.0,664.7 330.2,662.0 331.0,660.0Z" fill="#90e058" filter="url(#b2)"/>
<ellipse cx="315" cy="665" rx="4.5" ry="9" fill="#3458dc" filter="url(#b2)" transform="rotate(8 315 665)"/>
<ellipse cx="327" cy="645.5" rx="4" ry="2.8" fill="#3050d4" filter="url(#b2)" transform="rotate(-15 327 645.5)"/>
<ellipse cx="336" cy="646" rx="3" ry="2" fill="#58dca0" filter="url(#b2)" transform="rotate(0 336 646)"/>
<ellipse cx="336.2" cy="669.6" rx="1.5" ry="1.9" fill="#e82020" filter="url(#b2)" transform="rotate(0 336.2 669.6)"/>
<ellipse cx="335" cy="666" rx="1.2" ry="1.2" fill="#f0d030" filter="url(#b2)" transform="rotate(0 335 666)"/>
<ellipse cx="333" cy="656" rx="1.1" ry="1.1" fill="#f0c030" filter="url(#b2)" transform="rotate(0 333 656)"/>
<ellipse cx="334.5" cy="661" rx="1" ry="1" fill="#e8d040" filter="url(#b2)" transform="rotate(0 334.5 661)"/>
<circle cx="340.5" cy="642.5" r="1.5" fill="none" stroke="#d8d848" stroke-width="0.7"/>
<path d="M311.0,683.0C311.9,681.8 314.0,680.7 315.0,681.0C316.0,681.3 316.8,683.5 317.0,685.0C317.2,686.5 316.8,688.9 316.0,690.0C315.2,691.1 313.1,691.8 312.0,691.5C310.9,691.2 309.7,689.4 309.5,688.0C309.3,686.6 310.1,684.2 311.0,683.0Z" fill="#58c8f0" filter="url(#b2)"/>
<g filter="url(#b1)">
<path d="M380.8,657.9C380.9,655.9 381.2,652.4 382.3,650.5C383.5,648.5 385.9,646.8 387.6,646.2C389.4,645.7 391.2,646.8 392.9,647.3C394.7,647.8 396.6,649.8 398.2,649.4C399.8,649.0 401.1,645.7 402.5,645.2C403.9,644.6 405.7,645.0 406.7,646.2C407.8,647.5 408.8,650.3 408.8,652.6C408.8,654.9 407.6,657.5 406.7,660.0C405.8,662.5 404.8,665.1 403.5,667.4C402.3,669.7 400.9,672.2 399.3,673.8C397.7,675.4 395.8,677.0 394.0,677.0C392.2,677.0 390.3,675.4 388.7,673.8C387.1,672.2 385.7,669.4 384.5,667.4C383.2,665.5 381.9,663.7 381.3,662.1C380.7,660.5 380.6,659.8 380.8,657.9Z" fill="#22228c"/>
<path d="M382.1,658.1C382.3,656.4 382.5,653.2 383.6,651.5C384.6,649.7 386.7,648.1 388.3,647.6C389.9,647.2 391.5,648.1 393.1,648.6C394.6,649.1 396.4,650.8 397.8,650.5C399.2,650.2 400.3,647.2 401.6,646.7C402.9,646.2 404.4,646.5 405.4,647.6C406.3,648.8 407.3,651.3 407.3,653.4C407.3,655.4 406.2,657.8 405.4,660.0C404.6,662.2 403.7,664.6 402.6,666.6C401.4,668.7 400.2,670.9 398.8,672.4C397.3,673.8 395.6,675.2 394.0,675.2C392.4,675.2 390.7,673.8 389.2,672.4C387.8,670.9 386.6,668.4 385.4,666.6C384.3,664.9 383.2,663.3 382.6,661.9C382.0,660.5 382.0,659.8 382.1,658.1Z" fill="#3636b8"/>
<path d="M384.0,658.4C384.1,656.9 384.3,654.3 385.2,652.8C386.1,651.3 387.9,650.0 389.2,649.6C390.5,649.2 391.9,650.0 393.2,650.4C394.5,650.8 396.0,652.3 397.2,652.0C398.4,651.7 399.3,649.2 400.4,648.8C401.5,648.4 402.8,648.7 403.6,649.6C404.4,650.5 405.2,652.7 405.2,654.4C405.2,656.1 404.3,658.1 403.6,660.0C402.9,661.9 402.1,663.9 401.2,665.6C400.3,667.3 399.2,669.2 398.0,670.4C396.8,671.6 395.3,672.8 394.0,672.8C392.7,672.8 391.2,671.6 390.0,670.4C388.8,669.2 387.7,667.1 386.8,665.6C385.9,664.1 384.9,662.8 384.4,661.6C383.9,660.4 383.9,659.9 384.0,658.4Z" fill="#4646d0"/>
<path d="M387.8,659.0C387.8,658.1 388.0,656.4 388.5,655.5C389.0,654.6 390.2,653.8 391.0,653.5C391.8,653.2 392.7,653.8 393.5,654.0C394.3,654.2 395.2,655.2 396.0,655.0C396.8,654.8 397.3,653.2 398.0,653.0C398.7,652.8 399.5,652.9 400.0,653.5C400.5,654.1 401.0,655.4 401.0,656.5C401.0,657.6 400.4,658.8 400.0,660.0C399.6,661.2 399.1,662.4 398.5,663.5C397.9,664.6 397.2,665.8 396.5,666.5C395.8,667.2 394.8,668.0 394.0,668.0C393.2,668.0 392.2,667.2 391.5,666.5C390.8,665.8 390.1,664.4 389.5,663.5C388.9,662.6 388.3,661.8 388.0,661.0C387.7,660.2 387.7,659.9 387.8,659.0Z" fill="#5260dc"/>
</g>
<path d="M454.0,637.0C454.5,635.8 456.8,635.5 458.0,636.0C459.2,636.5 460.7,638.5 461.0,640.0C461.3,641.5 459.7,643.7 460.0,645.0C460.3,646.3 463.0,646.8 463.0,648.0C463.0,649.2 461.7,651.1 460.0,652.0C458.3,652.9 454.7,653.7 453.0,653.5C451.3,653.3 449.8,651.9 450.0,651.0C450.2,650.1 453.2,649.3 454.0,648.0C454.8,646.7 455.0,644.8 455.0,643.0C455.0,641.2 453.5,638.2 454.0,637.0Z" fill="#3050d4" filter="url(#b2)"/>
<ellipse cx="457" cy="641" rx="1.6" ry="3" fill="#5078e8" filter="url(#b2)" transform="rotate(0 457 641)"/>
<g filter="url(#b2)">
<path d="M449.0,667.0C449.0,664.8 449.2,661.5 450.0,659.0C450.8,656.5 452.3,653.8 454.0,652.0C455.7,650.2 457.8,649.0 460.0,648.0C462.2,647.0 464.7,646.2 467.0,646.0C469.3,645.8 471.7,645.8 474.0,646.5C476.3,647.2 479.0,648.6 481.0,650.0C483.0,651.4 484.7,653.0 486.0,655.0C487.3,657.0 488.4,659.5 489.0,662.0C489.6,664.5 489.8,667.5 489.5,670.0C489.2,672.5 488.2,675.0 487.0,677.0C485.8,679.0 484.0,680.7 482.0,682.0C480.0,683.3 477.5,684.5 475.0,685.0C472.5,685.5 469.7,685.5 467.0,685.0C464.3,684.5 461.3,683.3 459.0,682.0C456.7,680.7 454.5,678.7 453.0,677.0C451.5,675.3 450.7,673.7 450.0,672.0C449.3,670.3 449.0,669.2 449.0,667.0Z" fill="#2c4cd8"/>
<path d="M449.9,667.0C449.9,664.9 450.1,661.8 450.9,659.4C451.7,657.0 453.1,654.5 454.7,652.8C456.3,651.0 458.3,649.9 460.4,649.0C462.5,648.0 464.8,647.3 467.1,647.0C469.3,646.8 471.5,646.9 473.7,647.5C475.9,648.2 478.5,649.5 480.4,650.9C482.2,652.2 483.8,653.7 485.1,655.6C486.4,657.5 487.4,659.9 487.9,662.2C488.5,664.6 488.7,667.5 488.4,669.9C488.1,672.2 487.2,674.6 486.1,676.5C484.9,678.4 483.2,680.0 481.3,681.2C479.4,682.5 477.0,683.6 474.6,684.1C472.3,684.6 469.6,684.6 467.1,684.1C464.5,683.6 461.7,682.5 459.4,681.2C457.2,680.0 455.2,678.1 453.8,676.5C452.3,674.9 451.5,673.3 450.9,671.8C450.3,670.2 449.9,669.1 449.9,667.0Z" fill="#38b0ee"/>
<path d="M450.9,667.0C450.9,665.0 451.1,662.0 451.8,659.8C452.6,657.5 453.9,655.1 455.4,653.5C456.9,651.9 458.9,650.8 460.8,649.9C462.8,649.0 465.0,648.3 467.1,648.1C469.2,647.9 471.3,647.9 473.4,648.5C475.5,649.1 477.9,650.4 479.7,651.7C481.5,653.0 483.0,654.4 484.2,656.2C485.4,658.0 486.4,660.2 486.9,662.5C487.4,664.8 487.7,667.5 487.4,669.7C487.1,672.0 486.2,674.2 485.1,676.0C484.0,677.8 482.4,679.3 480.6,680.5C478.8,681.7 476.6,682.8 474.3,683.2C472.1,683.7 469.5,683.7 467.1,683.2C464.7,682.8 462.0,681.7 459.9,680.5C457.8,679.3 455.9,677.5 454.5,676.0C453.1,674.5 452.4,673.0 451.8,671.5C451.2,670.0 450.9,669.0 450.9,667.0Z" fill="#54d8a8"/>
<path d="M452.0,667.0C452.0,665.2 452.2,662.4 452.9,660.3C453.6,658.2 454.8,655.9 456.2,654.4C457.6,652.9 459.5,651.9 461.3,651.0C463.1,650.2 465.2,649.6 467.2,649.4C469.1,649.1 471.1,649.2 473.0,649.8C475.0,650.3 477.2,651.5 478.9,652.7C480.6,653.9 482.0,655.2 483.1,656.9C484.2,658.6 485.1,660.7 485.6,662.8C486.1,664.9 486.3,667.4 486.1,669.5C485.8,671.6 485.0,673.7 484.0,675.4C482.9,677.1 481.4,678.5 479.8,679.6C478.1,680.7 476.0,681.7 473.9,682.1C471.8,682.5 469.4,682.5 467.2,682.1C464.9,681.7 462.4,680.7 460.4,679.6C458.5,678.5 456.7,676.8 455.4,675.4C454.1,674.0 453.4,672.6 452.9,671.2C452.3,669.8 452.0,668.8 452.0,667.0Z" fill="#86e060"/>
</g>
<ellipse cx="468" cy="651" rx="9" ry="2.6" fill="#44c8e4" filter="url(#b2)" transform="rotate(0 468 651)"/>
<ellipse cx="484" cy="660" rx="2.4" ry="6" fill="#44a8e8" filter="url(#b2)" transform="rotate(0 484 660)"/>
<ellipse cx="468" cy="668" rx="10" ry="8" fill="#a0e458" filter="url(#b1)" transform="rotate(0 468 668)"/>
<ellipse cx="460" cy="669" rx="1.7" ry="1.7" fill="#f0e040" filter="url(#b2)" transform="rotate(0 460 669)"/>
<ellipse cx="465" cy="666" rx="1.4" ry="1.4" fill="#f0e040" filter="url(#b2)" transform="rotate(0 465 666)"/>
<ellipse cx="468" cy="662" rx="1.2" ry="1.2" fill="#f0e040" filter="url(#b2)" transform="rotate(0 468 662)"/>
<ellipse cx="478" cy="672" rx="1.5" ry="1.5" fill="#f0e040" filter="url(#b2)" transform="rotate(0 478 672)"/>
<ellipse cx="472" cy="675" rx="1.2" ry="1.2" fill="#f0e040" filter="url(#b2)" transform="rotate(0 472 675)"/>
<ellipse cx="481" cy="666" rx="1.1" ry="1.1" fill="#f0e040" filter="url(#b2)" transform="rotate(0 481 666)"/>
<ellipse cx="462" cy="675" rx="1.1" ry="1.1" fill="#f0e040" filter="url(#b2)" transform="rotate(0 462 675)"/>
<ellipse cx="474" cy="652" rx="1.6" ry="1.6" fill="#f0e040" filter="url(#b2)" transform="rotate(0 474 652)"/>
<ellipse cx="470" cy="670" rx="1.2" ry="1.2" fill="#f0e040" filter="url(#b2)" transform="rotate(0 470 670)"/>
<ellipse cx="474" cy="652" rx="0.8" ry="0.8" fill="#f08030" filter="url(#b2)" transform="rotate(0 474 652)"/>
<text x="327.3" y="565.8" font-size="6.9" text-anchor="middle" font-weight="bold" fill="#f2f2f2" textLength="14.5" lengthAdjust="spacingAndGlyphs">iRFP</text>
<text x="400" y="565.5" font-size="6.9" text-anchor="middle" font-weight="bold" fill="#f2f2f2" textLength="56" lengthAdjust="spacingAndGlyphs">iRFP+GFP-Emerin</text>
<text x="470.5" y="567.2" font-size="6.9" text-anchor="middle" font-weight="bold" fill="#f2f2f2" textLength="53.5" lengthAdjust="spacingAndGlyphs">iRFP+GFP-M45A</text>
<text x="327.8" y="633.4" font-size="6.9" text-anchor="middle" font-weight="bold" fill="#f2f2f2" textLength="53" lengthAdjust="spacingAndGlyphs">iRFP+GFP-M151</text>
<text x="399" y="634.2" font-size="6.9" text-anchor="middle" font-weight="bold" fill="#f2f2f2" textLength="52" lengthAdjust="spacingAndGlyphs">iRFP+GFP-M196</text>
<text x="469.7" y="634.6" font-size="6.9" text-anchor="middle" font-weight="bold" fill="#f2f2f2" textLength="49" lengthAdjust="spacingAndGlyphs">iRFP+GFP-S54F</text>
<rect x="509" y="557.6" width="4.3" height="141" fill="url(#cbG)" stroke="#c8c8c8" stroke-width="0.3"/>
<line x1="513.9" y1="560.0" x2="515.5" y2="560.0" stroke="#555" stroke-width="0.5"/>
<text x="516" y="560.9" font-size="2.4" text-anchor="start" font-weight="normal" fill="#666">80</text>
<line x1="513.9" y1="577.1" x2="515.5" y2="577.1" stroke="#555" stroke-width="0.5"/>
<text x="516" y="578.0" font-size="2.4" text-anchor="start" font-weight="normal" fill="#666">70</text>
<line x1="513.9" y1="594.2" x2="515.5" y2="594.2" stroke="#555" stroke-width="0.5"/>
<text x="516" y="595.1" font-size="2.4" text-anchor="start" font-weight="normal" fill="#666">60</text>
<line x1="513.9" y1="611.3" x2="515.5" y2="611.3" stroke="#555" stroke-width="0.5"/>
<text x="516" y="612.1999999999999" font-size="2.4" text-anchor="start" font-weight="normal" fill="#666">50</text>
<line x1="513.9" y1="628.4" x2="515.5" y2="628.4" stroke="#555" stroke-width="0.5"/>
<text x="516" y="629.3" font-size="2.4" text-anchor="start" font-weight="normal" fill="#666">40</text>
<line x1="513.9" y1="645.5" x2="515.5" y2="645.5" stroke="#555" stroke-width="0.5"/>
<text x="516" y="646.4" font-size="2.4" text-anchor="start" font-weight="normal" fill="#666">30</text>
<line x1="513.9" y1="662.6" x2="515.5" y2="662.6" stroke="#555" stroke-width="0.5"/>
<text x="516" y="663.5" font-size="2.4" text-anchor="start" font-weight="normal" fill="#666">20</text>
<line x1="513.9" y1="679.7" x2="515.5" y2="679.7" stroke="#555" stroke-width="0.5"/>
<text x="516" y="680.6" font-size="2.4" text-anchor="start" font-weight="normal" fill="#666">10</text>
<line x1="513.9" y1="696.8" x2="515.5" y2="696.8" stroke="#555" stroke-width="0.5"/>
<text x="516" y="697.6999999999999" font-size="2.4" text-anchor="start" font-weight="normal" fill="#666">0</text>
</g>
</svg>
</body></html>
